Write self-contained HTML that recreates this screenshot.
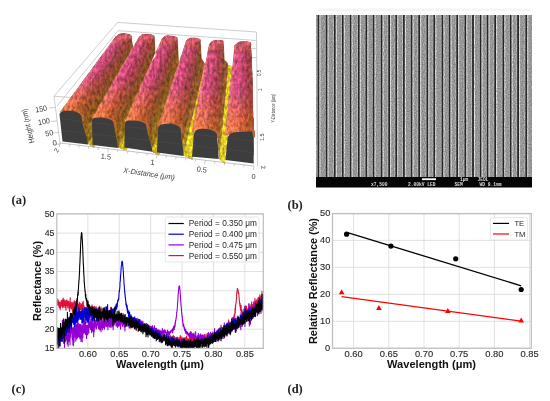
<!DOCTYPE html><html><head><meta charset="utf-8"><style>html,body{margin:0;padding:0;background:#fff;overflow:hidden;}svg{display:block;}text{font-family:"Liberation Sans",sans-serif;}</style></head><body>
<svg width="550" height="401" viewBox="0 0 550 401" style="will-change:transform">
<rect width="550" height="401" fill="#fff"/>
<text x="11.5" y="203.6" style="font-family:'Liberation Serif',serif;font-weight:bold;font-size:12.5px" fill="#222">(a)</text>
<text x="287.5" y="209.3" style="font-family:'Liberation Serif',serif;font-weight:bold;font-size:12.5px" fill="#222">(b)</text>
<text x="11.5" y="392.6" style="font-family:'Liberation Serif',serif;font-weight:bold;font-size:12.5px" fill="#222">(c)</text>
<text x="287.5" y="393.0" style="font-family:'Liberation Serif',serif;font-weight:bold;font-size:12.5px" fill="#222">(d)</text>
<defs><filter id="semn" x="0" y="0" width="1" height="1" filterUnits="objectBoundingBox" color-interpolation-filters="sRGB"><feTurbulence type="fractalNoise" baseFrequency="0.9 0.7" numOctaves="1" seed="3" result="n"/><feColorMatrix in="n" type="matrix" values="1.3 0 0 0 -0.15  1.3 0 0 0 -0.15  1.3 0 0 0 -0.15  0 0 0 0 1" result="g"/><feComposite in="SourceGraphic" in2="g" operator="arithmetic" k1="0.5" k2="0.75" k3="0" k4="0" result="c"/><feComposite in="c" in2="SourceAlpha" operator="in"/></filter></defs>
<rect x="318" y="8.5" width="212" height="2.5" fill="#ececec" opacity="0.6"/>
<g filter="url(#semn)">
<rect x="316" y="15" width="216" height="162" fill="#969696"/>
<rect x="316.85" y="15" width="0.8" height="162" fill="#c0c0c0"/>
<rect x="317.65" y="15" width="1.8" height="162" fill="#262626"/>
<rect x="319.45" y="15" width="1.0" height="162" fill="#dcdcdc"/>
<rect x="324.95" y="15" width="0.8" height="162" fill="#c0c0c0"/>
<rect x="325.75" y="15" width="1.8" height="162" fill="#262626"/>
<rect x="327.55" y="15" width="1.0" height="162" fill="#dcdcdc"/>
<rect x="333.15" y="15" width="0.8" height="162" fill="#c0c0c0"/>
<rect x="333.95" y="15" width="1.8" height="162" fill="#262626"/>
<rect x="335.75" y="15" width="1.0" height="162" fill="#dcdcdc"/>
<rect x="341.15" y="15" width="0.8" height="162" fill="#c0c0c0"/>
<rect x="341.95" y="15" width="1.8" height="162" fill="#262626"/>
<rect x="343.75" y="15" width="1.0" height="162" fill="#dcdcdc"/>
<rect x="348.95" y="15" width="0.8" height="162" fill="#c0c0c0"/>
<rect x="349.75" y="15" width="1.8" height="162" fill="#262626"/>
<rect x="351.55" y="15" width="1.0" height="162" fill="#dcdcdc"/>
<rect x="357.15" y="15" width="0.8" height="162" fill="#c0c0c0"/>
<rect x="357.95" y="15" width="1.8" height="162" fill="#262626"/>
<rect x="359.75" y="15" width="1.0" height="162" fill="#dcdcdc"/>
<rect x="364.75" y="15" width="0.8" height="162" fill="#c0c0c0"/>
<rect x="365.55" y="15" width="1.8" height="162" fill="#262626"/>
<rect x="367.35" y="15" width="1.0" height="162" fill="#dcdcdc"/>
<rect x="371.95" y="15" width="0.8" height="162" fill="#c0c0c0"/>
<rect x="372.75" y="15" width="1.8" height="162" fill="#262626"/>
<rect x="374.55" y="15" width="1.0" height="162" fill="#dcdcdc"/>
<rect x="379.95" y="15" width="0.8" height="162" fill="#c0c0c0"/>
<rect x="380.75" y="15" width="1.8" height="162" fill="#262626"/>
<rect x="382.55" y="15" width="1.0" height="162" fill="#dcdcdc"/>
<rect x="387.55" y="15" width="0.8" height="162" fill="#c0c0c0"/>
<rect x="388.35" y="15" width="1.8" height="162" fill="#262626"/>
<rect x="390.15" y="15" width="1.0" height="162" fill="#dcdcdc"/>
<rect x="394.65" y="15" width="0.8" height="162" fill="#c0c0c0"/>
<rect x="395.45" y="15" width="1.8" height="162" fill="#262626"/>
<rect x="397.25" y="15" width="1.0" height="162" fill="#dcdcdc"/>
<rect x="402.25" y="15" width="0.8" height="162" fill="#c0c0c0"/>
<rect x="403.05" y="15" width="1.8" height="162" fill="#262626"/>
<rect x="404.85" y="15" width="1.0" height="162" fill="#dcdcdc"/>
<rect x="409.95" y="15" width="0.8" height="162" fill="#c0c0c0"/>
<rect x="410.75" y="15" width="1.8" height="162" fill="#262626"/>
<rect x="412.55" y="15" width="1.0" height="162" fill="#dcdcdc"/>
<rect x="417.55" y="15" width="0.8" height="162" fill="#c0c0c0"/>
<rect x="418.35" y="15" width="1.8" height="162" fill="#262626"/>
<rect x="420.15" y="15" width="1.0" height="162" fill="#dcdcdc"/>
<rect x="425.75" y="15" width="0.8" height="162" fill="#c0c0c0"/>
<rect x="426.55" y="15" width="1.8" height="162" fill="#262626"/>
<rect x="428.35" y="15" width="1.0" height="162" fill="#dcdcdc"/>
<rect x="432.65" y="15" width="0.8" height="162" fill="#c0c0c0"/>
<rect x="433.45" y="15" width="1.8" height="162" fill="#262626"/>
<rect x="435.25" y="15" width="1.0" height="162" fill="#dcdcdc"/>
<rect x="440.85" y="15" width="0.8" height="162" fill="#c0c0c0"/>
<rect x="441.65" y="15" width="1.8" height="162" fill="#262626"/>
<rect x="443.45" y="15" width="1.0" height="162" fill="#dcdcdc"/>
<rect x="447.95" y="15" width="0.8" height="162" fill="#c0c0c0"/>
<rect x="448.75" y="15" width="1.8" height="162" fill="#262626"/>
<rect x="450.55" y="15" width="1.0" height="162" fill="#dcdcdc"/>
<rect x="455.55" y="15" width="0.8" height="162" fill="#c0c0c0"/>
<rect x="456.35" y="15" width="1.8" height="162" fill="#262626"/>
<rect x="458.15" y="15" width="1.0" height="162" fill="#dcdcdc"/>
<rect x="463.75" y="15" width="0.8" height="162" fill="#c0c0c0"/>
<rect x="464.55" y="15" width="1.8" height="162" fill="#262626"/>
<rect x="466.35" y="15" width="1.0" height="162" fill="#dcdcdc"/>
<rect x="471.35" y="15" width="0.8" height="162" fill="#c0c0c0"/>
<rect x="472.15" y="15" width="1.8" height="162" fill="#262626"/>
<rect x="473.95" y="15" width="1.0" height="162" fill="#dcdcdc"/>
<rect x="478.95" y="15" width="0.8" height="162" fill="#c0c0c0"/>
<rect x="479.75" y="15" width="1.8" height="162" fill="#262626"/>
<rect x="481.55" y="15" width="1.0" height="162" fill="#dcdcdc"/>
<rect x="485.95" y="15" width="0.8" height="162" fill="#c0c0c0"/>
<rect x="486.75" y="15" width="1.8" height="162" fill="#262626"/>
<rect x="488.55" y="15" width="1.0" height="162" fill="#dcdcdc"/>
<rect x="493.55" y="15" width="0.8" height="162" fill="#c0c0c0"/>
<rect x="494.35" y="15" width="1.8" height="162" fill="#262626"/>
<rect x="496.15" y="15" width="1.0" height="162" fill="#dcdcdc"/>
<rect x="501.75" y="15" width="0.8" height="162" fill="#c0c0c0"/>
<rect x="502.55" y="15" width="1.8" height="162" fill="#262626"/>
<rect x="504.35" y="15" width="1.0" height="162" fill="#dcdcdc"/>
<rect x="509.05" y="15" width="0.8" height="162" fill="#c0c0c0"/>
<rect x="509.85" y="15" width="1.8" height="162" fill="#262626"/>
<rect x="511.65" y="15" width="1.0" height="162" fill="#dcdcdc"/>
<rect x="516.45" y="15" width="0.8" height="162" fill="#c0c0c0"/>
<rect x="517.25" y="15" width="1.8" height="162" fill="#262626"/>
<rect x="519.05" y="15" width="1.0" height="162" fill="#dcdcdc"/>
<rect x="524.65" y="15" width="0.8" height="162" fill="#c0c0c0"/>
<rect x="525.45" y="15" width="1.8" height="162" fill="#262626"/>
<rect x="527.25" y="15" width="1.0" height="162" fill="#dcdcdc"/>
</g>
<rect x="316" y="177" width="216" height="10.5" fill="#050505"/>
<rect x="422" y="178.3" width="14" height="1.8" fill="#fff"/>
<text x="371" y="186.2" style="font-family:'Liberation Mono',monospace;font-size:4.6px;font-weight:bold" fill="#ddd">x7,500</text>
<text x="408" y="186.2" style="font-family:'Liberation Mono',monospace;font-size:4.6px;font-weight:bold" fill="#ddd">2.00kV LED</text>
<text x="454.5" y="186.2" style="font-family:'Liberation Mono',monospace;font-size:4.6px;font-weight:bold" fill="#ddd">SEM</text>
<text x="479.5" y="186.2" style="font-family:'Liberation Mono',monospace;font-size:4.6px;font-weight:bold" fill="#ddd">WD 9.1mm</text>
<text x="460" y="181" style="font-family:'Liberation Mono',monospace;font-size:4.6px;font-weight:bold" fill="#ddd">1&#956;m</text>
<text x="477.5" y="181" style="font-family:'Liberation Mono',monospace;font-size:4.6px;font-weight:bold" fill="#ddd">JEOL</text>
<g>
<line x1="56.8" y1="348.40" x2="263.3" y2="348.40" stroke="#dedede" stroke-width="0.9"/>
<line x1="56.8" y1="329.19" x2="263.3" y2="329.19" stroke="#dedede" stroke-width="0.9"/>
<line x1="56.8" y1="309.98" x2="263.3" y2="309.98" stroke="#dedede" stroke-width="0.9"/>
<line x1="56.8" y1="290.76" x2="263.3" y2="290.76" stroke="#dedede" stroke-width="0.9"/>
<line x1="56.8" y1="271.55" x2="263.3" y2="271.55" stroke="#dedede" stroke-width="0.9"/>
<line x1="56.8" y1="252.33" x2="263.3" y2="252.33" stroke="#dedede" stroke-width="0.9"/>
<line x1="56.8" y1="233.12" x2="263.3" y2="233.12" stroke="#dedede" stroke-width="0.9"/>
<line x1="56.8" y1="213.90" x2="263.3" y2="213.90" stroke="#dedede" stroke-width="0.9"/>
<line x1="87.87" y1="213.9" x2="87.87" y2="348.4" stroke="#dedede" stroke-width="0.9"/>
<line x1="119.27" y1="213.9" x2="119.27" y2="348.4" stroke="#dedede" stroke-width="0.9"/>
<line x1="150.68" y1="213.9" x2="150.68" y2="348.4" stroke="#dedede" stroke-width="0.9"/>
<line x1="182.08" y1="213.9" x2="182.08" y2="348.4" stroke="#dedede" stroke-width="0.9"/>
<line x1="213.48" y1="213.9" x2="213.48" y2="348.4" stroke="#dedede" stroke-width="0.9"/>
<line x1="244.88" y1="213.9" x2="244.88" y2="348.4" stroke="#dedede" stroke-width="0.9"/>
<clipPath id="cc"><rect x="56.8" y="213.9" width="206.5" height="134.49999999999997"/></clipPath>
<g clip-path="url(#cc)" fill="none" stroke-width="1.1" stroke-linejoin="round">
<polyline points="56.8,302.3 57.0,301.6 57.1,303.0 57.2,304.6 57.4,303.5 57.5,304.9 57.6,302.3 57.7,299.1 57.9,303.8 58.0,304.1 58.1,301.3 58.3,301.7 58.4,302.3 58.5,305.0 58.7,302.7 58.8,300.9 58.9,306.2 59.0,303.9 59.2,307.7 59.3,306.1 59.4,307.6 59.6,303.5 59.7,306.2 59.8,302.2 59.9,302.5 60.1,303.4 60.2,309.6 60.3,304.4 60.5,303.2 60.6,302.8 60.7,307.2 60.8,304.4 61.0,305.8 61.1,305.3 61.2,300.3 61.4,305.4 61.5,303.3 61.6,300.9 61.8,304.9 61.9,303.6 62.0,303.1 62.1,303.2 62.3,306.8 62.4,303.2 62.5,299.7 62.7,307.8 62.8,301.1 62.9,303.2 63.0,305.4 63.2,298.0 63.3,301.5 63.4,307.0 63.6,303.5 63.7,302.1 63.8,304.3 63.9,301.8 64.1,304.0 64.2,301.9 64.3,299.7 64.5,305.8 64.6,303.3 64.7,305.3 64.9,303.6 65.0,307.4 65.1,305.7 65.2,304.6 65.4,301.4 65.5,300.7 65.6,308.0 65.8,306.5 65.9,302.2 66.0,310.1 66.1,305.6 66.3,304.5 66.4,300.5 66.5,302.2 66.7,305.3 66.8,305.5 66.9,305.1 67.0,299.8 67.2,305.7 67.3,305.4 67.4,303.4 67.6,304.9 67.7,305.2 67.8,308.0 68.0,304.6 68.1,306.0 68.2,301.0 68.3,302.6 68.5,304.8 68.6,302.6 68.7,305.8 68.9,301.5 69.0,304.8 69.1,303.0 69.2,309.0 69.4,303.8 69.5,310.3 69.6,311.5 69.8,306.0 69.9,307.9 70.0,304.5 70.2,297.7 70.3,307.8 70.4,307.2 70.5,304.5 70.7,303.5 70.8,305.8 70.9,305.9 71.1,302.9 71.2,303.5 71.3,308.8 71.4,305.6 71.6,305.2 71.7,308.9 71.8,304.5 72.0,308.4 72.1,302.1 72.2,304.8 72.3,305.2 72.5,307.6 72.6,306.0 72.7,312.5 72.9,309.6 73.0,304.4 73.1,313.2 73.3,302.7 73.4,311.9 73.5,303.1 73.6,308.8 73.8,303.0 73.9,305.4 74.0,311.4 74.2,301.3 74.3,300.7 74.4,306.2 74.5,307.0 74.7,306.6 74.8,309.6 74.9,302.0 75.1,308.1 75.2,306.3 75.3,309.1 75.4,308.5 75.6,311.0 75.7,301.5 75.8,306.9 76.0,302.7 76.1,306.3 76.2,309.1 76.4,307.7 76.5,308.6 76.6,306.5 76.7,308.0 76.9,307.8 77.0,311.9 77.1,309.8 77.3,300.5 77.4,309.4 77.5,310.9 77.6,305.6 77.8,301.6 77.9,312.5 78.0,307.8 78.2,309.5 78.3,313.8 78.4,304.4 78.5,307.3 78.7,307.0 78.8,310.2 78.9,305.6 79.1,309.4 79.2,308.0 79.3,311.7 79.5,312.2 79.6,302.4 79.7,309.5 79.8,306.5 80.0,307.8 80.1,309.4 80.2,309.7 80.4,305.4 80.5,309.0 80.6,308.5 80.7,307.9 80.9,303.4 81.0,305.4 81.1,306.6 81.3,310.3 81.4,313.5 81.5,304.5 81.6,304.5 81.8,308.8 81.9,306.2 82.0,305.3 82.2,305.2 82.3,304.9 82.4,310.3 82.6,302.6 82.7,313.5 82.8,305.3 82.9,306.7 83.1,305.3 83.2,301.4 83.3,303.0 83.5,313.3 83.6,315.5 83.7,305.7 83.8,313.0 84.0,309.1 84.1,305.7 84.2,315.6 84.4,317.5 84.5,308.2 84.6,309.1 84.7,310.3 84.9,309.2 85.0,312.8 85.1,315.4 85.3,310.1 85.4,313.4 85.5,316.1 85.7,307.6 85.8,309.9 85.9,308.0 86.0,313.7 86.2,312.4 86.3,313.8 86.4,313.4 86.6,309.1 86.7,313.1 86.8,308.5 86.9,308.6 87.1,301.9 87.2,315.7 87.3,306.5 87.5,310.5 87.6,310.3 87.7,316.2 87.8,312.2 88.0,307.3 88.1,310.7 88.2,310.1 88.4,311.7 88.5,305.8 88.6,310.7 88.8,319.6 88.9,313.5 89.0,318.7 89.1,324.0 89.3,313.0 89.4,305.4 89.5,310.7 89.7,315.7 89.8,314.8 89.9,306.4 90.0,310.5 90.2,311.0 90.3,311.4 90.4,311.1 90.6,308.0 90.7,309.1 90.8,310.5 90.9,315.8 91.1,309.4 91.2,314.4 91.3,307.1 91.5,316.9 91.6,312.3 91.7,311.8 91.9,317.3 92.0,304.8 92.1,305.9 92.2,313.9 92.4,308.9 92.5,310.5 92.6,323.0 92.8,311.2 92.9,312.5 93.0,312.0 93.1,316.8 93.3,313.5 93.4,313.2 93.5,307.6 93.7,311.2 93.8,312.7 93.9,306.3 94.0,315.1 94.2,314.4 94.3,320.4 94.4,306.3 94.6,308.9 94.7,309.2 94.8,310.3 95.0,312.7 95.1,312.3 95.2,314.3 95.3,314.1 95.5,313.1 95.6,307.0 95.7,311.1 95.9,313.7 96.0,316.0 96.1,316.3 96.2,306.8 96.4,311.5 96.5,313.5 96.6,315.3 96.8,318.6 96.9,314.2 97.0,310.2 97.1,315.7 97.3,315.0 97.4,315.1 97.5,313.7 97.7,321.1 97.8,315.3 97.9,318.0 98.1,310.6 98.2,317.8 98.3,312.0 98.4,307.9 98.6,315.9 98.7,317.2 98.8,313.9 99.0,314.8 99.1,319.1 99.2,312.8 99.3,306.1 99.5,316.1 99.6,315.9 99.7,319.6 99.9,313.7 100.0,320.6 100.1,320.1 100.3,309.6 100.4,319.3 100.5,310.6 100.6,308.7 100.8,314.2 100.9,313.0 101.0,306.9 101.2,316.3 101.3,318.0 101.4,321.4 101.5,315.3 101.7,309.1 101.8,311.3 101.9,319.6 102.1,319.2 102.2,317.7 102.3,314.3 102.4,316.5 102.6,314.7 102.7,314.3 102.8,316.9 103.0,315.8 103.1,314.8 103.2,316.0 103.4,313.5 103.5,307.8 103.6,313.2 103.7,315.5 103.9,322.8 104.0,314.1 104.1,323.9 104.3,321.6 104.4,312.3 104.5,312.9 104.6,316.4 104.8,322.9 104.9,317.4 105.0,318.7 105.2,313.3 105.3,306.7 105.4,315.0 105.5,319.1 105.7,320.7 105.8,316.2 105.9,316.7 106.1,320.6 106.2,315.5 106.3,320.6 106.5,311.6 106.6,311.8 106.7,311.8 106.8,317.9 107.0,314.1 107.1,316.6 107.2,317.6 107.4,317.5 107.5,321.2 107.6,321.8 107.7,313.1 107.9,316.9 108.0,315.4 108.1,312.4 108.3,322.9 108.4,319.2 108.5,315.6 108.6,314.8 108.8,317.7 108.9,312.4 109.0,315.5 109.2,320.9 109.3,319.8 109.4,313.4 109.6,314.7 109.7,323.4 109.8,311.4 109.9,314.2 110.1,311.5 110.2,317.9 110.3,317.6 110.5,320.6 110.6,307.3 110.7,317.2 110.8,310.8 111.0,318.9 111.1,316.0 111.2,322.6 111.4,318.0 111.5,313.1 111.6,321.1 111.7,312.9 111.9,315.5 112.0,320.3 112.1,318.4 112.3,318.3 112.4,316.9 112.5,318.6 112.7,319.6 112.8,317.8 112.9,320.3 113.0,321.2 113.2,317.0 113.3,313.8 113.4,322.0 113.6,316.8 113.7,319.1 113.8,320.2 113.9,314.0 114.1,318.6 114.2,311.9 114.3,319.5 114.5,315.7 114.6,317.7 114.7,319.5 114.8,315.1 115.0,317.5 115.1,315.1 115.2,317.2 115.4,320.6 115.5,317.4 115.6,316.9 115.8,314.1 115.9,320.0 116.0,317.3 116.1,322.5 116.3,315.1 116.4,320.5 116.5,322.8 116.7,317.4 116.8,313.8 116.9,321.9 117.0,320.6 117.2,319.5 117.3,320.7 117.4,316.2 117.6,319.7 117.7,319.5 117.8,315.6 117.9,319.6 118.1,316.1 118.2,320.2 118.3,320.9 118.5,322.7 118.6,312.1 118.7,318.4 118.9,316.8 119.0,317.6 119.1,317.0 119.2,317.4 119.4,312.2 119.5,320.4 119.6,321.9 119.8,320.4 119.9,321.3 120.0,315.5 120.1,315.3 120.3,320.3 120.4,321.4 120.5,318.6 120.7,313.9 120.8,325.5 120.9,316.4 121.0,320.8 121.2,315.1 121.3,320.9 121.4,318.8 121.6,322.2 121.7,320.8 121.8,314.4 122.0,316.0 122.1,319.4 122.2,320.7 122.3,323.6 122.5,319.5 122.6,318.6 122.7,318.8 122.9,318.9 123.0,321.8 123.1,318.9 123.2,318.9 123.4,315.2 123.5,313.7 123.6,319.3 123.8,321.1 123.9,319.2 124.0,320.8 124.1,321.2 124.3,319.3 124.4,322.1 124.5,317.6 124.7,319.6 124.8,318.7 124.9,320.0 125.1,321.5 125.2,322.2 125.3,320.3 125.4,321.2 125.6,319.1 125.7,319.8 125.8,323.6 126.0,319.7 126.1,323.6 126.2,321.7 126.3,320.8 126.5,325.7 126.6,319.9 126.7,319.8 126.9,320.7 127.0,321.4 127.1,321.3 127.3,323.0 127.4,321.2 127.5,322.0 127.6,320.3 127.8,323.8 127.9,320.0 128.0,320.3 128.2,321.1 128.3,322.0 128.4,319.4 128.5,325.3 128.7,319.8 128.8,320.4 128.9,320.3 129.1,320.1 129.2,322.9 129.3,321.9 129.4,319.6 129.6,320.2 129.7,320.9 129.8,325.4 130.0,320.1 130.1,318.5 130.2,319.0 130.4,321.1 130.5,325.7 130.6,319.3 130.7,322.2 130.9,328.3 131.0,321.0 131.1,325.8 131.3,325.3 131.4,323.7 131.5,318.9 131.6,323.1 131.8,321.6 131.9,317.9 132.0,318.3 132.2,322.7 132.3,323.0 132.4,325.6 132.5,324.3 132.7,321.5 132.8,321.7 132.9,322.4 133.1,320.3 133.2,324.7 133.3,323.0 133.5,321.1 133.6,321.5 133.7,320.4 133.8,322.1 134.0,323.9 134.1,322.3 134.2,325.7 134.4,327.3 134.5,321.9 134.6,323.5 134.7,322.7 134.9,327.6 135.0,324.4 135.1,325.0 135.3,325.7 135.4,329.1 135.5,324.6 135.6,321.7 135.8,323.0 135.9,325.3 136.0,324.0 136.2,322.2 136.3,330.6 136.4,324.4 136.6,322.9 136.7,322.6 136.8,320.3 136.9,321.7 137.1,323.7 137.2,323.7 137.3,322.7 137.5,325.8 137.6,324.7 137.7,322.6 137.8,320.2 138.0,325.1 138.1,324.9 138.2,324.4 138.4,321.9 138.5,325.0 138.6,321.7 138.7,327.3 138.9,325.6 139.0,325.6 139.1,323.5 139.3,322.9 139.4,328.7 139.5,327.4 139.7,324.7 139.8,327.0 139.9,328.9 140.0,323.3 140.2,324.6 140.3,324.6 140.4,326.8 140.6,323.6 140.7,326.4 140.8,323.5 140.9,328.0 141.1,327.9 141.2,325.6 141.3,327.6 141.5,324.7 141.6,325.7 141.7,328.3 141.8,326.2 142.0,327.1 142.1,324.5 142.2,327.8 142.4,327.5 142.5,324.1 142.6,322.0 142.8,322.5 142.9,326.6 143.0,326.4 143.1,323.7 143.3,327.2 143.4,329.0 143.5,326.8 143.7,326.2 143.8,328.8 143.9,330.5 144.0,330.2 144.2,325.9 144.3,328.9 144.4,327.7 144.6,327.0 144.7,326.3 144.8,328.2 144.9,326.6 145.1,329.4 145.2,328.4 145.3,329.8 145.5,325.6 145.6,327.9 145.7,329.4 145.9,328.7 146.0,328.5 146.1,326.7 146.2,331.2 146.4,330.2 146.5,329.0 146.6,323.4 146.8,326.5 146.9,328.6 147.0,327.1 147.1,324.6 147.3,329.0 147.4,329.3 147.5,326.4 147.7,327.8 147.8,327.5 147.9,329.8 148.0,325.3 148.2,325.7 148.3,327.9 148.4,327.8 148.6,332.8 148.7,328.0 148.8,329.5 149.0,328.4 149.1,328.0 149.2,330.0 149.3,332.5 149.5,328.8 149.6,330.8 149.7,330.1 149.9,330.7 150.0,330.3 150.1,333.8 150.2,327.6 150.4,329.4 150.5,327.9 150.6,326.4 150.8,329.9 150.9,333.2 151.0,331.7 151.1,332.3 151.3,331.1 151.4,330.2 151.5,333.9 151.7,329.8 151.8,333.1 151.9,330.0 152.1,330.8 152.2,331.2 152.3,330.9 152.4,331.8 152.6,332.0 152.7,333.9 152.8,331.1 153.0,327.8 153.1,327.6 153.2,328.9 153.3,330.0 153.5,332.5 153.6,328.8 153.7,331.5 153.9,331.6 154.0,332.1 154.1,331.5 154.3,332.5 154.4,331.9 154.5,333.7 154.6,332.6 154.8,327.9 154.9,332.1 155.0,332.5 155.2,331.2 155.3,331.0 155.4,334.2 155.5,332.7 155.7,330.8 155.8,332.0 155.9,332.3 156.1,329.8 156.2,333.9 156.3,332.6 156.4,333.7 156.6,330.2 156.7,336.4 156.8,334.2 157.0,334.0 157.1,331.9 157.2,332.1 157.4,330.7 157.5,336.1 157.6,332.0 157.7,333.9 157.9,334.7 158.0,332.6 158.1,335.3 158.3,337.4 158.4,334.4 158.5,336.5 158.6,335.0 158.8,333.3 158.9,333.4 159.0,331.2 159.2,334.5 159.3,337.0 159.4,335.6 159.5,336.0 159.7,336.6 159.8,333.6 159.9,335.7 160.1,338.2 160.2,333.4 160.3,334.9 160.5,334.1 160.6,334.6 160.7,333.7 160.8,334.9 161.0,332.8 161.1,334.3 161.2,334.4 161.4,334.5 161.5,337.9 161.6,335.6 161.7,335.9 161.9,335.1 162.0,338.0 162.1,332.6 162.3,335.5 162.4,337.9 162.5,338.9 162.6,336.4 162.8,336.1 162.9,337.3 163.0,335.9 163.2,337.3 163.3,335.1 163.4,337.6 163.6,336.4 163.7,334.5 163.8,331.6 163.9,338.3 164.1,337.4 164.2,338.2 164.3,335.2 164.5,338.9 164.6,337.7 164.7,336.9 164.8,338.7 165.0,338.8 165.1,337.9 165.2,341.0 165.4,339.9 165.5,338.0 165.6,337.0 165.7,337.7 165.9,340.8 166.0,338.4 166.1,336.1 166.3,336.6 166.4,337.8 166.5,339.4 166.7,336.6 166.8,339.0 166.9,340.2 167.0,339.5 167.2,335.3 167.3,337.7 167.4,336.0 167.6,339.2 167.7,336.5 167.8,339.5 167.9,338.7 168.1,333.8 168.2,337.1 168.3,339.6 168.5,338.9 168.6,338.1 168.7,336.5 168.8,339.8 169.0,342.3 169.1,339.6 169.2,339.1 169.4,338.9 169.5,336.7 169.6,338.7 169.8,337.8 169.9,341.5 170.0,337.8 170.1,335.5 170.3,338.0 170.4,339.0 170.5,339.2 170.7,336.1 170.8,341.3 170.9,339.7 171.0,338.7 171.2,338.1 171.3,340.4 171.4,338.9 171.6,340.1 171.7,339.3 171.8,339.8 171.9,341.7 172.1,339.6 172.2,337.9 172.3,341.4 172.5,340.0 172.6,338.3 172.7,341.5 172.9,339.2 173.0,341.5 173.1,337.4 173.2,335.2 173.4,335.7 173.5,339.9 173.6,338.1 173.8,339.3 173.9,339.3 174.0,336.6 174.1,342.0 174.3,337.6 174.4,339.6 174.5,336.9 174.7,339.2 174.8,340.8 174.9,339.0 175.0,338.2 175.2,339.5 175.3,338.6 175.4,340.5 175.6,343.5 175.7,337.9 175.8,338.2 176.0,339.3 176.1,339.4 176.2,337.6 176.3,340.4 176.5,340.8 176.6,339.9 176.7,337.4 176.9,342.1 177.0,337.4 177.1,340.7 177.2,341.5 177.4,337.2 177.5,339.7 177.6,341.9 177.8,340.2 177.9,337.8 178.0,337.4 178.1,340.3 178.3,338.8 178.4,338.2 178.5,340.7 178.7,338.9 178.8,339.6 178.9,340.5 179.1,340.4 179.2,339.4 179.3,339.5 179.4,340.5 179.6,340.3 179.7,337.5 179.8,339.1 180.0,337.9 180.1,337.4 180.2,338.5 180.3,335.5 180.5,341.0 180.6,338.1 180.7,340.1 180.9,336.2 181.0,336.5 181.1,343.0 181.3,341.2 181.4,338.3 181.5,338.1 181.6,338.2 181.8,339.6 181.9,338.7 182.0,338.4 182.2,339.7 182.3,337.7 182.4,343.5 182.5,338.4 182.7,341.3 182.8,337.8 182.9,339.9 183.1,341.1 183.2,338.9 183.3,341.1 183.4,341.1 183.6,342.2 183.7,339.6 183.8,338.7 184.0,337.7 184.1,339.8 184.2,337.7 184.4,339.5 184.5,339.7 184.6,338.5 184.7,337.7 184.9,340.1 185.0,339.9 185.1,339.8 185.3,339.4 185.4,341.1 185.5,337.7 185.6,340.2 185.8,338.7 185.9,340.9 186.0,338.9 186.2,338.8 186.3,340.2 186.4,336.0 186.5,338.9 186.7,336.4 186.8,337.8 186.9,340.7 187.1,340.2 187.2,338.7 187.3,339.4 187.5,339.4 187.6,340.0 187.7,342.7 187.8,339.9 188.0,343.4 188.1,338.8 188.2,340.8 188.4,340.8 188.5,339.9 188.6,339.0 188.7,342.1 188.9,342.7 189.0,341.4 189.1,343.2 189.3,341.3 189.4,336.6 189.5,341.4 189.6,338.3 189.8,342.0 189.9,339.0 190.0,340.1 190.2,339.7 190.3,338.5 190.4,336.3 190.6,339.2 190.7,339.3 190.8,341.4 190.9,338.5 191.1,340.0 191.2,338.0 191.3,339.6 191.5,336.3 191.6,343.3 191.7,340.1 191.8,337.9 192.0,340.2 192.1,341.1 192.2,340.1 192.4,342.2 192.5,339.4 192.6,335.0 192.7,337.4 192.9,341.7 193.0,341.3 193.1,340.4 193.3,337.7 193.4,341.2 193.5,340.9 193.7,337.9 193.8,338.0 193.9,340.3 194.0,341.8 194.2,342.6 194.3,341.0 194.4,344.0 194.6,338.2 194.7,340.9 194.8,338.7 194.9,336.0 195.1,337.3 195.2,341.9 195.3,337.9 195.5,337.4 195.6,341.1 195.7,341.5 195.8,339.9 196.0,342.8 196.1,336.7 196.2,344.5 196.4,341.9 196.5,340.2 196.6,340.1 196.8,339.3 196.9,339.1 197.0,340.1 197.1,337.4 197.3,344.0 197.4,339.7 197.5,341.1 197.7,339.4 197.8,339.2 197.9,341.6 198.0,341.0 198.2,338.1 198.3,339.0 198.4,341.1 198.6,335.5 198.7,334.9 198.8,342.7 198.9,339.1 199.1,334.5 199.2,338.1 199.3,339.3 199.5,340.2 199.6,340.9 199.7,340.2 199.9,340.9 200.0,338.2 200.1,340.6 200.2,340.7 200.4,342.3 200.5,339.8 200.6,341.6 200.8,340.1 200.9,337.5 201.0,339.0 201.1,338.7 201.3,339.0 201.4,339.6 201.5,340.0 201.7,340.4 201.8,338.1 201.9,342.1 202.0,336.9 202.2,339.7 202.3,341.4 202.4,340.8 202.6,341.3 202.7,339.4 202.8,341.4 203.0,337.3 203.1,341.5 203.2,344.8 203.3,341.4 203.5,344.3 203.6,339.9 203.7,337.4 203.9,338.4 204.0,342.8 204.1,341.5 204.2,335.8 204.4,339.1 204.5,339.8 204.6,337.4 204.8,334.2 204.9,336.8 205.0,339.4 205.1,338.9 205.3,338.2 205.4,341.0 205.5,342.0 205.7,339.4 205.8,341.7 205.9,339.6 206.1,339.2 206.2,334.0 206.3,341.4 206.4,339.6 206.6,339.7 206.7,338.2 206.8,336.8 207.0,340.3 207.1,341.1 207.2,343.0 207.3,341.3 207.5,337.8 207.6,338.9 207.7,341.4 207.9,339.8 208.0,338.8 208.1,337.7 208.3,340.3 208.4,339.4 208.5,343.2 208.6,341.5 208.8,334.8 208.9,344.0 209.0,339.5 209.2,338.1 209.3,339.5 209.4,340.5 209.5,338.6 209.7,338.5 209.8,338.6 209.9,343.0 210.1,338.7 210.2,340.4 210.3,339.6 210.4,337.7 210.6,336.6 210.7,335.9 210.8,339.4 211.0,335.8 211.1,335.1 211.2,335.1 211.4,334.5 211.5,338.3 211.6,338.4 211.7,335.8 211.9,341.3 212.0,337.3 212.1,339.1 212.3,338.7 212.4,342.2 212.5,340.0 212.6,337.7 212.8,335.3 212.9,335.0 213.0,337.7 213.2,338.0 213.3,339.6 213.4,336.3 213.5,338.0 213.7,335.7 213.8,332.6 213.9,337.2 214.1,341.0 214.2,339.2 214.3,340.7 214.5,340.0 214.6,333.3 214.7,336.1 214.8,340.6 215.0,334.8 215.1,333.1 215.2,337.3 215.4,338.1 215.5,337.1 215.6,335.4 215.7,334.4 215.9,332.9 216.0,332.7 216.1,332.7 216.3,332.1 216.4,333.9 216.5,339.7 216.6,335.9 216.8,334.6 216.9,336.4 217.0,332.9 217.2,336.2 217.3,337.7 217.4,331.2 217.6,333.2 217.7,334.4 217.8,332.4 217.9,331.9 218.1,333.8 218.2,341.4 218.3,336.4 218.5,335.8 218.6,337.1 218.7,333.8 218.8,331.0 219.0,335.5 219.1,337.2 219.2,328.4 219.4,335.2 219.5,337.3 219.6,333.2 219.7,332.6 219.9,335.6 220.0,331.4 220.1,334.9 220.3,336.0 220.4,332.8 220.5,331.1 220.7,335.0 220.8,332.2 220.9,333.3 221.0,325.0 221.2,334.9 221.3,328.9 221.4,332.9 221.6,333.0 221.7,330.5 221.8,329.9 221.9,328.8 222.1,331.4 222.2,333.9 222.3,333.7 222.5,330.6 222.6,330.3 222.7,327.9 222.8,330.6 223.0,328.7 223.1,327.3 223.2,331.1 223.4,335.7 223.5,334.8 223.6,335.4 223.8,326.7 223.9,333.6 224.0,327.5 224.1,329.3 224.3,326.0 224.4,327.9 224.5,331.0 224.7,331.2 224.8,330.3 224.9,329.9 225.0,331.9 225.2,330.4 225.3,325.5 225.4,335.0 225.6,329.3 225.7,332.5 225.8,329.3 225.9,327.3 226.1,329.8 226.2,327.3 226.3,334.0 226.5,326.1 226.6,330.9 226.7,327.3 226.9,328.4 227.0,336.2 227.1,330.8 227.2,327.9 227.4,324.1 227.5,327.5 227.6,327.5 227.8,332.0 227.9,323.9 228.0,322.8 228.1,327.6 228.3,328.2 228.4,331.9 228.5,324.8 228.7,319.7 228.8,325.0 228.9,323.4 229.0,325.3 229.2,329.3 229.3,322.8 229.4,329.6 229.6,326.7 229.7,325.2 229.8,323.5 230.0,324.6 230.1,324.5 230.2,327.3 230.3,328.5 230.5,324.8 230.6,326.6 230.7,328.0 230.9,327.6 231.0,325.5 231.1,328.7 231.2,327.2 231.4,327.6 231.5,322.9 231.6,322.2 231.8,318.1 231.9,326.3 232.0,324.0 232.1,320.0 232.3,322.4 232.4,322.4 232.5,317.5 232.7,321.8 232.8,323.3 232.9,323.2 233.1,319.3 233.2,319.0 233.3,322.1 233.4,320.9 233.6,317.4 233.7,316.8 233.8,318.7 234.0,315.8 234.1,315.4 234.2,319.1 234.3,315.8 234.5,313.9 234.6,314.9 234.7,316.7 234.9,312.9 235.0,310.5 235.1,308.4 235.3,313.0 235.4,305.2 235.5,309.3 235.6,305.4 235.8,303.9 235.9,303.0 236.0,302.7 236.2,302.8 236.3,299.4 236.4,299.4 236.5,299.8 236.7,293.1 236.8,293.9 236.9,291.6 237.1,292.9 237.2,289.8 237.3,288.9 237.4,288.3 237.6,289.3 237.7,290.1 237.8,289.3 238.0,291.4 238.1,291.5 238.2,290.6 238.4,292.5 238.5,292.7 238.6,293.8 238.7,292.9 238.9,294.6 239.0,297.2 239.1,297.0 239.3,300.3 239.4,300.9 239.5,300.5 239.6,304.1 239.8,303.8 239.9,306.1 240.0,305.0 240.2,303.5 240.3,307.7 240.4,306.9 240.5,309.2 240.7,310.2 240.8,310.8 240.9,306.8 241.1,305.6 241.2,309.2 241.3,311.7 241.5,309.4 241.6,311.6 241.7,309.7 241.8,310.9 242.0,311.1 242.1,310.6 242.2,313.2 242.4,313.0 242.5,315.8 242.6,313.3 242.7,315.5 242.9,312.9 243.0,314.7 243.1,312.5 243.3,311.8 243.4,316.0 243.5,314.7 243.6,315.0 243.8,311.2 243.9,309.0 244.0,311.0 244.2,313.7 244.3,309.5 244.4,316.4 244.6,309.4 244.7,314.4 244.8,319.4 244.9,306.5 245.1,309.0 245.2,315.2 245.3,312.3 245.5,313.1 245.6,312.3 245.7,316.1 245.8,314.1 246.0,311.3 246.1,311.8 246.2,309.3 246.4,312.0 246.5,306.4 246.6,313.8 246.7,311.4 246.9,316.6 247.0,314.9 247.1,308.5 247.3,314.0 247.4,310.3 247.5,311.7 247.7,314.0 247.8,312.2 247.9,312.5 248.0,312.4 248.2,309.2 248.3,309.4 248.4,312.4 248.6,313.1 248.7,310.0 248.8,310.9 248.9,308.0 249.1,303.8 249.2,308.3 249.3,310.3 249.5,310.6 249.6,312.2 249.7,312.2 249.8,312.4 250.0,310.7 250.1,310.7 250.2,307.7 250.4,310.5 250.5,309.9 250.6,312.3 250.8,305.1 250.9,307.8 251.0,304.5 251.1,306.9 251.3,305.0 251.4,309.2 251.5,306.8 251.7,301.7 251.8,311.3 251.9,305.3 252.0,303.9 252.2,307.0 252.3,306.0 252.4,304.6 252.6,309.3 252.7,306.5 252.8,309.6 252.9,309.0 253.1,308.8 253.2,307.5 253.3,306.6 253.5,305.8 253.6,310.3 253.7,301.7 253.9,303.7 254.0,304.6 254.1,307.2 254.2,306.5 254.4,304.8 254.5,305.0 254.6,310.1 254.8,303.9 254.9,298.4 255.0,310.1 255.1,302.9 255.3,304.3 255.4,305.3 255.5,301.5 255.7,307.6 255.8,304.1 255.9,300.7 256.0,304.7 256.2,305.0 256.3,303.6 256.4,304.8 256.6,299.7 256.7,305.5 256.8,301.0 257.0,306.0 257.1,301.2 257.2,302.9 257.3,308.8 257.5,302.3 257.6,304.7 257.7,303.0 257.9,298.1 258.0,304.3 258.1,304.0 258.2,297.8 258.4,300.8 258.5,297.2 258.6,300.0 258.8,302.7 258.9,300.6 259.0,297.3 259.1,297.8 259.3,299.9 259.4,299.6 259.5,299.8 259.7,300.8 259.8,294.7 259.9,299.0 260.1,301.5 260.2,299.8 260.3,296.8 260.4,296.9 260.6,298.5 260.7,299.6 260.8,297.8 261.0,301.6 261.1,300.5 261.2,295.5 261.3,298.3 261.5,296.1 261.6,294.0 261.7,295.1 261.9,296.4 262.0,291.4 262.1,294.6 262.3,296.7 262.4,294.1 262.5,294.7 262.6,297.4 262.8,295.1 262.9,295.4 263.0,299.3 263.2,295.1 263.3,295.2 263.4,295.4" stroke="#dc143c"/>
<polyline points="56.8,345.0 57.0,337.7 57.1,335.9 57.2,335.0 57.4,342.2 57.5,331.8 57.6,342.7 57.7,336.8 57.9,327.6 58.0,339.7 58.1,338.5 58.3,328.7 58.4,337.8 58.5,337.2 58.7,333.9 58.8,328.5 58.9,349.5 59.0,340.6 59.2,341.8 59.3,342.4 59.4,340.9 59.6,340.8 59.7,333.0 59.8,341.2 59.9,334.1 60.1,332.2 60.2,340.0 60.3,334.0 60.5,323.6 60.6,332.6 60.7,339.2 60.8,335.2 61.0,341.0 61.1,332.9 61.2,328.8 61.4,340.2 61.5,336.1 61.6,327.1 61.8,337.9 61.9,333.3 62.0,341.4 62.1,340.0 62.3,337.9 62.4,320.1 62.5,337.1 62.7,337.8 62.8,338.0 62.9,335.4 63.0,330.0 63.2,333.0 63.3,320.8 63.4,332.8 63.6,324.8 63.7,332.3 63.8,330.2 63.9,343.4 64.1,334.9 64.2,334.5 64.3,335.6 64.5,347.8 64.6,328.3 64.7,336.4 64.9,336.7 65.0,335.5 65.1,335.3 65.2,331.2 65.4,341.8 65.5,339.6 65.6,331.8 65.8,332.7 65.9,336.0 66.0,337.2 66.1,338.8 66.3,333.9 66.4,326.1 66.5,340.1 66.7,323.9 66.8,328.1 66.9,336.2 67.0,328.5 67.2,342.5 67.3,344.1 67.4,341.3 67.6,335.8 67.7,335.2 67.8,336.4 68.0,332.5 68.1,346.3 68.2,330.0 68.3,341.8 68.5,337.1 68.6,335.5 68.7,340.1 68.9,341.4 69.0,339.1 69.1,333.0 69.2,329.3 69.4,329.4 69.5,338.9 69.6,337.6 69.8,338.3 69.9,330.0 70.0,345.0 70.2,325.2 70.3,335.6 70.4,337.3 70.5,330.5 70.7,326.3 70.8,330.5 70.9,326.2 71.1,331.6 71.2,325.1 71.3,325.0 71.4,333.0 71.6,323.8 71.7,331.3 71.8,331.8 72.0,337.7 72.1,333.9 72.2,327.6 72.3,339.9 72.5,328.3 72.6,330.0 72.7,330.4 72.9,345.0 73.0,332.6 73.1,328.2 73.3,336.4 73.4,331.4 73.5,345.7 73.6,328.0 73.8,335.7 73.9,326.7 74.0,342.4 74.2,327.7 74.3,333.1 74.4,327.0 74.5,337.0 74.7,335.2 74.8,318.7 74.9,336.3 75.1,335.6 75.2,333.1 75.3,337.3 75.4,324.7 75.6,321.6 75.7,335.4 75.8,341.1 76.0,324.7 76.1,325.0 76.2,326.6 76.4,324.7 76.5,336.0 76.6,332.1 76.7,338.8 76.9,339.0 77.0,325.5 77.1,334.7 77.3,318.2 77.4,330.5 77.5,334.4 77.6,326.4 77.8,320.8 77.9,328.1 78.0,337.4 78.2,328.6 78.3,323.1 78.4,333.3 78.5,334.8 78.7,325.0 78.8,329.7 78.9,336.5 79.1,332.5 79.2,334.5 79.3,328.8 79.5,329.7 79.6,324.1 79.7,326.4 79.8,338.7 80.0,328.0 80.1,325.3 80.2,327.7 80.4,324.5 80.5,333.0 80.6,335.1 80.7,325.0 80.9,335.6 81.0,341.4 81.1,324.4 81.3,333.7 81.4,331.4 81.5,337.2 81.6,336.7 81.8,335.8 81.9,331.6 82.0,327.7 82.2,341.7 82.3,325.6 82.4,335.7 82.6,335.1 82.7,325.9 82.8,329.8 82.9,337.4 83.1,319.7 83.2,333.8 83.3,328.0 83.5,328.2 83.6,321.9 83.7,331.5 83.8,323.9 84.0,332.9 84.1,323.3 84.2,332.9 84.4,330.8 84.5,319.2 84.6,327.3 84.7,328.3 84.9,317.4 85.0,327.0 85.1,332.9 85.3,325.0 85.4,334.7 85.5,323.0 85.7,322.5 85.8,331.5 85.9,331.7 86.0,327.6 86.2,328.4 86.3,333.3 86.4,325.6 86.6,338.5 86.7,330.5 86.8,330.3 86.9,329.6 87.1,326.7 87.2,334.3 87.3,325.3 87.5,329.0 87.6,331.3 87.7,334.8 87.8,333.8 88.0,326.2 88.1,332.6 88.2,327.6 88.4,322.7 88.5,322.8 88.6,320.2 88.8,329.2 88.9,332.9 89.0,322.7 89.1,326.1 89.3,322.2 89.4,327.5 89.5,321.7 89.7,323.4 89.8,324.0 89.9,325.0 90.0,325.4 90.2,326.2 90.3,326.2 90.4,322.5 90.6,329.6 90.7,318.9 90.8,327.6 90.9,322.4 91.1,327.4 91.2,328.1 91.3,317.4 91.5,328.3 91.6,332.8 91.7,330.1 91.9,328.2 92.0,316.7 92.1,325.7 92.2,322.3 92.4,331.2 92.5,324.9 92.6,323.4 92.8,318.2 92.9,329.6 93.0,323.6 93.1,325.0 93.3,331.0 93.4,326.3 93.5,327.4 93.7,336.8 93.8,323.4 93.9,323.6 94.0,328.0 94.2,332.1 94.3,319.3 94.4,324.7 94.6,321.3 94.7,319.5 94.8,328.1 95.0,322.1 95.1,326.8 95.2,326.0 95.3,326.0 95.5,325.6 95.6,320.6 95.7,325.0 95.9,326.2 96.0,326.7 96.1,323.9 96.2,329.3 96.4,327.5 96.5,325.5 96.6,327.7 96.8,325.7 96.9,327.8 97.0,316.4 97.1,319.3 97.3,323.1 97.4,325.2 97.5,315.5 97.7,323.5 97.8,325.2 97.9,323.5 98.1,323.5 98.2,318.7 98.3,324.8 98.4,315.7 98.6,328.4 98.7,321.6 98.8,328.8 99.0,316.8 99.1,325.9 99.2,324.7 99.3,320.5 99.5,319.1 99.6,329.0 99.7,325.7 99.9,330.1 100.0,323.6 100.1,324.6 100.3,325.6 100.4,326.9 100.5,325.6 100.6,327.1 100.8,321.7 100.9,317.6 101.0,331.8 101.2,324.3 101.3,325.5 101.4,321.7 101.5,327.6 101.7,324.3 101.8,327.9 101.9,320.7 102.1,323.1 102.2,324.1 102.3,321.9 102.4,324.4 102.6,329.7 102.7,320.9 102.8,322.1 103.0,323.9 103.1,319.2 103.2,318.3 103.4,327.5 103.5,326.2 103.6,316.8 103.7,317.3 103.9,325.9 104.0,327.6 104.1,325.4 104.3,324.8 104.4,329.1 104.5,322.6 104.6,327.8 104.8,327.5 104.9,319.0 105.0,325.3 105.2,322.8 105.3,320.0 105.4,319.3 105.5,323.7 105.7,322.2 105.8,325.6 105.9,315.5 106.1,319.7 106.2,326.5 106.3,322.2 106.5,319.4 106.6,320.2 106.7,315.0 106.8,316.7 107.0,324.1 107.1,322.3 107.2,326.8 107.4,320.9 107.5,321.2 107.6,311.4 107.7,321.4 107.9,329.7 108.0,324.2 108.1,321.2 108.3,326.3 108.4,324.8 108.5,322.9 108.6,320.2 108.8,322.0 108.9,324.7 109.0,318.4 109.2,323.3 109.3,323.1 109.4,326.4 109.6,324.1 109.7,318.7 109.8,327.1 109.9,321.3 110.1,318.4 110.2,322.5 110.3,320.2 110.5,325.2 110.6,316.3 110.7,317.1 110.8,320.3 111.0,327.6 111.1,325.0 111.2,317.6 111.4,314.9 111.5,320.1 111.6,316.6 111.7,323.4 111.9,321.9 112.0,321.2 112.1,319.7 112.3,326.8 112.4,317.9 112.5,316.5 112.7,325.4 112.8,326.2 112.9,320.0 113.0,323.7 113.2,329.8 113.3,318.4 113.4,320.8 113.6,323.0 113.7,313.8 113.8,320.9 113.9,324.0 114.1,321.0 114.2,325.1 114.3,324.1 114.5,320.0 114.6,323.4 114.7,323.0 114.8,315.6 115.0,318.4 115.1,318.6 115.2,319.6 115.4,319.8 115.5,316.4 115.6,321.6 115.8,315.1 115.9,324.8 116.0,322.4 116.1,326.3 116.3,322.7 116.4,319.8 116.5,316.6 116.7,323.9 116.8,321.6 116.9,322.8 117.0,324.1 117.2,325.7 117.3,321.4 117.4,327.5 117.6,321.3 117.7,321.6 117.8,323.9 117.9,325.1 118.1,326.4 118.2,315.4 118.3,326.2 118.5,316.5 118.6,319.7 118.7,322.9 118.9,325.6 119.0,318.3 119.1,316.0 119.2,324.9 119.4,322.8 119.5,318.3 119.6,320.7 119.8,315.2 119.9,323.7 120.0,320.0 120.1,325.9 120.3,315.0 120.4,324.2 120.5,329.1 120.7,322.3 120.8,322.3 120.9,315.7 121.0,323.0 121.2,322.0 121.3,320.0 121.4,316.8 121.6,322.1 121.7,318.6 121.8,320.3 122.0,322.9 122.1,321.7 122.2,321.9 122.3,324.9 122.5,318.1 122.6,326.4 122.7,318.3 122.9,319.0 123.0,322.3 123.1,324.5 123.2,322.8 123.4,320.6 123.5,319.7 123.6,321.2 123.8,319.0 123.9,323.9 124.0,321.4 124.1,327.0 124.3,319.8 124.4,321.7 124.5,323.4 124.7,318.6 124.8,320.0 124.9,330.9 125.1,322.1 125.2,326.7 125.3,318.9 125.4,314.6 125.6,323.8 125.7,322.0 125.8,323.0 126.0,321.2 126.1,320.3 126.2,318.4 126.3,325.3 126.5,317.5 126.6,325.1 126.7,321.5 126.9,318.8 127.0,320.2 127.1,325.2 127.3,324.5 127.4,323.7 127.5,322.5 127.6,319.0 127.8,326.2 127.9,321.0 128.0,320.6 128.2,320.8 128.3,321.1 128.4,318.0 128.5,321.0 128.7,319.9 128.8,320.8 128.9,317.2 129.1,328.0 129.2,318.8 129.3,323.3 129.4,323.3 129.6,325.3 129.7,327.9 129.8,323.6 130.0,324.5 130.1,321.1 130.2,326.8 130.4,318.5 130.5,321.8 130.6,323.3 130.7,324.6 130.9,324.9 131.0,325.8 131.1,324.2 131.3,322.6 131.4,323.2 131.5,326.6 131.6,323.4 131.8,325.2 131.9,322.3 132.0,317.6 132.2,321.0 132.3,323.6 132.4,327.1 132.5,326.5 132.7,327.2 132.8,320.8 132.9,324.8 133.1,322.6 133.2,324.4 133.3,322.6 133.5,319.2 133.6,324.5 133.7,323.7 133.8,324.8 134.0,320.7 134.1,325.4 134.2,325.6 134.4,326.3 134.5,326.3 134.6,321.7 134.7,316.7 134.9,325.3 135.0,320.7 135.1,322.3 135.3,325.5 135.4,323.6 135.5,323.5 135.6,324.5 135.8,318.5 135.9,327.3 136.0,322.1 136.2,322.2 136.3,324.3 136.4,322.7 136.6,321.1 136.7,322.7 136.8,322.1 136.9,321.5 137.1,327.4 137.2,319.9 137.3,318.2 137.5,321.0 137.6,321.0 137.7,326.1 137.8,323.4 138.0,324.8 138.1,324.3 138.2,321.2 138.4,324.8 138.5,323.4 138.6,327.0 138.7,323.5 138.9,323.0 139.0,324.6 139.1,324.6 139.3,319.5 139.4,325.6 139.5,325.3 139.7,324.8 139.8,320.9 139.9,319.2 140.0,322.6 140.2,324.7 140.3,324.2 140.4,321.5 140.6,325.2 140.7,320.9 140.8,321.0 140.9,323.6 141.1,322.6 141.2,322.4 141.3,321.0 141.5,325.9 141.6,321.8 141.7,324.8 141.8,325.5 142.0,324.0 142.1,324.7 142.2,326.1 142.4,327.3 142.5,326.1 142.6,321.9 142.8,321.0 142.9,323.5 143.0,322.6 143.1,325.7 143.3,324.9 143.4,324.4 143.5,326.8 143.7,326.7 143.8,324.9 143.9,325.7 144.0,327.0 144.2,324.6 144.3,325.8 144.4,323.6 144.6,325.4 144.7,326.0 144.8,325.3 144.9,325.9 145.1,326.8 145.2,326.4 145.3,324.5 145.5,324.8 145.6,323.7 145.7,328.8 145.9,326.7 146.0,326.8 146.1,325.9 146.2,327.0 146.4,327.1 146.5,325.0 146.6,326.1 146.8,328.4 146.9,324.3 147.0,324.9 147.1,327.6 147.3,325.3 147.4,328.0 147.5,325.0 147.7,327.2 147.8,328.2 147.9,327.6 148.0,328.3 148.2,326.8 148.3,326.9 148.4,327.2 148.6,328.2 148.7,333.2 148.8,327.3 149.0,330.5 149.1,327.2 149.2,325.8 149.3,327.2 149.5,328.3 149.6,328.1 149.7,328.1 149.9,328.8 150.0,328.9 150.1,329.4 150.2,326.3 150.4,328.2 150.5,326.8 150.6,328.6 150.8,328.2 150.9,328.6 151.0,327.7 151.1,327.3 151.3,328.2 151.4,329.6 151.5,329.9 151.7,326.2 151.8,329.2 151.9,329.3 152.1,326.7 152.2,327.3 152.3,328.2 152.4,329.7 152.6,325.6 152.7,328.6 152.8,328.4 153.0,329.6 153.1,331.5 153.2,331.5 153.3,328.9 153.5,329.0 153.6,330.0 153.7,331.5 153.9,331.9 154.0,330.3 154.1,332.1 154.3,328.6 154.4,328.2 154.5,325.8 154.6,328.8 154.8,331.1 154.9,331.5 155.0,335.5 155.2,331.2 155.3,330.6 155.4,328.9 155.5,329.5 155.7,329.6 155.8,330.2 155.9,329.5 156.1,328.4 156.2,332.2 156.3,331.3 156.4,332.7 156.6,328.3 156.7,328.8 156.8,329.6 157.0,332.6 157.1,330.6 157.2,331.2 157.4,330.8 157.5,331.2 157.6,330.2 157.7,331.6 157.9,329.8 158.0,330.7 158.1,331.5 158.3,331.3 158.4,331.8 158.5,330.0 158.6,331.6 158.8,330.8 158.9,331.9 159.0,333.5 159.2,330.0 159.3,332.9 159.4,330.4 159.5,330.8 159.7,333.9 159.8,332.9 159.9,332.3 160.1,332.8 160.2,333.3 160.3,330.5 160.5,332.0 160.6,331.1 160.7,332.3 160.8,331.3 161.0,332.9 161.1,331.8 161.2,331.0 161.4,331.8 161.5,332.5 161.6,333.5 161.7,331.7 161.9,331.5 162.0,332.4 162.1,333.1 162.3,331.3 162.4,328.5 162.5,332.5 162.6,331.6 162.8,331.6 162.9,335.8 163.0,332.0 163.2,333.2 163.3,330.3 163.4,332.6 163.6,333.4 163.7,332.6 163.8,332.1 163.9,333.2 164.1,332.5 164.2,334.3 164.3,332.7 164.5,331.4 164.6,329.7 164.7,331.5 164.8,332.1 165.0,330.9 165.1,331.1 165.2,330.2 165.4,331.1 165.5,332.8 165.6,332.2 165.7,332.4 165.9,332.2 166.0,332.4 166.1,333.7 166.3,335.6 166.4,333.6 166.5,335.5 166.7,332.6 166.8,332.7 166.9,335.0 167.0,331.8 167.2,331.5 167.3,332.6 167.4,330.5 167.6,330.2 167.7,334.4 167.8,331.3 167.9,332.1 168.1,332.2 168.2,331.5 168.3,333.7 168.5,333.5 168.6,333.8 168.7,333.7 168.8,332.8 169.0,334.6 169.1,334.0 169.2,331.9 169.4,332.7 169.5,332.1 169.6,335.0 169.8,333.5 169.9,333.2 170.0,332.4 170.1,333.2 170.3,331.2 170.4,332.4 170.5,332.2 170.7,332.1 170.8,331.2 170.9,332.5 171.0,330.5 171.2,331.2 171.3,331.5 171.4,331.5 171.6,330.8 171.7,330.1 171.8,330.1 171.9,330.7 172.1,329.9 172.2,330.7 172.3,329.2 172.5,330.6 172.6,332.8 172.7,328.6 172.9,329.9 173.0,331.1 173.1,329.8 173.2,330.4 173.4,326.8 173.5,328.4 173.6,330.3 173.8,327.8 173.9,328.5 174.0,325.8 174.1,328.5 174.3,329.4 174.4,326.7 174.5,326.7 174.7,326.3 174.8,327.5 174.9,324.6 175.0,322.9 175.2,325.7 175.3,322.3 175.4,323.2 175.6,320.0 175.7,321.0 175.8,320.7 176.0,318.9 176.1,318.5 176.2,318.4 176.3,316.4 176.5,316.3 176.6,316.0 176.7,312.1 176.9,312.5 177.0,311.2 177.1,309.2 177.2,308.8 177.4,307.0 177.5,304.8 177.6,303.0 177.8,300.9 177.9,298.5 178.0,297.5 178.1,295.2 178.3,293.3 178.4,292.4 178.5,290.2 178.7,289.3 178.8,287.3 178.9,286.6 179.1,286.2 179.2,286.4 179.3,285.8 179.4,286.5 179.6,286.5 179.7,287.8 179.8,289.3 180.0,289.9 180.1,291.6 180.2,293.9 180.3,294.9 180.5,297.5 180.6,299.4 180.7,301.0 180.9,303.3 181.0,304.9 181.1,306.5 181.3,307.1 181.4,308.7 181.5,311.3 181.6,311.5 181.8,313.9 181.9,314.9 182.0,315.7 182.2,317.2 182.3,316.6 182.4,319.2 182.5,321.3 182.7,320.1 182.8,322.3 182.9,323.0 183.1,326.1 183.2,323.1 183.3,323.9 183.4,324.4 183.6,324.8 183.7,324.6 183.8,326.8 184.0,326.2 184.1,328.3 184.2,328.3 184.4,327.2 184.5,328.3 184.6,330.5 184.7,329.0 184.9,329.9 185.0,330.8 185.1,329.7 185.3,330.9 185.4,332.5 185.5,332.2 185.6,329.1 185.8,333.1 185.9,331.3 186.0,331.0 186.2,331.1 186.3,333.6 186.4,332.7 186.5,332.2 186.7,331.6 186.8,333.5 186.9,334.3 187.1,331.7 187.2,331.7 187.3,332.8 187.5,334.2 187.6,332.9 187.7,333.4 187.8,332.6 188.0,335.5 188.1,333.7 188.2,334.2 188.4,335.6 188.5,333.9 188.6,334.2 188.7,334.9 188.9,333.9 189.0,336.5 189.1,334.7 189.3,334.1 189.4,334.3 189.5,333.3 189.6,336.6 189.8,337.1 189.9,334.7 190.0,334.4 190.2,332.0 190.3,334.3 190.4,336.5 190.6,334.1 190.7,336.6 190.8,337.6 190.9,331.6 191.1,335.0 191.2,334.5 191.3,334.8 191.5,332.9 191.6,335.3 191.7,333.9 191.8,337.4 192.0,338.0 192.1,333.7 192.2,333.7 192.4,335.2 192.5,335.7 192.6,335.8 192.7,337.2 192.9,333.7 193.0,335.1 193.1,335.4 193.3,335.7 193.4,334.6 193.5,335.5 193.7,335.2 193.8,338.3 193.9,335.6 194.0,332.9 194.2,337.4 194.3,336.8 194.4,335.1 194.6,335.0 194.7,335.6 194.8,339.4 194.9,335.9 195.1,338.7 195.2,338.2 195.3,335.9 195.5,337.3 195.6,335.5 195.7,331.5 195.8,335.6 196.0,335.7 196.1,338.5 196.2,338.1 196.4,338.9 196.5,338.0 196.6,339.0 196.8,338.3 196.9,337.5 197.0,338.9 197.1,339.7 197.3,339.6 197.4,336.4 197.5,337.1 197.7,335.4 197.8,335.4 197.9,337.9 198.0,336.1 198.2,340.0 198.3,333.2 198.4,335.2 198.6,337.8 198.7,339.6 198.8,336.8 198.9,341.0 199.1,339.0 199.2,336.2 199.3,337.4 199.5,338.5 199.6,335.8 199.7,339.6 199.9,337.1 200.0,338.6 200.1,339.3 200.2,336.9 200.4,339.7 200.5,334.1 200.6,338.9 200.8,334.0 200.9,340.0 201.0,336.7 201.1,340.2 201.3,340.5 201.4,337.6 201.5,336.6 201.7,340.5 201.8,335.6 201.9,339.6 202.0,337.8 202.2,337.3 202.3,336.9 202.4,341.7 202.6,334.8 202.7,337.0 202.8,339.0 203.0,340.2 203.1,341.6 203.2,341.0 203.3,337.1 203.5,338.9 203.6,340.6 203.7,339.4 203.9,335.0 204.0,339.0 204.1,339.5 204.2,335.5 204.4,337.4 204.5,338.3 204.6,339.7 204.8,341.7 204.9,340.8 205.0,339.3 205.1,338.7 205.3,337.4 205.4,337.0 205.5,337.6 205.7,337.6 205.8,340.2 205.9,342.6 206.1,339.0 206.2,339.9 206.3,339.2 206.4,338.4 206.6,340.4 206.7,340.1 206.8,337.9 207.0,337.3 207.1,339.0 207.2,336.4 207.3,337.9 207.5,339.6 207.6,337.3 207.7,333.2 207.9,338.8 208.0,334.7 208.1,334.1 208.3,333.8 208.4,338.9 208.5,332.6 208.6,336.7 208.8,337.5 208.9,337.4 209.0,335.5 209.2,336.7 209.3,337.2 209.4,333.8 209.5,338.3 209.7,339.0 209.8,334.8 209.9,334.9 210.1,334.0 210.2,338.8 210.3,333.9 210.4,335.2 210.6,332.3 210.7,339.1 210.8,335.7 211.0,336.8 211.1,339.7 211.2,337.7 211.4,333.4 211.5,337.0 211.6,337.6 211.7,333.9 211.9,333.5 212.0,333.5 212.1,337.5 212.3,335.8 212.4,333.2 212.5,337.1 212.6,337.3 212.8,333.6 212.9,331.8 213.0,338.1 213.2,341.4 213.3,338.7 213.4,337.6 213.5,335.5 213.7,333.7 213.8,335.4 213.9,336.7 214.1,334.6 214.2,337.2 214.3,335.0 214.5,336.4 214.6,328.5 214.7,332.8 214.8,336.7 215.0,337.0 215.1,335.7 215.2,338.5 215.4,336.3 215.5,336.3 215.6,332.3 215.7,335.4 215.9,336.3 216.0,337.6 216.1,337.1 216.3,334.3 216.4,334.7 216.5,331.3 216.6,335.6 216.8,331.3 216.9,333.3 217.0,333.9 217.2,338.9 217.3,337.1 217.4,331.9 217.6,330.1 217.7,333.1 217.8,331.6 217.9,334.6 218.1,334.5 218.2,335.2 218.3,330.9 218.5,332.5 218.6,333.9 218.7,334.1 218.8,331.8 219.0,332.3 219.1,335.3 219.2,328.5 219.4,332.3 219.5,333.0 219.6,328.9 219.7,330.1 219.9,333.1 220.0,331.3 220.1,335.6 220.3,334.3 220.4,338.7 220.5,329.1 220.7,337.6 220.8,330.4 220.9,334.5 221.0,334.9 221.2,332.6 221.3,331.3 221.4,330.3 221.6,327.0 221.7,330.8 221.8,329.3 221.9,333.3 222.1,329.6 222.2,331.1 222.3,332.7 222.5,331.6 222.6,331.5 222.7,330.7 222.8,330.0 223.0,332.5 223.1,333.1 223.2,328.8 223.4,335.7 223.5,332.6 223.6,326.3 223.8,338.4 223.9,332.6 224.0,328.5 224.1,335.2 224.3,322.9 224.4,337.8 224.5,326.1 224.7,325.6 224.8,327.4 224.9,330.7 225.0,328.9 225.2,332.5 225.3,327.4 225.4,333.0 225.6,330.5 225.7,326.7 225.8,332.8 225.9,330.5 226.1,328.9 226.2,333.3 226.3,325.8 226.5,328.1 226.6,333.6 226.7,329.1 226.9,331.2 227.0,330.8 227.1,328.6 227.2,330.8 227.4,325.7 227.5,330.7 227.6,325.5 227.8,328.6 227.9,325.8 228.0,329.9 228.1,329.7 228.3,331.6 228.4,326.3 228.5,325.1 228.7,321.4 228.8,323.9 228.9,327.0 229.0,328.4 229.2,326.4 229.3,327.6 229.4,323.0 229.6,324.5 229.7,329.9 229.8,329.4 230.0,322.9 230.1,326.2 230.2,327.8 230.3,323.3 230.5,328.1 230.6,327.7 230.7,328.2 230.9,332.9 231.0,323.9 231.1,330.4 231.2,328.3 231.4,328.8 231.5,324.0 231.6,326.5 231.8,326.1 231.9,331.5 232.0,326.3 232.1,330.7 232.3,324.9 232.4,324.6 232.5,325.8 232.7,319.1 232.8,323.9 232.9,323.6 233.1,325.0 233.2,326.0 233.3,322.2 233.4,321.6 233.6,329.4 233.7,321.6 233.8,323.3 234.0,321.8 234.1,323.3 234.2,328.9 234.3,328.6 234.5,318.6 234.6,323.8 234.7,329.3 234.9,323.3 235.0,325.6 235.1,330.5 235.3,331.9 235.4,329.6 235.5,323.2 235.6,324.2 235.8,324.8 235.9,322.9 236.0,321.7 236.2,330.8 236.3,324.6 236.4,326.3 236.5,327.6 236.7,325.2 236.8,323.7 236.9,324.1 237.1,328.1 237.2,324.7 237.3,316.0 237.4,326.5 237.6,328.6 237.7,321.8 237.8,320.6 238.0,320.9 238.1,326.3 238.2,318.9 238.4,325.0 238.5,326.2 238.6,324.3 238.7,322.4 238.9,319.5 239.0,319.7 239.1,321.9 239.3,318.5 239.4,321.4 239.5,318.4 239.6,326.4 239.8,327.0 239.9,318.6 240.0,326.2 240.2,322.2 240.3,321.4 240.4,322.7 240.5,322.5 240.7,315.9 240.8,329.8 240.9,317.5 241.1,312.4 241.2,320.4 241.3,320.5 241.5,317.7 241.6,313.7 241.7,324.5 241.8,319.8 242.0,320.7 242.1,317.9 242.2,319.3 242.4,317.4 242.5,321.2 242.6,319.4 242.7,322.0 242.9,321.9 243.0,319.9 243.1,319.8 243.3,323.5 243.4,313.4 243.5,319.5 243.6,324.0 243.8,314.9 243.9,321.5 244.0,316.9 244.2,318.7 244.3,317.6 244.4,317.8 244.6,320.5 244.7,318.2 244.8,310.8 244.9,326.4 245.1,317.8 245.2,316.4 245.3,321.8 245.5,322.9 245.6,309.8 245.7,319.0 245.8,309.9 246.0,315.5 246.1,317.1 246.2,315.6 246.4,314.9 246.5,312.8 246.6,315.5 246.7,316.5 246.9,316.3 247.0,311.8 247.1,313.7 247.3,320.4 247.4,319.0 247.5,315.3 247.7,318.8 247.8,317.8 247.9,319.8 248.0,317.2 248.2,314.5 248.3,312.3 248.4,315.9 248.6,308.1 248.7,316.1 248.8,303.7 248.9,311.9 249.1,313.7 249.2,317.3 249.3,326.0 249.5,315.9 249.6,314.5 249.7,307.9 249.8,320.3 250.0,307.8 250.1,315.8 250.2,312.1 250.4,324.3 250.5,314.1 250.6,315.9 250.8,311.9 250.9,314.1 251.0,318.7 251.1,310.7 251.3,311.5 251.4,311.8 251.5,310.2 251.7,309.7 251.8,313.9 251.9,318.9 252.0,318.9 252.2,308.4 252.3,310.8 252.4,313.0 252.6,315.0 252.7,313.1 252.8,313.1 252.9,314.4 253.1,315.7 253.2,304.7 253.3,312.0 253.5,315.1 253.6,317.7 253.7,315.4 253.9,309.8 254.0,309.5 254.1,313.2 254.2,312.1 254.4,313.4 254.5,316.4 254.6,307.0 254.8,310.5 254.9,302.3 255.0,314.7 255.1,312.2 255.3,308.2 255.4,312.5 255.5,316.8 255.7,315.0 255.8,310.9 255.9,309.8 256.0,311.5 256.2,307.1 256.3,307.1 256.4,309.6 256.6,310.6 256.7,311.6 256.8,308.4 257.0,306.9 257.1,310.2 257.2,308.5 257.3,311.5 257.5,315.7 257.6,314.0 257.7,307.0 257.9,308.1 258.0,303.5 258.1,309.5 258.2,306.2 258.4,304.3 258.5,305.5 258.6,311.7 258.8,310.0 258.9,308.7 259.0,313.0 259.1,307.1 259.3,304.9 259.4,310.7 259.5,300.9 259.7,309.8 259.8,309.4 259.9,309.4 260.1,311.2 260.2,306.6 260.3,308.1 260.4,301.5 260.6,305.6 260.7,305.8 260.8,308.7 261.0,313.4 261.1,308.0 261.2,311.0 261.3,303.7 261.5,307.5 261.6,300.7 261.7,304.3 261.9,303.8 262.0,306.1 262.1,306.1 262.3,304.3 262.4,303.1 262.5,309.5 262.6,304.7 262.8,296.1 262.9,306.8 263.0,307.4 263.2,309.0 263.3,312.0 263.4,301.3" stroke="#9400d3"/>
<polyline points="56.8,340.3 57.0,339.0 57.1,331.1 57.2,327.6 57.4,344.3 57.5,334.5 57.6,336.4 57.7,337.4 57.9,336.8 58.0,339.1 58.1,330.9 58.3,335.6 58.4,336.7 58.5,332.1 58.7,333.6 58.8,335.6 58.9,336.1 59.0,328.9 59.2,334.8 59.3,337.6 59.4,341.1 59.6,338.4 59.7,341.7 59.8,335.9 59.9,335.0 60.1,346.0 60.2,335.8 60.3,332.5 60.5,334.7 60.6,339.9 60.7,329.0 60.8,338.3 61.0,340.7 61.1,339.8 61.2,334.4 61.4,329.5 61.5,328.4 61.6,332.8 61.8,339.4 61.9,336.6 62.0,337.6 62.1,333.9 62.3,341.4 62.4,332.2 62.5,329.5 62.7,333.1 62.8,330.0 62.9,336.5 63.0,338.7 63.2,334.7 63.3,325.9 63.4,326.4 63.6,333.2 63.7,325.2 63.8,332.2 63.9,323.4 64.1,328.1 64.2,332.3 64.3,326.2 64.5,333.4 64.6,334.0 64.7,336.3 64.9,328.0 65.0,329.3 65.1,329.2 65.2,330.6 65.4,321.8 65.5,330.3 65.6,331.5 65.8,322.1 65.9,321.1 66.0,326.0 66.1,335.5 66.3,330.0 66.4,324.2 66.5,326.8 66.7,319.5 66.8,332.8 66.9,323.2 67.0,329.0 67.2,319.8 67.3,326.1 67.4,320.9 67.6,328.3 67.7,331.6 67.8,330.0 68.0,327.5 68.1,329.2 68.2,319.2 68.3,318.4 68.5,322.9 68.6,328.4 68.7,324.2 68.9,326.5 69.0,317.1 69.1,321.9 69.2,321.0 69.4,324.7 69.5,331.6 69.6,326.1 69.8,327.5 69.9,321.0 70.0,322.1 70.2,325.9 70.3,324.0 70.4,315.4 70.5,326.3 70.7,326.0 70.8,322.9 70.9,324.9 71.1,323.6 71.2,319.3 71.3,313.9 71.4,329.2 71.6,321.4 71.7,321.0 71.8,321.5 72.0,321.8 72.1,322.4 72.2,316.3 72.3,322.8 72.5,321.2 72.6,320.5 72.7,319.9 72.9,321.1 73.0,315.8 73.1,320.1 73.3,319.2 73.4,320.1 73.5,324.2 73.6,323.4 73.8,324.2 73.9,318.7 74.0,322.5 74.2,323.9 74.3,318.2 74.4,316.8 74.5,326.7 74.7,311.5 74.8,318.7 74.9,319.2 75.1,314.0 75.2,318.2 75.3,321.0 75.4,308.8 75.6,322.8 75.7,318.5 75.8,314.3 76.0,322.5 76.1,318.2 76.2,316.0 76.4,307.3 76.5,321.3 76.6,317.6 76.7,314.5 76.9,316.8 77.0,322.1 77.1,315.3 77.3,316.4 77.4,315.0 77.5,312.1 77.6,312.5 77.8,314.8 77.9,315.1 78.0,320.6 78.2,316.7 78.3,315.2 78.4,317.5 78.5,315.5 78.7,319.1 78.8,310.0 78.9,307.6 79.1,317.3 79.2,314.3 79.3,316.7 79.5,310.9 79.6,314.1 79.7,315.4 79.8,316.6 80.0,315.2 80.1,319.5 80.2,313.1 80.4,318.3 80.5,313.6 80.6,315.1 80.7,311.4 80.9,315.6 81.0,311.6 81.1,319.0 81.3,313.2 81.4,316.3 81.5,314.7 81.6,315.1 81.8,311.9 81.9,322.9 82.0,314.1 82.2,320.9 82.3,310.8 82.4,322.6 82.6,319.0 82.7,321.4 82.8,309.1 82.9,320.0 83.1,314.7 83.2,317.1 83.3,321.8 83.5,316.3 83.6,312.6 83.7,315.7 83.8,311.5 84.0,316.3 84.1,314.9 84.2,316.3 84.4,313.6 84.5,307.9 84.6,313.5 84.7,314.1 84.9,317.1 85.0,317.6 85.1,309.4 85.3,318.8 85.4,318.1 85.5,315.1 85.7,316.2 85.8,307.6 85.9,323.2 86.0,313.3 86.2,312.0 86.3,318.6 86.4,316.9 86.6,313.0 86.7,308.6 86.8,317.8 86.9,320.1 87.1,310.9 87.2,308.9 87.3,315.6 87.5,322.3 87.6,309.1 87.7,315.0 87.8,310.3 88.0,314.4 88.1,315.6 88.2,315.9 88.4,309.1 88.5,309.2 88.6,321.8 88.8,317.6 88.9,308.0 89.0,315.6 89.1,319.0 89.3,314.2 89.4,314.6 89.5,314.6 89.7,315.9 89.8,315.3 89.9,315.8 90.0,313.1 90.2,317.1 90.3,315.2 90.4,314.7 90.6,309.7 90.7,312.9 90.8,314.6 90.9,312.4 91.1,312.8 91.2,310.5 91.3,312.5 91.5,308.1 91.6,309.6 91.7,314.3 91.9,315.6 92.0,311.2 92.1,312.4 92.2,314.5 92.4,319.2 92.5,320.4 92.6,313.0 92.8,311.6 92.9,311.5 93.0,318.5 93.1,310.7 93.3,315.9 93.4,312.9 93.5,312.8 93.7,316.8 93.8,316.1 93.9,321.0 94.0,317.2 94.2,320.1 94.3,312.7 94.4,313.9 94.6,311.1 94.7,313.0 94.8,316.2 95.0,313.0 95.1,315.4 95.2,312.1 95.3,313.1 95.5,317.3 95.6,314.1 95.7,313.9 95.9,315.1 96.0,311.2 96.1,308.6 96.2,315.2 96.4,315.2 96.5,321.2 96.6,314.5 96.8,315.4 96.9,320.9 97.0,313.1 97.1,312.2 97.3,316.3 97.4,315.2 97.5,317.0 97.7,311.6 97.8,318.7 97.9,315.0 98.1,307.9 98.2,313.8 98.3,312.5 98.4,314.4 98.6,317.6 98.7,314.0 98.8,312.7 99.0,317.1 99.1,312.9 99.2,310.1 99.3,310.6 99.5,318.7 99.6,316.9 99.7,318.8 99.9,310.6 100.0,312.0 100.1,311.7 100.3,316.5 100.4,317.4 100.5,313.6 100.6,313.5 100.8,316.4 100.9,313.4 101.0,311.9 101.2,313.1 101.3,316.9 101.4,320.0 101.5,314.5 101.7,313.3 101.8,314.5 101.9,315.0 102.1,315.7 102.2,311.6 102.3,313.8 102.4,313.3 102.6,316.5 102.7,315.5 102.8,313.2 103.0,316.5 103.1,317.3 103.2,314.6 103.4,310.1 103.5,313.0 103.6,309.4 103.7,313.9 103.9,314.4 104.0,317.5 104.1,315.1 104.3,309.4 104.4,312.6 104.5,311.4 104.6,311.5 104.8,313.5 104.9,314.0 105.0,313.1 105.2,311.5 105.3,312.1 105.4,312.0 105.5,312.9 105.7,315.4 105.8,314.0 105.9,315.8 106.1,310.5 106.2,318.9 106.3,313.8 106.5,306.7 106.6,314.1 106.7,316.2 106.8,313.2 107.0,309.6 107.1,313.5 107.2,311.4 107.4,312.7 107.5,314.0 107.6,304.6 107.7,312.7 107.9,314.3 108.0,314.1 108.1,311.8 108.3,311.7 108.4,310.8 108.5,312.4 108.6,316.4 108.8,311.3 108.9,313.4 109.0,313.3 109.2,316.3 109.3,314.0 109.4,314.3 109.6,312.5 109.7,316.0 109.8,312.2 109.9,312.0 110.1,315.0 110.2,313.8 110.3,314.4 110.5,310.0 110.6,318.3 110.7,313.0 110.8,316.1 111.0,313.2 111.1,310.1 111.2,313.6 111.4,311.7 111.5,314.0 111.6,307.5 111.7,309.8 111.9,309.3 112.0,314.9 112.1,314.3 112.3,309.3 112.4,312.1 112.5,312.2 112.7,310.9 112.8,314.3 112.9,309.8 113.0,311.4 113.2,310.3 113.3,312.7 113.4,310.1 113.6,312.5 113.7,309.0 113.8,308.6 113.9,308.9 114.1,309.6 114.2,309.3 114.3,315.8 114.5,308.7 114.6,310.7 114.7,309.8 114.8,310.4 115.0,312.3 115.1,310.5 115.2,308.1 115.4,306.6 115.5,310.0 115.6,310.3 115.8,306.0 115.9,309.8 116.0,304.5 116.1,307.6 116.3,308.9 116.4,305.6 116.5,304.1 116.7,308.7 116.8,303.7 116.9,306.1 117.0,303.1 117.2,305.4 117.3,306.6 117.4,303.2 117.6,302.1 117.7,300.1 117.8,300.0 117.9,300.7 118.1,301.2 118.2,300.8 118.3,299.8 118.5,299.6 118.6,298.1 118.7,299.5 118.9,295.7 119.0,294.8 119.1,291.3 119.2,291.8 119.4,291.7 119.5,289.5 119.6,289.6 119.8,287.6 119.9,287.0 120.0,282.9 120.1,281.8 120.3,281.3 120.4,278.8 120.5,276.3 120.7,274.8 120.8,273.0 120.9,271.9 121.0,270.0 121.2,268.0 121.3,266.0 121.4,265.5 121.6,264.4 121.7,262.3 121.8,262.6 122.0,261.2 122.1,261.5 122.2,261.3 122.3,261.3 122.5,262.6 122.6,263.5 122.7,265.5 122.9,266.8 123.0,267.7 123.1,268.9 123.2,270.8 123.4,272.1 123.5,275.1 123.6,277.1 123.8,278.5 123.9,281.0 124.0,282.8 124.1,285.3 124.3,285.5 124.4,288.7 124.5,289.0 124.7,292.1 124.8,291.4 124.9,294.5 125.1,294.2 125.2,297.6 125.3,297.7 125.4,297.3 125.6,300.3 125.7,300.4 125.8,301.9 126.0,304.7 126.1,302.7 126.2,303.3 126.3,305.9 126.5,304.6 126.6,306.9 126.7,307.8 126.9,307.1 127.0,308.6 127.1,305.2 127.3,310.9 127.4,308.3 127.5,308.3 127.6,313.0 127.8,313.1 127.9,310.2 128.0,312.1 128.2,311.2 128.3,310.4 128.4,313.0 128.5,314.4 128.7,317.4 128.8,313.1 128.9,315.2 129.1,313.5 129.2,313.9 129.3,316.8 129.4,311.9 129.6,313.2 129.7,313.8 129.8,317.5 130.0,316.4 130.1,316.8 130.2,316.8 130.4,318.3 130.5,315.7 130.6,316.3 130.7,316.2 130.9,318.0 131.0,314.9 131.1,317.1 131.3,322.6 131.4,318.9 131.5,318.0 131.6,316.3 131.8,318.8 131.9,318.8 132.0,319.7 132.2,317.4 132.3,319.6 132.4,320.1 132.5,320.5 132.7,318.1 132.8,320.3 132.9,322.7 133.1,318.4 133.2,321.1 133.3,319.1 133.5,319.2 133.6,317.7 133.7,318.1 133.8,321.4 134.0,320.7 134.1,323.0 134.2,317.3 134.4,319.9 134.5,318.1 134.6,321.6 134.7,325.1 134.9,318.1 135.0,321.1 135.1,321.1 135.3,321.4 135.4,320.3 135.5,320.6 135.6,324.9 135.8,319.7 135.9,323.0 136.0,323.0 136.2,318.7 136.3,320.4 136.4,323.0 136.6,326.1 136.7,322.2 136.8,321.5 136.9,322.8 137.1,325.3 137.2,324.5 137.3,325.5 137.5,322.6 137.6,321.5 137.7,321.1 137.8,324.8 138.0,322.9 138.1,322.3 138.2,324.6 138.4,323.9 138.5,319.4 138.6,323.4 138.7,322.1 138.9,324.8 139.0,324.0 139.1,327.6 139.3,324.2 139.4,321.9 139.5,320.1 139.7,322.0 139.8,323.1 139.9,324.5 140.0,325.9 140.2,325.1 140.3,323.6 140.4,326.5 140.6,323.2 140.7,327.1 140.8,328.8 140.9,327.3 141.1,328.7 141.2,328.2 141.3,323.3 141.5,326.0 141.6,325.3 141.7,323.5 141.8,323.4 142.0,327.0 142.1,323.4 142.2,325.4 142.4,326.2 142.5,325.4 142.6,329.2 142.8,328.0 142.9,326.8 143.0,325.4 143.1,327.4 143.3,327.0 143.4,325.0 143.5,324.2 143.7,325.5 143.8,324.6 143.9,328.0 144.0,327.9 144.2,326.7 144.3,328.0 144.4,328.5 144.6,324.4 144.7,328.1 144.8,329.7 144.9,326.9 145.1,324.3 145.2,327.8 145.3,325.7 145.5,329.0 145.6,329.2 145.7,329.7 145.9,328.7 146.0,324.9 146.1,330.8 146.2,325.5 146.4,330.7 146.5,329.2 146.6,327.3 146.8,327.7 146.9,328.5 147.0,332.3 147.1,328.5 147.3,331.2 147.4,324.4 147.5,329.8 147.7,329.1 147.8,331.8 147.9,330.6 148.0,332.2 148.2,327.9 148.3,330.4 148.4,328.9 148.6,331.3 148.7,331.1 148.8,327.8 149.0,332.1 149.1,333.7 149.2,329.7 149.3,332.6 149.5,331.4 149.6,328.9 149.7,332.3 149.9,329.2 150.0,332.2 150.1,328.2 150.2,328.6 150.4,332.0 150.5,331.6 150.6,332.8 150.8,331.0 150.9,329.3 151.0,334.2 151.1,329.9 151.3,334.1 151.4,333.3 151.5,335.1 151.7,327.9 151.8,331.8 151.9,331.6 152.1,333.4 152.2,330.2 152.3,336.2 152.4,332.3 152.6,328.3 152.7,333.2 152.8,332.5 153.0,331.4 153.1,334.2 153.2,332.7 153.3,331.0 153.5,332.6 153.6,332.3 153.7,333.7 153.9,332.6 154.0,333.1 154.1,330.5 154.3,332.0 154.4,333.9 154.5,338.2 154.6,332.2 154.8,332.2 154.9,335.5 155.0,337.6 155.2,336.1 155.3,332.2 155.4,336.1 155.5,335.0 155.7,333.7 155.8,331.9 155.9,334.3 156.1,334.6 156.2,335.5 156.3,331.4 156.4,332.5 156.6,334.8 156.7,337.4 156.8,336.3 157.0,333.7 157.1,336.3 157.2,333.2 157.4,334.3 157.5,334.5 157.6,333.9 157.7,334.2 157.9,336.9 158.0,336.0 158.1,330.9 158.3,337.8 158.4,336.4 158.5,333.5 158.6,336.0 158.8,337.3 158.9,338.4 159.0,334.8 159.2,333.9 159.3,333.2 159.4,335.9 159.5,334.1 159.7,338.2 159.8,335.9 159.9,337.6 160.1,336.0 160.2,335.0 160.3,334.4 160.5,338.5 160.6,334.1 160.7,337.6 160.8,338.8 161.0,337.1 161.1,339.7 161.2,336.9 161.4,336.4 161.5,337.5 161.6,336.1 161.7,337.8 161.9,337.2 162.0,340.2 162.1,337.3 162.3,339.1 162.4,338.4 162.5,337.8 162.6,337.3 162.8,341.0 162.9,340.9 163.0,338.4 163.2,337.0 163.3,337.2 163.4,336.2 163.6,335.5 163.7,337.2 163.8,338.3 163.9,340.3 164.1,340.2 164.2,339.3 164.3,337.9 164.5,338.1 164.6,338.6 164.7,339.0 164.8,337.5 165.0,338.4 165.1,338.3 165.2,338.3 165.4,340.1 165.5,341.1 165.6,338.1 165.7,338.3 165.9,339.7 166.0,340.1 166.1,334.8 166.3,341.0 166.4,339.9 166.5,339.0 166.7,341.9 166.8,339.4 166.9,336.1 167.0,337.9 167.2,338.6 167.3,338.7 167.4,339.8 167.6,338.1 167.7,340.4 167.8,341.0 167.9,340.0 168.1,338.5 168.2,339.7 168.3,339.1 168.5,344.6 168.6,338.1 168.7,335.9 168.8,338.0 169.0,341.4 169.1,342.6 169.2,340.3 169.4,343.0 169.5,339.5 169.6,342.2 169.8,339.2 169.9,338.4 170.0,345.4 170.1,340.7 170.3,342.8 170.4,344.3 170.5,342.7 170.7,341.9 170.8,339.3 170.9,344.6 171.0,339.4 171.2,337.4 171.3,340.3 171.4,340.5 171.6,341.7 171.7,344.1 171.8,340.6 171.9,340.9 172.1,340.2 172.2,336.5 172.3,340.3 172.5,340.9 172.6,338.6 172.7,344.7 172.9,344.3 173.0,342.7 173.1,343.3 173.2,340.5 173.4,342.7 173.5,338.4 173.6,338.9 173.8,340.5 173.9,342.9 174.0,340.9 174.1,340.5 174.3,344.4 174.4,341.5 174.5,340.8 174.7,341.8 174.8,339.0 174.9,339.8 175.0,344.1 175.2,342.1 175.3,344.2 175.4,341.2 175.6,344.3 175.7,340.6 175.8,341.7 176.0,340.5 176.1,342.9 176.2,345.7 176.3,338.9 176.5,343.0 176.6,339.8 176.7,341.8 176.9,341.3 177.0,338.9 177.1,342.1 177.2,339.9 177.4,346.0 177.5,341.0 177.6,343.4 177.8,343.2 177.9,342.9 178.0,342.2 178.1,339.5 178.3,347.0 178.4,343.0 178.5,344.6 178.7,340.6 178.8,344.0 178.9,342.2 179.1,344.0 179.2,341.8 179.3,341.1 179.4,344.1 179.6,343.2 179.7,346.4 179.8,342.7 180.0,341.6 180.1,344.6 180.2,341.0 180.3,347.9 180.5,347.4 180.6,346.5 180.7,344.6 180.9,343.5 181.0,343.8 181.1,343.8 181.3,342.1 181.4,344.7 181.5,346.4 181.6,346.4 181.8,339.2 181.9,348.8 182.0,344.2 182.2,340.7 182.3,342.8 182.4,345.7 182.5,343.9 182.7,342.1 182.8,341.4 182.9,345.9 183.1,342.4 183.2,343.5 183.3,341.7 183.4,341.1 183.6,344.9 183.7,347.3 183.8,343.3 184.0,340.4 184.1,342.8 184.2,343.8 184.4,339.1 184.5,346.6 184.6,342.4 184.7,345.6 184.9,344.3 185.0,344.2 185.1,341.2 185.3,346.5 185.4,345.6 185.5,347.9 185.6,343.4 185.8,345.4 185.9,343.5 186.0,346.7 186.2,345.1 186.3,342.1 186.4,344.7 186.5,342.9 186.7,343.1 186.8,345.0 186.9,347.7 187.1,342.1 187.2,343.8 187.3,342.0 187.5,348.6 187.6,347.8 187.7,348.8 187.8,346.0 188.0,341.8 188.1,342.8 188.2,344.1 188.4,343.8 188.5,342.4 188.6,344.7 188.7,343.1 188.9,343.7 189.0,348.8 189.1,344.8 189.3,340.9 189.4,344.8 189.5,344.2 189.6,345.2 189.8,344.9 189.9,341.3 190.0,344.4 190.2,346.1 190.3,350.3 190.4,345.0 190.6,348.1 190.7,347.8 190.8,341.9 190.9,342.1 191.1,347.9 191.2,341.8 191.3,342.6 191.5,345.4 191.6,342.0 191.7,347.2 191.8,346.3 192.0,346.8 192.1,346.0 192.2,341.6 192.4,346.5 192.5,346.1 192.6,345.6 192.7,343.0 192.9,344.2 193.0,341.5 193.1,345.0 193.3,346.3 193.4,344.5 193.5,343.3 193.7,345.4 193.8,342.7 193.9,339.2 194.0,344.6 194.2,343.2 194.3,340.2 194.4,344.7 194.6,345.1 194.7,345.7 194.8,342.3 194.9,342.0 195.1,343.5 195.2,343.1 195.3,340.3 195.5,341.2 195.6,346.3 195.7,343.1 195.8,342.8 196.0,341.4 196.1,343.6 196.2,344.5 196.4,344.1 196.5,347.0 196.6,343.0 196.8,344.3 196.9,341.9 197.0,345.3 197.1,343.9 197.3,345.1 197.4,345.3 197.5,341.3 197.7,343.9 197.8,341.8 197.9,345.4 198.0,342.6 198.2,346.7 198.3,343.9 198.4,343.9 198.6,341.4 198.7,342.3 198.8,343.1 198.9,340.8 199.1,342.2 199.2,341.4 199.3,340.9 199.5,342.8 199.6,343.3 199.7,341.8 199.9,343.5 200.0,341.7 200.1,340.0 200.2,340.6 200.4,343.4 200.5,345.5 200.6,342.6 200.8,342.8 200.9,339.9 201.0,343.3 201.1,342.9 201.3,340.7 201.4,343.5 201.5,342.7 201.7,338.4 201.8,338.9 201.9,340.9 202.0,341.7 202.2,344.5 202.3,341.0 202.4,342.1 202.6,341.7 202.7,343.4 202.8,342.2 203.0,342.6 203.1,341.4 203.2,338.8 203.3,341.3 203.5,345.9 203.6,344.3 203.7,345.7 203.9,343.9 204.0,340.7 204.1,341.1 204.2,343.4 204.4,341.4 204.5,343.7 204.6,345.3 204.8,345.2 204.9,343.8 205.0,338.5 205.1,344.9 205.3,338.8 205.4,338.5 205.5,342.0 205.7,341.6 205.8,342.9 205.9,341.4 206.1,339.8 206.2,341.2 206.3,338.9 206.4,338.4 206.6,340.3 206.7,340.3 206.8,341.1 207.0,340.1 207.1,343.5 207.2,339.8 207.3,340.2 207.5,342.7 207.6,335.5 207.7,342.8 207.9,342.5 208.0,339.8 208.1,344.9 208.3,342.2 208.4,343.9 208.5,342.5 208.6,340.5 208.8,339.3 208.9,337.4 209.0,338.1 209.2,337.1 209.3,338.4 209.4,340.9 209.5,337.1 209.7,340.8 209.8,341.1 209.9,335.9 210.1,337.6 210.2,338.9 210.3,337.6 210.4,337.2 210.6,342.5 210.7,339.4 210.8,341.9 211.0,338.8 211.1,340.6 211.2,335.7 211.4,337.7 211.5,340.8 211.6,338.8 211.7,341.6 211.9,338.6 212.0,337.3 212.1,337.9 212.3,343.1 212.4,339.2 212.5,337.2 212.6,337.6 212.8,335.5 212.9,341.3 213.0,336.9 213.2,339.6 213.3,337.6 213.4,337.0 213.5,336.2 213.7,339.2 213.8,337.3 213.9,340.5 214.1,341.1 214.2,336.3 214.3,337.7 214.5,341.4 214.6,339.5 214.7,337.3 214.8,333.5 215.0,334.7 215.1,335.2 215.2,341.3 215.4,337.2 215.5,335.7 215.6,335.8 215.7,335.7 215.9,337.1 216.0,332.2 216.1,332.8 216.3,336.5 216.4,338.6 216.5,331.2 216.6,337.4 216.8,333.1 216.9,331.2 217.0,338.1 217.2,335.0 217.3,336.4 217.4,334.3 217.6,334.6 217.7,330.6 217.8,333.8 217.9,335.2 218.1,332.3 218.2,335.6 218.3,335.8 218.5,329.4 218.6,336.7 218.7,335.8 218.8,334.4 219.0,337.0 219.1,339.5 219.2,331.7 219.4,336.1 219.5,335.4 219.6,334.9 219.7,336.3 219.9,336.4 220.0,333.3 220.1,327.8 220.3,331.8 220.4,331.7 220.5,337.1 220.7,333.4 220.8,336.1 220.9,331.2 221.0,333.6 221.2,332.8 221.3,333.1 221.4,334.2 221.6,336.4 221.7,331.2 221.8,335.9 221.9,335.3 222.1,333.0 222.2,334.0 222.3,331.5 222.5,329.6 222.6,331.4 222.7,331.4 222.8,331.7 223.0,329.6 223.1,336.1 223.2,330.6 223.4,333.7 223.5,334.4 223.6,331.2 223.8,332.1 223.9,329.6 224.0,328.3 224.1,336.6 224.3,331.0 224.4,325.9 224.5,328.5 224.7,327.0 224.8,330.2 224.9,333.9 225.0,333.0 225.2,328.4 225.3,327.7 225.4,331.8 225.6,330.6 225.7,329.2 225.8,334.1 225.9,330.5 226.1,325.6 226.2,324.1 226.3,329.7 226.5,324.8 226.6,330.5 226.7,331.1 226.9,334.6 227.0,326.6 227.1,329.8 227.2,323.0 227.4,327.9 227.5,328.1 227.6,333.0 227.8,324.7 227.9,329.2 228.0,328.6 228.1,333.6 228.3,325.8 228.4,325.5 228.5,329.4 228.7,327.6 228.8,326.7 228.9,325.2 229.0,327.3 229.2,323.2 229.3,327.9 229.4,328.8 229.6,328.3 229.7,333.4 229.8,329.0 230.0,324.4 230.1,326.1 230.2,328.7 230.3,325.8 230.5,331.6 230.6,327.2 230.7,325.1 230.9,324.5 231.0,328.1 231.1,323.8 231.2,321.4 231.4,327.0 231.5,324.0 231.6,329.6 231.8,330.5 231.9,324.0 232.0,325.4 232.1,324.9 232.3,326.7 232.4,325.9 232.5,323.1 232.7,320.7 232.8,325.5 232.9,329.0 233.1,321.6 233.2,323.2 233.3,322.9 233.4,324.0 233.6,318.6 233.7,324.1 233.8,322.9 234.0,328.8 234.1,325.5 234.2,325.7 234.3,323.9 234.5,322.9 234.6,325.6 234.7,319.3 234.9,326.2 235.0,324.5 235.1,322.7 235.3,326.4 235.4,321.7 235.5,321.5 235.6,323.7 235.8,318.1 235.9,322.6 236.0,322.0 236.2,325.0 236.3,326.7 236.4,324.0 236.5,323.1 236.7,323.4 236.8,320.2 236.9,328.0 237.1,324.8 237.2,326.5 237.3,318.4 237.4,323.1 237.6,322.9 237.7,324.3 237.8,319.1 238.0,322.4 238.1,320.7 238.2,326.3 238.4,318.1 238.5,320.0 238.6,319.5 238.7,317.7 238.9,321.2 239.0,321.0 239.1,318.7 239.3,319.3 239.4,320.9 239.5,320.1 239.6,321.4 239.8,318.2 239.9,317.6 240.0,319.8 240.2,315.0 240.3,323.6 240.4,320.2 240.5,315.2 240.7,320.5 240.8,323.3 240.9,315.7 241.1,317.7 241.2,322.0 241.3,317.0 241.5,321.4 241.6,322.1 241.7,319.0 241.8,319.8 242.0,321.3 242.1,319.3 242.2,320.8 242.4,318.0 242.5,318.2 242.6,316.1 242.7,319.1 242.9,321.2 243.0,321.1 243.1,318.3 243.3,313.7 243.4,315.3 243.5,319.0 243.6,314.9 243.8,320.1 243.9,314.5 244.0,318.0 244.2,315.0 244.3,315.2 244.4,317.4 244.6,315.8 244.7,319.3 244.8,316.7 244.9,313.6 245.1,305.8 245.2,314.4 245.3,315.9 245.5,318.6 245.6,313.2 245.7,320.1 245.8,317.8 246.0,314.7 246.1,318.6 246.2,311.5 246.4,312.6 246.5,316.7 246.6,316.6 246.7,318.5 246.9,318.6 247.0,313.8 247.1,313.2 247.3,313.8 247.4,314.0 247.5,316.0 247.7,313.5 247.8,318.1 247.9,314.2 248.0,310.4 248.2,310.7 248.3,315.2 248.4,314.8 248.6,310.3 248.7,309.1 248.8,317.5 248.9,314.6 249.1,312.8 249.2,310.2 249.3,315.4 249.5,311.5 249.6,313.9 249.7,306.9 249.8,311.8 250.0,313.2 250.1,313.6 250.2,309.9 250.4,310.8 250.5,315.2 250.6,311.8 250.8,315.7 250.9,314.1 251.0,315.4 251.1,315.4 251.3,313.7 251.4,314.3 251.5,310.4 251.7,309.6 251.8,312.1 251.9,314.3 252.0,309.3 252.2,316.5 252.3,316.1 252.4,309.2 252.6,309.3 252.7,308.4 252.8,311.4 252.9,314.0 253.1,311.9 253.2,309.1 253.3,312.4 253.5,312.2 253.6,313.9 253.7,313.2 253.9,307.9 254.0,308.8 254.1,312.9 254.2,312.6 254.4,311.2 254.5,308.2 254.6,312.5 254.8,309.9 254.9,314.9 255.0,312.5 255.1,308.0 255.3,306.6 255.4,311.8 255.5,310.7 255.7,306.5 255.8,309.5 255.9,309.7 256.0,306.8 256.2,307.5 256.3,305.0 256.4,305.7 256.6,309.2 256.7,307.9 256.8,307.6 257.0,310.8 257.1,309.7 257.2,304.5 257.3,311.1 257.5,304.2 257.6,305.9 257.7,306.9 257.9,305.0 258.0,305.0 258.1,302.9 258.2,307.1 258.4,306.5 258.5,306.4 258.6,300.6 258.8,303.0 258.9,307.8 259.0,306.1 259.1,307.0 259.3,304.9 259.4,304.3 259.5,298.6 259.7,309.4 259.8,301.7 259.9,303.2 260.1,306.1 260.2,304.5 260.3,305.3 260.4,303.7 260.6,301.0 260.7,307.6 260.8,299.9 261.0,304.3 261.1,299.1 261.2,301.9 261.3,299.6 261.5,301.2 261.6,299.7 261.7,302.4 261.9,304.6 262.0,300.4 262.1,300.2 262.3,296.3 262.4,307.3 262.5,302.3 262.6,298.7 262.8,304.9 262.9,302.0 263.0,295.5 263.2,297.2 263.3,303.3 263.4,297.0" stroke="#0000cd"/>
<polyline points="56.8,332.7 57.0,334.4 57.1,336.1 57.2,336.6 57.4,341.6 57.5,339.8 57.6,333.8 57.7,336.4 57.9,328.3 58.0,338.2 58.1,347.7 58.3,337.9 58.4,334.9 58.5,334.2 58.7,335.5 58.8,339.4 58.9,328.6 59.0,338.3 59.2,331.9 59.3,336.3 59.4,340.2 59.6,328.2 59.7,345.8 59.8,338.1 59.9,332.1 60.1,335.5 60.2,330.3 60.3,334.0 60.5,335.4 60.6,323.5 60.7,334.0 60.8,333.5 61.0,337.5 61.1,335.8 61.2,329.4 61.4,329.6 61.5,331.9 61.6,334.8 61.8,328.5 61.9,338.9 62.0,332.7 62.1,332.1 62.3,334.5 62.4,330.0 62.5,333.4 62.7,333.8 62.8,322.3 62.9,326.7 63.0,324.6 63.2,329.3 63.3,325.2 63.4,325.8 63.6,323.8 63.7,318.7 63.8,329.6 63.9,327.3 64.1,328.5 64.2,342.9 64.3,333.7 64.5,327.6 64.6,324.8 64.7,329.7 64.9,322.4 65.0,321.6 65.1,328.4 65.2,320.7 65.4,319.1 65.5,324.3 65.6,330.0 65.8,319.8 65.9,326.2 66.0,327.0 66.1,324.8 66.3,327.3 66.4,320.6 66.5,321.7 66.7,319.7 66.8,322.1 66.9,327.4 67.0,324.7 67.2,320.5 67.3,325.4 67.4,312.2 67.6,324.4 67.7,325.5 67.8,318.7 68.0,320.0 68.1,322.9 68.2,323.4 68.3,320.8 68.5,319.1 68.6,319.2 68.7,323.0 68.9,320.1 69.0,318.4 69.1,318.5 69.2,332.5 69.4,324.2 69.5,323.6 69.6,321.4 69.8,319.7 69.9,316.9 70.0,317.8 70.2,320.2 70.3,319.5 70.4,313.2 70.5,321.3 70.7,317.9 70.8,313.4 70.9,317.3 71.1,325.3 71.2,316.8 71.3,319.2 71.4,318.0 71.6,313.9 71.7,315.6 71.8,317.8 72.0,313.8 72.1,315.1 72.2,315.9 72.3,315.0 72.5,314.9 72.6,316.5 72.7,316.6 72.9,314.8 73.0,317.5 73.1,318.1 73.3,310.2 73.4,314.4 73.5,313.5 73.6,313.5 73.8,312.7 73.9,312.4 74.0,311.9 74.2,313.9 74.3,308.9 74.4,312.8 74.5,307.9 74.7,315.1 74.8,312.5 74.9,306.9 75.1,309.3 75.2,310.1 75.3,307.1 75.4,310.1 75.6,307.1 75.7,311.8 75.8,307.4 76.0,307.3 76.1,304.3 76.2,303.1 76.4,306.0 76.5,300.6 76.6,304.2 76.7,306.3 76.9,306.1 77.0,298.3 77.1,300.4 77.3,300.5 77.4,299.7 77.5,299.3 77.6,294.5 77.8,295.6 77.9,291.8 78.0,293.3 78.2,294.9 78.3,289.3 78.4,289.3 78.5,287.5 78.7,283.8 78.8,284.0 78.9,280.6 79.1,279.7 79.2,278.2 79.3,274.7 79.5,273.2 79.6,269.0 79.7,266.6 79.8,264.4 80.0,261.0 80.1,258.0 80.2,255.5 80.4,251.6 80.5,249.2 80.6,245.7 80.7,243.7 80.9,240.5 81.0,237.9 81.1,236.5 81.3,234.7 81.4,233.7 81.5,232.5 81.6,233.1 81.8,233.0 81.9,233.5 82.0,235.6 82.2,238.6 82.3,239.9 82.4,242.0 82.6,245.6 82.7,247.7 82.8,251.0 82.9,254.2 83.1,257.7 83.2,260.9 83.3,263.7 83.5,266.3 83.6,268.6 83.7,271.3 83.8,274.3 84.0,276.3 84.1,278.2 84.2,282.2 84.4,283.3 84.5,285.2 84.6,286.2 84.7,287.8 84.9,289.3 85.0,291.4 85.1,290.8 85.3,292.4 85.4,296.2 85.5,294.9 85.7,297.6 85.8,294.3 85.9,298.4 86.0,299.1 86.2,299.1 86.3,300.3 86.4,300.7 86.6,298.5 86.7,301.4 86.8,300.8 86.9,300.7 87.1,305.2 87.2,300.5 87.3,302.8 87.5,302.6 87.6,306.7 87.7,303.6 87.8,304.8 88.0,307.1 88.1,301.3 88.2,305.4 88.4,307.5 88.5,306.8 88.6,305.4 88.8,305.1 88.9,306.6 89.0,305.3 89.1,304.9 89.3,311.7 89.4,310.1 89.5,311.4 89.7,309.0 89.8,305.8 89.9,307.9 90.0,312.4 90.2,310.7 90.3,307.4 90.4,311.6 90.6,310.6 90.7,309.7 90.8,315.5 90.9,308.6 91.1,309.9 91.2,309.4 91.3,313.8 91.5,313.3 91.6,313.0 91.7,310.7 91.9,311.3 92.0,311.2 92.1,306.6 92.2,308.0 92.4,313.9 92.5,313.8 92.6,307.1 92.8,313.0 92.9,308.1 93.0,307.6 93.1,313.9 93.3,313.2 93.4,312.2 93.5,315.1 93.7,315.5 93.8,313.8 93.9,310.1 94.0,314.1 94.2,313.4 94.3,314.2 94.4,317.0 94.6,308.5 94.7,320.1 94.8,315.0 95.0,311.4 95.1,317.4 95.2,311.3 95.3,309.4 95.5,315.9 95.6,312.7 95.7,316.7 95.9,311.8 96.0,313.1 96.1,312.8 96.2,309.3 96.4,312.1 96.5,309.4 96.6,311.6 96.8,317.3 96.9,312.9 97.0,312.2 97.1,318.2 97.3,309.6 97.4,313.6 97.5,312.7 97.7,316.6 97.8,313.6 97.9,313.0 98.1,314.9 98.2,313.7 98.3,320.6 98.4,309.7 98.6,317.5 98.7,320.9 98.8,317.1 99.0,316.7 99.1,312.4 99.2,317.0 99.3,313.3 99.5,317.2 99.6,307.3 99.7,312.5 99.9,308.1 100.0,317.4 100.1,312.2 100.3,317.3 100.4,312.5 100.5,312.2 100.6,319.4 100.8,317.9 100.9,318.1 101.0,319.1 101.2,316.7 101.3,317.5 101.4,319.0 101.5,314.2 101.7,312.8 101.8,318.6 101.9,316.3 102.1,314.5 102.2,315.3 102.3,316.8 102.4,312.1 102.6,312.0 102.7,312.5 102.8,315.3 103.0,308.4 103.1,309.2 103.2,315.9 103.4,315.1 103.5,311.0 103.6,317.2 103.7,313.5 103.9,314.6 104.0,317.0 104.1,315.5 104.3,319.7 104.4,316.5 104.5,321.1 104.6,307.7 104.8,310.1 104.9,311.0 105.0,313.9 105.2,311.7 105.3,310.9 105.4,311.7 105.5,312.0 105.7,317.8 105.8,313.6 105.9,316.6 106.1,318.6 106.2,318.5 106.3,313.6 106.5,311.7 106.6,319.2 106.7,309.6 106.8,310.4 107.0,316.2 107.1,316.5 107.2,315.3 107.4,312.0 107.5,316.2 107.6,318.5 107.7,314.0 107.9,321.5 108.0,314.7 108.1,311.5 108.3,314.2 108.4,312.7 108.5,313.6 108.6,312.9 108.8,314.7 108.9,317.7 109.0,315.9 109.2,315.4 109.3,311.3 109.4,310.2 109.6,313.9 109.7,317.5 109.8,317.4 109.9,315.8 110.1,311.0 110.2,314.3 110.3,315.5 110.5,317.7 110.6,312.7 110.7,314.6 110.8,315.6 111.0,315.2 111.1,310.4 111.2,316.1 111.4,310.5 111.5,311.9 111.6,315.6 111.7,313.1 111.9,316.2 112.0,318.3 112.1,316.7 112.3,318.6 112.4,314.4 112.5,315.9 112.7,314.3 112.8,313.6 112.9,325.5 113.0,315.2 113.2,321.6 113.3,315.7 113.4,318.9 113.6,316.0 113.7,312.2 113.8,321.5 113.9,315.8 114.1,316.6 114.2,322.1 114.3,314.6 114.5,316.4 114.6,318.1 114.7,318.7 114.8,307.1 115.0,317.8 115.1,322.0 115.2,319.5 115.4,317.9 115.5,317.9 115.6,317.1 115.8,320.0 115.9,315.3 116.0,318.4 116.1,321.0 116.3,319.4 116.4,318.2 116.5,314.6 116.7,315.7 116.8,318.2 116.9,317.1 117.0,316.6 117.2,311.3 117.3,319.1 117.4,316.0 117.6,315.3 117.7,320.2 117.8,316.9 117.9,317.0 118.1,318.9 118.2,315.9 118.3,314.6 118.5,314.3 118.6,318.2 118.7,317.1 118.9,310.9 119.0,320.9 119.1,317.2 119.2,315.3 119.4,317.4 119.5,316.0 119.6,317.4 119.8,315.8 119.9,314.3 120.0,318.7 120.1,317.5 120.3,318.3 120.4,319.3 120.5,318.2 120.7,321.4 120.8,316.1 120.9,313.4 121.0,313.5 121.2,314.7 121.3,321.1 121.4,314.1 121.6,320.5 121.7,318.6 121.8,313.3 122.0,321.6 122.1,316.2 122.2,317.8 122.3,319.1 122.5,321.2 122.6,317.6 122.7,320.1 122.9,315.9 123.0,315.4 123.1,322.7 123.2,320.3 123.4,319.8 123.5,322.3 123.6,322.1 123.8,318.8 123.9,319.7 124.0,323.7 124.1,320.6 124.3,317.7 124.4,322.5 124.5,321.8 124.7,314.9 124.8,315.7 124.9,323.8 125.1,323.1 125.2,318.4 125.3,322.8 125.4,320.3 125.6,320.9 125.7,318.2 125.8,326.7 126.0,325.9 126.1,323.3 126.2,317.2 126.3,320.5 126.5,324.8 126.6,318.8 126.7,318.3 126.9,321.0 127.0,321.3 127.1,319.3 127.3,317.2 127.4,320.2 127.5,319.2 127.6,320.8 127.8,321.8 127.9,323.3 128.0,320.2 128.2,321.8 128.3,321.7 128.4,318.6 128.5,319.8 128.7,318.9 128.8,325.5 128.9,319.9 129.1,323.0 129.2,323.6 129.3,323.8 129.4,318.4 129.6,319.5 129.7,323.6 129.8,324.8 130.0,321.8 130.1,323.1 130.2,317.6 130.4,325.9 130.5,326.9 130.6,322.8 130.7,322.2 130.9,321.9 131.0,320.4 131.1,317.0 131.3,323.4 131.4,323.9 131.5,327.2 131.6,322.0 131.8,320.5 131.9,323.5 132.0,319.8 132.2,322.8 132.3,319.1 132.4,322.2 132.5,325.8 132.7,324.8 132.8,327.2 132.9,327.7 133.1,322.7 133.2,321.2 133.3,318.5 133.5,323.7 133.6,324.2 133.7,326.5 133.8,321.2 134.0,322.8 134.1,325.4 134.2,322.2 134.4,322.6 134.5,328.8 134.6,322.3 134.7,323.8 134.9,325.2 135.0,325.4 135.1,320.0 135.3,320.6 135.4,320.0 135.5,327.4 135.6,326.3 135.8,322.4 135.9,327.8 136.0,326.6 136.2,329.3 136.3,320.4 136.4,322.4 136.6,323.9 136.7,324.6 136.8,326.2 136.9,326.2 137.1,323.8 137.2,327.1 137.3,322.5 137.5,326.7 137.6,327.7 137.7,322.5 137.8,326.1 138.0,324.4 138.1,326.8 138.2,331.3 138.4,324.6 138.5,329.3 138.6,323.5 138.7,329.9 138.9,330.7 139.0,325.5 139.1,325.3 139.3,326.1 139.4,329.4 139.5,324.4 139.7,330.1 139.8,327.8 139.9,328.6 140.0,327.7 140.2,324.8 140.3,328.4 140.4,325.7 140.6,325.4 140.7,331.2 140.8,330.0 140.9,328.2 141.1,328.8 141.2,326.7 141.3,332.0 141.5,325.9 141.6,325.9 141.7,328.1 141.8,331.0 142.0,327.9 142.1,329.2 142.2,326.7 142.4,328.3 142.5,326.5 142.6,329.2 142.8,325.0 142.9,333.7 143.0,330.8 143.1,327.4 143.3,332.1 143.4,327.0 143.5,331.5 143.7,328.6 143.8,331.0 143.9,330.0 144.0,328.6 144.2,329.4 144.3,330.1 144.4,324.4 144.6,329.3 144.7,331.6 144.8,327.4 144.9,327.7 145.1,326.9 145.2,325.7 145.3,331.9 145.5,327.5 145.6,327.4 145.7,330.0 145.9,329.5 146.0,336.8 146.1,331.5 146.2,326.3 146.4,334.3 146.5,331.6 146.6,329.9 146.8,329.3 146.9,327.1 147.0,334.6 147.1,330.7 147.3,329.0 147.4,333.8 147.5,331.1 147.7,327.0 147.8,328.3 147.9,330.1 148.0,337.0 148.2,331.7 148.3,330.6 148.4,332.2 148.6,331.7 148.7,325.0 148.8,332.2 149.0,333.9 149.1,331.4 149.2,332.6 149.3,332.7 149.5,332.3 149.6,330.5 149.7,331.7 149.9,334.9 150.0,332.7 150.1,331.5 150.2,333.5 150.4,330.2 150.5,331.1 150.6,334.8 150.8,332.2 150.9,328.7 151.0,329.7 151.1,333.2 151.3,331.2 151.4,334.6 151.5,336.3 151.7,332.2 151.8,332.9 151.9,332.4 152.1,333.6 152.2,332.9 152.3,334.8 152.4,332.8 152.6,332.1 152.7,334.0 152.8,332.3 153.0,337.8 153.1,335.8 153.2,331.2 153.3,330.6 153.5,333.8 153.6,334.7 153.7,337.2 153.9,333.8 154.0,333.0 154.1,337.9 154.3,333.6 154.4,333.8 154.5,334.0 154.6,337.4 154.8,333.9 154.9,338.4 155.0,332.1 155.2,335.0 155.3,337.9 155.4,332.5 155.5,333.0 155.7,336.9 155.8,330.9 155.9,337.8 156.1,335.1 156.2,333.3 156.3,340.7 156.4,333.8 156.6,336.1 156.7,336.1 156.8,338.4 157.0,335.5 157.1,338.6 157.2,338.4 157.4,337.3 157.5,339.1 157.6,333.1 157.7,339.4 157.9,338.3 158.0,337.4 158.1,336.7 158.3,335.1 158.4,335.1 158.5,337.6 158.6,337.8 158.8,337.0 158.9,335.3 159.0,335.7 159.2,338.4 159.3,341.8 159.4,332.7 159.5,335.4 159.7,336.9 159.8,336.8 159.9,338.8 160.1,339.9 160.2,338.5 160.3,338.3 160.5,339.2 160.6,341.1 160.7,338.7 160.8,336.8 161.0,339.2 161.1,338.1 161.2,342.8 161.4,338.8 161.5,338.6 161.6,341.1 161.7,342.3 161.9,337.7 162.0,340.4 162.1,337.6 162.3,339.7 162.4,337.4 162.5,339.6 162.6,342.3 162.8,339.2 162.9,339.8 163.0,337.7 163.2,340.2 163.3,340.1 163.4,337.4 163.6,336.8 163.7,337.8 163.8,337.2 163.9,338.6 164.1,337.9 164.2,337.7 164.3,338.9 164.5,339.7 164.6,339.6 164.7,334.6 164.8,340.0 165.0,340.6 165.1,340.9 165.2,340.3 165.4,339.7 165.5,342.8 165.6,344.8 165.7,339.8 165.9,344.1 166.0,340.0 166.1,340.3 166.3,338.1 166.4,337.0 166.5,340.0 166.7,342.1 166.8,343.6 166.9,342.8 167.0,341.0 167.2,345.8 167.3,341.0 167.4,341.3 167.6,339.9 167.7,342.1 167.8,341.2 167.9,343.2 168.1,342.6 168.2,345.6 168.3,341.4 168.5,338.3 168.6,341.5 168.7,341.1 168.8,344.2 169.0,338.8 169.1,343.8 169.2,340.3 169.4,342.0 169.5,344.4 169.6,340.0 169.8,342.4 169.9,342.1 170.0,341.5 170.1,342.6 170.3,343.5 170.4,341.6 170.5,343.6 170.7,342.5 170.8,344.2 170.9,346.1 171.0,344.3 171.2,343.9 171.3,342.8 171.4,340.1 171.6,346.7 171.7,342.6 171.8,348.0 171.9,345.3 172.1,344.1 172.2,348.2 172.3,347.3 172.5,342.7 172.6,342.9 172.7,343.4 172.9,345.0 173.0,338.2 173.1,343.6 173.2,345.2 173.4,339.4 173.5,341.9 173.6,344.2 173.8,340.6 173.9,343.0 174.0,341.9 174.1,342.9 174.3,345.8 174.4,341.2 174.5,343.1 174.7,345.8 174.8,345.3 174.9,341.4 175.0,344.4 175.2,343.5 175.3,342.1 175.4,343.4 175.6,347.2 175.7,342.2 175.8,341.6 176.0,341.8 176.1,340.0 176.2,343.0 176.3,342.0 176.5,340.2 176.6,344.6 176.7,339.9 176.9,339.9 177.0,342.2 177.1,339.7 177.2,342.1 177.4,346.1 177.5,341.4 177.6,343.4 177.8,343.2 177.9,343.8 178.0,341.0 178.1,342.9 178.3,345.9 178.4,343.1 178.5,342.6 178.7,346.0 178.8,345.4 178.9,345.3 179.1,345.8 179.2,343.6 179.3,342.1 179.4,340.0 179.6,341.7 179.7,342.1 179.8,341.9 180.0,341.4 180.1,345.5 180.2,343.0 180.3,343.9 180.5,345.0 180.6,345.8 180.7,346.0 180.9,345.4 181.0,347.7 181.1,343.6 181.3,344.9 181.4,344.6 181.5,344.1 181.6,343.2 181.8,346.4 181.9,345.2 182.0,348.8 182.2,350.3 182.3,349.7 182.4,341.4 182.5,349.5 182.7,344.0 182.8,341.7 182.9,346.3 183.1,341.3 183.2,340.9 183.3,343.0 183.4,339.6 183.6,343.9 183.7,347.1 183.8,344.1 184.0,346.5 184.1,348.6 184.2,348.5 184.4,339.9 184.5,346.8 184.6,345.6 184.7,347.2 184.9,345.3 185.0,346.2 185.1,346.6 185.3,348.6 185.4,349.0 185.5,347.4 185.6,344.9 185.8,340.6 185.9,343.0 186.0,341.1 186.2,344.3 186.3,345.7 186.4,348.7 186.5,345.4 186.7,350.3 186.8,346.1 186.9,341.5 187.1,344.6 187.2,342.6 187.3,346.3 187.5,348.7 187.6,346.5 187.7,346.2 187.8,342.3 188.0,340.4 188.1,347.0 188.2,346.1 188.4,345.5 188.5,346.0 188.6,348.2 188.7,344.9 188.9,344.2 189.0,344.2 189.1,348.0 189.3,345.3 189.4,349.3 189.5,342.8 189.6,347.5 189.8,345.7 189.9,346.1 190.0,346.4 190.2,347.5 190.3,349.2 190.4,340.6 190.6,344.2 190.7,344.2 190.8,339.7 190.9,345.1 191.1,343.4 191.2,344.7 191.3,341.8 191.5,343.5 191.6,344.0 191.7,345.3 191.8,344.0 192.0,341.8 192.1,349.8 192.2,345.0 192.4,345.6 192.5,345.3 192.6,349.5 192.7,342.8 192.9,346.6 193.0,345.1 193.1,345.8 193.3,348.6 193.4,345.6 193.5,349.0 193.7,346.8 193.8,345.2 193.9,344.4 194.0,344.2 194.2,344.7 194.3,339.0 194.4,343.2 194.6,347.3 194.7,345.8 194.8,345.9 194.9,344.7 195.1,345.7 195.2,346.4 195.3,340.1 195.5,344.1 195.6,345.0 195.7,344.8 195.8,344.7 196.0,340.6 196.1,342.9 196.2,341.3 196.4,350.3 196.5,343.2 196.6,341.4 196.8,339.1 196.9,343.9 197.0,348.3 197.1,342.5 197.3,345.4 197.4,348.4 197.5,345.4 197.7,341.2 197.8,340.8 197.9,342.0 198.0,346.5 198.2,337.5 198.3,346.7 198.4,344.0 198.6,347.4 198.7,340.4 198.8,342.6 198.9,341.5 199.1,343.4 199.2,343.8 199.3,343.2 199.5,348.4 199.6,341.1 199.7,341.3 199.9,344.6 200.0,343.6 200.1,342.8 200.2,339.5 200.4,342.4 200.5,343.4 200.6,344.7 200.8,347.3 200.9,344.9 201.0,343.2 201.1,344.0 201.3,343.2 201.4,341.4 201.5,342.2 201.7,342.6 201.8,341.6 201.9,342.8 202.0,343.3 202.2,342.0 202.3,347.6 202.4,340.0 202.6,346.5 202.7,341.0 202.8,343.1 203.0,340.3 203.1,343.0 203.2,345.5 203.3,340.3 203.5,342.6 203.6,342.7 203.7,342.8 203.9,340.4 204.0,340.9 204.1,342.4 204.2,346.9 204.4,343.9 204.5,342.6 204.6,338.3 204.8,341.8 204.9,343.0 205.0,339.6 205.1,342.9 205.3,342.7 205.4,342.1 205.5,346.3 205.7,339.9 205.8,341.2 205.9,343.0 206.1,345.2 206.2,341.6 206.3,338.5 206.4,343.7 206.6,344.7 206.7,340.8 206.8,346.0 207.0,347.6 207.1,342.9 207.2,343.5 207.3,342.4 207.5,343.0 207.6,340.6 207.7,342.0 207.9,343.0 208.0,342.5 208.1,339.6 208.3,338.7 208.4,338.8 208.5,339.3 208.6,349.6 208.8,343.6 208.9,341.7 209.0,340.3 209.2,345.0 209.3,337.0 209.4,339.9 209.5,342.2 209.7,340.1 209.8,341.4 209.9,342.4 210.1,339.1 210.2,341.5 210.3,344.0 210.4,341.9 210.6,340.4 210.7,342.9 210.8,336.7 211.0,342.8 211.1,335.3 211.2,337.5 211.4,342.3 211.5,339.4 211.6,336.5 211.7,340.1 211.9,342.7 212.0,339.2 212.1,334.2 212.3,343.3 212.4,337.8 212.5,339.2 212.6,339.5 212.8,340.1 212.9,339.9 213.0,336.2 213.2,337.4 213.3,341.5 213.4,334.7 213.5,342.2 213.7,336.9 213.8,338.1 213.9,335.4 214.1,337.6 214.2,335.6 214.3,338.5 214.5,335.7 214.6,337.4 214.7,332.5 214.8,340.0 215.0,334.9 215.1,336.7 215.2,337.4 215.4,339.3 215.5,336.5 215.6,341.5 215.7,341.2 215.9,335.5 216.0,341.5 216.1,333.4 216.3,337.9 216.4,336.4 216.5,336.8 216.6,335.8 216.8,337.6 216.9,337.7 217.0,337.0 217.2,333.8 217.3,333.4 217.4,333.0 217.6,335.3 217.7,336.8 217.8,340.6 217.9,334.3 218.1,333.7 218.2,337.0 218.3,333.6 218.5,332.2 218.6,335.4 218.7,332.7 218.8,334.6 219.0,340.0 219.1,336.5 219.2,336.3 219.4,333.7 219.5,337.3 219.6,336.1 219.7,337.4 219.9,334.8 220.0,334.5 220.1,331.9 220.3,332.3 220.4,334.0 220.5,333.7 220.7,333.9 220.8,333.8 220.9,329.9 221.0,340.7 221.2,334.4 221.3,332.9 221.4,330.6 221.6,336.6 221.7,332.6 221.8,331.1 221.9,334.6 222.1,338.5 222.2,334.2 222.3,336.4 222.5,331.2 222.6,335.2 222.7,328.0 222.8,332.4 223.0,334.9 223.1,334.0 223.2,335.5 223.4,331.3 223.5,328.2 223.6,332.8 223.8,329.6 223.9,334.6 224.0,331.1 224.1,325.6 224.3,335.7 224.4,328.3 224.5,328.4 224.7,336.7 224.8,335.4 224.9,334.1 225.0,328.6 225.2,332.4 225.3,331.6 225.4,329.1 225.6,330.6 225.7,330.2 225.8,331.7 225.9,327.6 226.1,332.7 226.2,325.9 226.3,331.4 226.5,332.5 226.6,328.5 226.7,328.9 226.9,335.6 227.0,329.4 227.1,333.6 227.2,332.1 227.4,327.6 227.5,332.0 227.6,328.6 227.8,330.5 227.9,324.0 228.0,329.6 228.1,332.5 228.3,332.2 228.4,331.6 228.5,328.6 228.7,328.9 228.8,326.1 228.9,328.2 229.0,328.3 229.2,327.6 229.3,328.8 229.4,327.6 229.6,326.1 229.7,326.0 229.8,329.6 230.0,333.0 230.1,330.2 230.2,327.1 230.3,334.7 230.5,329.0 230.6,326.3 230.7,329.1 230.9,330.6 231.0,322.4 231.1,323.4 231.2,327.9 231.4,323.4 231.5,323.4 231.6,330.1 231.8,319.3 231.9,329.4 232.0,327.4 232.1,329.7 232.3,326.3 232.4,330.1 232.5,326.3 232.7,323.2 232.8,325.5 232.9,326.8 233.1,321.6 233.2,328.4 233.3,323.1 233.4,326.6 233.6,325.0 233.7,325.5 233.8,325.1 234.0,325.5 234.1,327.5 234.2,326.8 234.3,323.9 234.5,325.4 234.6,328.3 234.7,326.9 234.9,326.8 235.0,324.9 235.1,324.1 235.3,324.3 235.4,326.3 235.5,324.3 235.6,328.2 235.8,332.4 235.9,324.3 236.0,328.7 236.2,326.6 236.3,327.3 236.4,322.0 236.5,327.1 236.7,322.8 236.8,324.9 236.9,326.9 237.1,327.8 237.2,321.9 237.3,322.0 237.4,320.9 237.6,317.7 237.7,322.1 237.8,322.0 238.0,323.1 238.1,322.3 238.2,323.6 238.4,325.0 238.5,316.7 238.6,327.6 238.7,321.5 238.9,320.8 239.0,321.6 239.1,324.7 239.3,322.4 239.4,323.1 239.5,324.8 239.6,321.7 239.8,322.7 239.9,323.0 240.0,319.4 240.2,324.3 240.3,319.9 240.4,322.9 240.5,319.8 240.7,320.7 240.8,320.1 240.9,323.6 241.1,322.9 241.2,323.0 241.3,320.0 241.5,318.2 241.6,317.2 241.7,321.7 241.8,319.9 242.0,324.7 242.1,326.4 242.2,322.4 242.4,321.7 242.5,324.2 242.6,324.8 242.7,318.0 242.9,321.8 243.0,324.2 243.1,312.5 243.3,318.7 243.4,320.0 243.5,317.0 243.6,321.1 243.8,314.2 243.9,323.2 244.0,322.5 244.2,319.0 244.3,320.7 244.4,314.3 244.6,323.0 244.7,320.4 244.8,317.5 244.9,316.4 245.1,315.1 245.2,316.9 245.3,311.4 245.5,319.1 245.6,317.1 245.7,315.0 245.8,318.4 246.0,318.2 246.1,318.6 246.2,319.1 246.4,320.4 246.5,318.7 246.6,321.5 246.7,315.7 246.9,321.4 247.0,310.6 247.1,311.6 247.3,313.3 247.4,317.0 247.5,318.1 247.7,312.7 247.8,315.6 247.9,314.4 248.0,318.1 248.2,312.8 248.3,318.2 248.4,315.4 248.6,320.7 248.7,317.5 248.8,314.0 248.9,316.7 249.1,316.6 249.2,312.9 249.3,315.3 249.5,311.4 249.6,322.1 249.7,313.2 249.8,313.3 250.0,319.2 250.1,318.4 250.2,311.9 250.4,317.6 250.5,316.2 250.6,312.5 250.8,315.1 250.9,312.6 251.0,316.5 251.1,313.0 251.3,310.6 251.4,312.7 251.5,320.1 251.7,311.6 251.8,313.3 251.9,316.0 252.0,309.1 252.2,318.4 252.3,307.5 252.4,314.9 252.6,308.2 252.7,313.0 252.8,316.7 252.9,312.4 253.1,311.6 253.2,310.8 253.3,309.2 253.5,315.0 253.6,310.7 253.7,309.9 253.9,312.8 254.0,314.7 254.1,314.7 254.2,309.5 254.4,309.3 254.5,314.1 254.6,315.5 254.8,307.7 254.9,316.0 255.0,310.7 255.1,313.5 255.3,316.2 255.4,310.4 255.5,311.2 255.7,306.2 255.8,303.6 255.9,310.8 256.0,307.0 256.2,306.8 256.3,311.4 256.4,312.3 256.6,304.7 256.7,310.5 256.8,309.4 257.0,310.1 257.1,309.4 257.2,310.7 257.3,306.5 257.5,304.8 257.6,309.6 257.7,312.5 257.9,308.1 258.0,312.6 258.1,309.9 258.2,304.1 258.4,300.7 258.5,306.4 258.6,310.7 258.8,304.9 258.9,314.0 259.0,309.1 259.1,302.3 259.3,304.5 259.4,310.8 259.5,311.5 259.7,303.8 259.8,306.4 259.9,307.9 260.1,304.7 260.2,307.6 260.3,311.5 260.4,303.1 260.6,307.4 260.7,308.3 260.8,309.2 261.0,304.2 261.1,307.3 261.2,302.8 261.3,305.4 261.5,301.2 261.6,305.5 261.7,306.2 261.9,310.1 262.0,307.3 262.1,301.6 262.3,294.3 262.4,307.3 262.5,306.6 262.6,302.2 262.8,301.7 262.9,305.1 263.0,302.6 263.2,307.6 263.3,303.5 263.4,299.7" stroke="#000"/>
</g>
<rect x="56.8" y="213.9" width="206.5" height="134.49999999999997" fill="none" stroke="#bdbdbd" stroke-width="1.2"/>
<text x="54.5" y="351.3" text-anchor="end" font-size="8.3" fill="#2a2a2a" stroke="#2a2a2a" stroke-width="0.12" textLength="9.8" lengthAdjust="spacingAndGlyphs">15</text>
<text x="54.5" y="332.1" text-anchor="end" font-size="8.3" fill="#2a2a2a" stroke="#2a2a2a" stroke-width="0.12" textLength="9.8" lengthAdjust="spacingAndGlyphs">20</text>
<text x="54.5" y="312.9" text-anchor="end" font-size="8.3" fill="#2a2a2a" stroke="#2a2a2a" stroke-width="0.12" textLength="9.8" lengthAdjust="spacingAndGlyphs">25</text>
<text x="54.5" y="293.7" text-anchor="end" font-size="8.3" fill="#2a2a2a" stroke="#2a2a2a" stroke-width="0.12" textLength="9.8" lengthAdjust="spacingAndGlyphs">30</text>
<text x="54.5" y="274.4" text-anchor="end" font-size="8.3" fill="#2a2a2a" stroke="#2a2a2a" stroke-width="0.12" textLength="9.8" lengthAdjust="spacingAndGlyphs">35</text>
<text x="54.5" y="255.2" text-anchor="end" font-size="8.3" fill="#2a2a2a" stroke="#2a2a2a" stroke-width="0.12" textLength="9.8" lengthAdjust="spacingAndGlyphs">40</text>
<text x="54.5" y="236.0" text-anchor="end" font-size="8.3" fill="#2a2a2a" stroke="#2a2a2a" stroke-width="0.12" textLength="9.8" lengthAdjust="spacingAndGlyphs">45</text>
<text x="54.5" y="216.8" text-anchor="end" font-size="8.3" fill="#2a2a2a" stroke="#2a2a2a" stroke-width="0.12" textLength="9.8" lengthAdjust="spacingAndGlyphs">50</text>
<text x="87.9" y="356.9" text-anchor="middle" font-size="8.3" fill="#2a2a2a" stroke="#2a2a2a" stroke-width="0.12" textLength="18" lengthAdjust="spacingAndGlyphs">0.60</text>
<text x="119.3" y="356.9" text-anchor="middle" font-size="8.3" fill="#2a2a2a" stroke="#2a2a2a" stroke-width="0.12" textLength="18" lengthAdjust="spacingAndGlyphs">0.65</text>
<text x="150.7" y="356.9" text-anchor="middle" font-size="8.3" fill="#2a2a2a" stroke="#2a2a2a" stroke-width="0.12" textLength="18" lengthAdjust="spacingAndGlyphs">0.70</text>
<text x="182.1" y="356.9" text-anchor="middle" font-size="8.3" fill="#2a2a2a" stroke="#2a2a2a" stroke-width="0.12" textLength="18" lengthAdjust="spacingAndGlyphs">0.75</text>
<text x="213.5" y="356.9" text-anchor="middle" font-size="8.3" fill="#2a2a2a" stroke="#2a2a2a" stroke-width="0.12" textLength="18" lengthAdjust="spacingAndGlyphs">0.80</text>
<text x="244.9" y="356.9" text-anchor="middle" font-size="8.3" fill="#2a2a2a" stroke="#2a2a2a" stroke-width="0.12" textLength="18" lengthAdjust="spacingAndGlyphs">0.85</text>
<text x="160" y="367.5" text-anchor="middle" font-size="10" font-weight="bold" fill="#111" textLength="88" lengthAdjust="spacingAndGlyphs">Wavelength (&#956;m)</text>
<text transform="translate(41.3,281) rotate(-90)" text-anchor="middle" font-size="10" font-weight="bold" fill="#111" textLength="80" lengthAdjust="spacingAndGlyphs">Reflectance (%)</text>
<rect x="165.3" y="217" width="93.7" height="45" fill="#fff" fill-opacity="0.85" stroke="#e0e0e0" stroke-width="0.8" rx="1.5"/>
<line x1="168.5" y1="223.5" x2="183.8" y2="223.5" stroke="#000" stroke-width="1.2"/>
<text x="188.8" y="226.4" font-size="8.2" fill="#262626" textLength="68" lengthAdjust="spacingAndGlyphs">Period = 0.350 &#956;m</text>
<line x1="168.5" y1="234.2" x2="183.8" y2="234.2" stroke="#0000cd" stroke-width="1.2"/>
<text x="188.8" y="237.1" font-size="8.2" fill="#262626" textLength="68" lengthAdjust="spacingAndGlyphs">Period = 0.400 &#956;m</text>
<line x1="168.5" y1="244.9" x2="183.8" y2="244.9" stroke="#9400d3" stroke-width="1.2"/>
<text x="188.8" y="247.8" font-size="8.2" fill="#262626" textLength="68" lengthAdjust="spacingAndGlyphs">Period = 0.475 &#956;m</text>
<line x1="168.5" y1="255.6" x2="183.8" y2="255.6" stroke="#dc143c" stroke-width="1.2"/>
<text x="188.8" y="258.5" font-size="8.2" fill="#262626" textLength="68" lengthAdjust="spacingAndGlyphs">Period = 0.550 &#956;m</text>
</g>
<line x1="332.5" y1="348.40" x2="531.3" y2="348.40" stroke="#dedede" stroke-width="0.9"/>
<line x1="332.5" y1="321.40" x2="531.3" y2="321.40" stroke="#dedede" stroke-width="0.9"/>
<line x1="332.5" y1="294.40" x2="531.3" y2="294.40" stroke="#dedede" stroke-width="0.9"/>
<line x1="332.5" y1="267.40" x2="531.3" y2="267.40" stroke="#dedede" stroke-width="0.9"/>
<line x1="332.5" y1="240.40" x2="531.3" y2="240.40" stroke="#dedede" stroke-width="0.9"/>
<line x1="332.5" y1="213.40" x2="531.3" y2="213.40" stroke="#dedede" stroke-width="0.9"/>
<line x1="353.60" y1="213.7" x2="353.60" y2="348.2" stroke="#dedede" stroke-width="0.9"/>
<line x1="388.80" y1="213.7" x2="388.80" y2="348.2" stroke="#dedede" stroke-width="0.9"/>
<line x1="424.00" y1="213.7" x2="424.00" y2="348.2" stroke="#dedede" stroke-width="0.9"/>
<line x1="459.20" y1="213.7" x2="459.20" y2="348.2" stroke="#dedede" stroke-width="0.9"/>
<line x1="494.40" y1="213.7" x2="494.40" y2="348.2" stroke="#dedede" stroke-width="0.9"/>
<line x1="529.60" y1="213.7" x2="529.60" y2="348.2" stroke="#dedede" stroke-width="0.9"/>
<rect x="332.5" y="213.7" width="198.79999999999995" height="134.5" fill="none" stroke="#bdbdbd" stroke-width="1.2"/>
<line x1="347.6" y1="232.6" x2="521.2" y2="285.8" stroke="#000" stroke-width="1.3"/>
<line x1="341.6" y1="296.6" x2="521.2" y2="321.1" stroke="#ff0000" stroke-width="1.3"/>
<circle cx="346.6" cy="234.2" r="2.6" fill="#000"/>
<circle cx="390.9" cy="246.1" r="2.6" fill="#000"/>
<circle cx="455.7" cy="258.8" r="2.6" fill="#000"/>
<circle cx="521.2" cy="289.5" r="2.6" fill="#000"/>
<polygon points="341.6,289.2 344.4,294.2 338.8,294.2" fill="#ff0000"/>
<polygon points="378.9,304.9 381.7,309.9 376.1,309.9" fill="#ff0000"/>
<polygon points="447.9,307.9 450.7,312.9 445.1,312.9" fill="#ff0000"/>
<polygon points="521.2,317.6 524.0,322.6 518.4,322.6" fill="#ff0000"/>
<text x="330.3" y="351.3" text-anchor="end" font-size="8.3" fill="#2a2a2a" stroke="#2a2a2a" stroke-width="0.12" textLength="5.2" lengthAdjust="spacingAndGlyphs">0</text>
<text x="330.3" y="324.3" text-anchor="end" font-size="8.3" fill="#2a2a2a" stroke="#2a2a2a" stroke-width="0.12" textLength="10.3" lengthAdjust="spacingAndGlyphs">10</text>
<text x="330.3" y="297.3" text-anchor="end" font-size="8.3" fill="#2a2a2a" stroke="#2a2a2a" stroke-width="0.12" textLength="10.3" lengthAdjust="spacingAndGlyphs">20</text>
<text x="330.3" y="270.3" text-anchor="end" font-size="8.3" fill="#2a2a2a" stroke="#2a2a2a" stroke-width="0.12" textLength="10.3" lengthAdjust="spacingAndGlyphs">30</text>
<text x="330.3" y="243.3" text-anchor="end" font-size="8.3" fill="#2a2a2a" stroke="#2a2a2a" stroke-width="0.12" textLength="10.3" lengthAdjust="spacingAndGlyphs">40</text>
<text x="330.3" y="216.3" text-anchor="end" font-size="8.3" fill="#2a2a2a" stroke="#2a2a2a" stroke-width="0.12" textLength="10.3" lengthAdjust="spacingAndGlyphs">50</text>
<text x="353.6" y="356.9" text-anchor="middle" font-size="8.3" fill="#2a2a2a" stroke="#2a2a2a" stroke-width="0.12" textLength="18.2" lengthAdjust="spacingAndGlyphs">0.60</text>
<text x="388.8" y="356.9" text-anchor="middle" font-size="8.3" fill="#2a2a2a" stroke="#2a2a2a" stroke-width="0.12" textLength="18.2" lengthAdjust="spacingAndGlyphs">0.65</text>
<text x="424.0" y="356.9" text-anchor="middle" font-size="8.3" fill="#2a2a2a" stroke="#2a2a2a" stroke-width="0.12" textLength="18.2" lengthAdjust="spacingAndGlyphs">0.70</text>
<text x="459.2" y="356.9" text-anchor="middle" font-size="8.3" fill="#2a2a2a" stroke="#2a2a2a" stroke-width="0.12" textLength="18.2" lengthAdjust="spacingAndGlyphs">0.75</text>
<text x="494.4" y="356.9" text-anchor="middle" font-size="8.3" fill="#2a2a2a" stroke="#2a2a2a" stroke-width="0.12" textLength="18.2" lengthAdjust="spacingAndGlyphs">0.80</text>
<text x="529.6" y="356.9" text-anchor="middle" font-size="8.3" fill="#2a2a2a" stroke="#2a2a2a" stroke-width="0.12" textLength="18.2" lengthAdjust="spacingAndGlyphs">0.85</text>
<text x="431.5" y="367.5" text-anchor="middle" font-size="10" font-weight="bold" fill="#111" textLength="89" lengthAdjust="spacingAndGlyphs">Wavelength (&#956;m)</text>
<text transform="translate(317,281) rotate(-90)" text-anchor="middle" font-size="10" font-weight="bold" fill="#111" textLength="126" lengthAdjust="spacingAndGlyphs">Relative Reflectance (%)</text>
<rect x="490.4" y="217.6" width="37.2" height="22.4" fill="#fff" fill-opacity="0.85" stroke="#e0e0e0" stroke-width="0.8" rx="1.5"/>
<line x1="493" y1="223.4" x2="509" y2="223.4" stroke="#000" stroke-width="1.2"/>
<line x1="493" y1="234" x2="509" y2="234" stroke="#ff0000" stroke-width="1.2"/>
<text x="514.4" y="226.2" font-size="7.6" fill="#262626">TE</text>
<text x="514.4" y="236.8" font-size="7.6" fill="#262626">TM</text>
<g id="a3d">
<defs><filter id="tex" x="0" y="0" width="1" height="1" filterUnits="objectBoundingBox" color-interpolation-filters="sRGB"><feTurbulence type="fractalNoise" baseFrequency="0.4 0.22" numOctaves="2" seed="11" result="n"/><feColorMatrix in="n" type="matrix" values="1.5 0 0 0 -0.25  1.5 0 0 0 -0.25  1.5 0 0 0 -0.25  0 0 0 0 1" result="g"/><feComposite in="SourceGraphic" in2="g" operator="arithmetic" k1="0.6" k2="0.72" k3="0" k4="0" result="c"/><feComposite in="c" in2="SourceAlpha" operator="in"/></filter></defs>
<g stroke="#a6a6a6" stroke-width="0.55" fill="none">
<polyline points="54,96.2 117.5,22.4 256.5,32 257.5,166"/>
<polyline points="57,106 118,30.7 256.5,40.5"/>
<line x1="54" y1="96.2" x2="60" y2="143"/>
<line x1="54" y1="96.2" x2="75" y2="97.8"/>
<line x1="256.5" y1="48.7" x2="200" y2="47.3"/>
<line x1="256.5" y1="57.7" x2="220" y2="56.5"/>
</g>
<g filter="url(#tex)">
<polygon points="88.0,144.0 94.0,147.7 97.8,140.3 92.1,136.8" fill="#d4bc1c" stroke="#d4bc1c" stroke-width="0.4"/>
<polygon points="92.1,136.8 97.8,140.3 101.7,132.8 96.2,129.7" fill="#b79919" stroke="#b79919" stroke-width="0.4"/>
<polygon points="96.2,129.7 101.7,132.8 105.5,125.4 100.2,122.5" fill="#9a7616" stroke="#9a7616" stroke-width="0.4"/>
<polygon points="100.2,122.5 105.5,125.4 109.4,118.0 104.3,115.3" fill="#8c6414" stroke="#8c6414" stroke-width="0.4"/>
<polygon points="104.3,115.3 109.4,118.0 113.2,110.5 108.4,108.2" fill="#8c6414" stroke="#8c6414" stroke-width="0.4"/>
<polygon points="108.4,108.2 113.2,110.5 117.1,103.1 112.5,101.0" fill="#8c6414" stroke="#8c6414" stroke-width="0.4"/>
<polygon points="112.5,101.0 117.1,103.1 120.9,95.7 116.6,93.8" fill="#8c6414" stroke="#8c6414" stroke-width="0.4"/>
<polygon points="116.6,93.8 120.9,95.7 124.8,88.2 120.7,86.7" fill="#8c6414" stroke="#8c6414" stroke-width="0.4"/>
<polygon points="120.7,86.7 124.8,88.2 128.6,80.8 124.8,79.5" fill="#8c6414" stroke="#8c6414" stroke-width="0.4"/>
<polygon points="124.8,79.5 128.6,80.8 132.5,73.4 128.8,72.3" fill="#8c6414" stroke="#8c6414" stroke-width="0.4"/>
<polygon points="128.8,72.3 132.5,73.4 136.3,65.9 132.9,65.2" fill="#8c6414" stroke="#8c6414" stroke-width="0.4"/>
<polygon points="132.9,65.2 136.3,65.9 140.2,58.5 137.0,58.0" fill="#8c6414" stroke="#8c6414" stroke-width="0.4"/>
<polygon points="80.0,112.0 81.6,121.6 85.8,115.0 84.2,105.6" fill="#9f4f20" stroke="#9f4f20" stroke-width="0.4"/>
<polygon points="84.2,105.6 85.8,115.0 90.0,108.3 88.5,99.2" fill="#9c4c24" stroke="#9c4c24" stroke-width="0.4"/>
<polygon points="88.5,99.2 90.0,108.3 94.2,101.7 92.8,92.8" fill="#9a4927" stroke="#9a4927" stroke-width="0.4"/>
<polygon points="92.8,92.8 94.2,101.7 98.5,95.0 97.0,86.3" fill="#98472b" stroke="#98472b" stroke-width="0.4"/>
<polygon points="97.0,86.3 98.5,95.0 102.7,88.4 101.2,79.9" fill="#96442e" stroke="#96442e" stroke-width="0.4"/>
<polygon points="101.2,79.9 102.7,88.4 106.9,81.8 105.5,73.5" fill="#934132" stroke="#934132" stroke-width="0.4"/>
<polygon points="105.5,73.5 106.9,81.8 111.1,75.1 109.8,67.1" fill="#924034" stroke="#924034" stroke-width="0.4"/>
<polygon points="109.8,67.1 111.1,75.1 115.3,68.5 114.0,60.7" fill="#924034" stroke="#924034" stroke-width="0.4"/>
<polygon points="114.0,60.7 115.3,68.5 119.5,61.8 118.2,54.2" fill="#924034" stroke="#924034" stroke-width="0.4"/>
<polygon points="118.2,54.2 119.5,61.8 123.8,55.2 122.5,47.8" fill="#924034" stroke="#924034" stroke-width="0.4"/>
<polygon points="122.5,47.8 123.8,55.2 128.0,48.5 126.8,41.4" fill="#924034" stroke="#924034" stroke-width="0.4"/>
<polygon points="126.8,41.4 128.0,48.5 132.2,41.9 131.0,35.0" fill="#924034" stroke="#924034" stroke-width="0.4"/>
<polygon points="81.6,121.6 84.0,132.8 88.2,125.9 85.8,115.0" fill="#8b5716" stroke="#8b5716" stroke-width="0.4"/>
<polygon points="85.8,115.0 88.2,125.9 92.3,119.0 90.0,108.3" fill="#8a5518" stroke="#8a5518" stroke-width="0.4"/>
<polygon points="90.0,108.3 92.3,119.0 96.5,112.1 94.2,101.7" fill="#885318" stroke="#885318" stroke-width="0.4"/>
<polygon points="94.2,101.7 96.5,112.1 100.7,105.2 98.5,95.0" fill="#86511a" stroke="#86511a" stroke-width="0.4"/>
<polygon points="98.5,95.0 100.7,105.2 104.8,98.3 102.7,88.4" fill="#844f1a" stroke="#844f1a" stroke-width="0.4"/>
<polygon points="102.7,88.4 104.8,98.3 109.0,91.4 106.9,81.8" fill="#834d1c" stroke="#834d1c" stroke-width="0.4"/>
<polygon points="106.9,81.8 109.0,91.4 113.2,84.5 111.1,75.1" fill="#824c1c" stroke="#824c1c" stroke-width="0.4"/>
<polygon points="111.1,75.1 113.2,84.5 117.3,77.6 115.3,68.5" fill="#824c1c" stroke="#824c1c" stroke-width="0.4"/>
<polygon points="115.3,68.5 117.3,77.6 121.5,70.7 119.5,61.8" fill="#824c1c" stroke="#824c1c" stroke-width="0.4"/>
<polygon points="119.5,61.8 121.5,70.7 125.7,63.8 123.8,55.2" fill="#824c1c" stroke="#824c1c" stroke-width="0.4"/>
<polygon points="123.8,55.2 125.7,63.8 129.8,56.9 128.0,48.5" fill="#824c1c" stroke="#824c1c" stroke-width="0.4"/>
<polygon points="128.0,48.5 129.8,56.9 134.0,50.0 132.2,41.9" fill="#824c1c" stroke="#824c1c" stroke-width="0.4"/>
<polygon points="84.0,132.8 88.0,144.0 92.1,136.8 88.2,125.9" fill="#956d16" stroke="#956d16" stroke-width="0.4"/>
<polygon points="88.2,125.9 92.1,136.8 96.2,129.7 92.3,119.0" fill="#946a17" stroke="#946a17" stroke-width="0.4"/>
<polygon points="92.3,119.0 96.2,129.7 100.2,122.5 96.5,112.1" fill="#926818" stroke="#926818" stroke-width="0.4"/>
<polygon points="96.5,112.1 100.2,122.5 104.3,115.3 100.7,105.2" fill="#906618" stroke="#906618" stroke-width="0.4"/>
<polygon points="100.7,105.2 104.3,115.3 108.4,108.2 104.8,98.3" fill="#8e6419" stroke="#8e6419" stroke-width="0.4"/>
<polygon points="104.8,98.3 108.4,108.2 112.5,101.0 109.0,91.4" fill="#8d611a" stroke="#8d611a" stroke-width="0.4"/>
<polygon points="109.0,91.4 112.5,101.0 116.6,93.8 113.2,84.5" fill="#8c601a" stroke="#8c601a" stroke-width="0.4"/>
<polygon points="113.2,84.5 116.6,93.8 120.7,86.7 117.3,77.6" fill="#8c601a" stroke="#8c601a" stroke-width="0.4"/>
<polygon points="117.3,77.6 120.7,86.7 124.8,79.5 121.5,70.7" fill="#8c601a" stroke="#8c601a" stroke-width="0.4"/>
<polygon points="121.5,70.7 124.8,79.5 128.8,72.3 125.7,63.8" fill="#8c601a" stroke="#8c601a" stroke-width="0.4"/>
<polygon points="125.7,63.8 128.8,72.3 132.9,65.2 129.8,56.9" fill="#8c601a" stroke="#8c601a" stroke-width="0.4"/>
<polygon points="129.8,56.9 132.9,65.2 137.0,58.0 134.0,50.0" fill="#8c601a" stroke="#8c601a" stroke-width="0.4"/>
<polygon points="60.0,112.0 62.8,112.0 67.4,105.7 64.7,105.7" fill="#ec8050" stroke="#ec8050" stroke-width="0.4"/>
<polygon points="64.7,105.7 67.4,105.7 72.0,99.3 69.3,99.3" fill="#eb7d56" stroke="#eb7d56" stroke-width="0.4"/>
<polygon points="69.3,99.3 72.0,99.3 76.6,93.0 74.0,93.0" fill="#e87761" stroke="#e87761" stroke-width="0.4"/>
<polygon points="74.0,93.0 76.6,93.0 81.2,86.6 78.7,86.7" fill="#e6716c" stroke="#e6716c" stroke-width="0.4"/>
<polygon points="78.7,86.7 81.2,86.6 85.8,80.3 83.3,80.3" fill="#e36b76" stroke="#e36b76" stroke-width="0.4"/>
<polygon points="83.3,80.3 85.8,80.3 90.5,73.9 88.0,74.0" fill="#e16681" stroke="#e16681" stroke-width="0.4"/>
<polygon points="88.0,74.0 90.5,73.9 95.1,67.6 92.7,67.7" fill="#e06484" stroke="#e06484" stroke-width="0.4"/>
<polygon points="92.7,67.7 95.1,67.6 99.7,61.2 97.3,61.3" fill="#e06484" stroke="#e06484" stroke-width="0.4"/>
<polygon points="97.3,61.3 99.7,61.2 104.3,54.9 102.0,55.0" fill="#e06484" stroke="#e06484" stroke-width="0.4"/>
<polygon points="102.0,55.0 104.3,54.9 108.9,48.5 106.7,48.7" fill="#e06484" stroke="#e06484" stroke-width="0.4"/>
<polygon points="106.7,48.7 108.9,48.5 113.5,42.2 111.3,42.3" fill="#e06484" stroke="#e06484" stroke-width="0.4"/>
<polygon points="111.3,42.3 113.5,42.2 118.1,35.9 116.0,36.0" fill="#dc6267" stroke="#dc6267" stroke-width="0.4"/>
<polygon points="62.8,112.0 70.0,112.0 74.5,105.6 67.4,105.7" fill="#e87648" stroke="#e87648" stroke-width="0.4"/>
<polygon points="67.4,105.7 74.5,105.6 78.9,99.2 72.0,99.3" fill="#e5714e" stroke="#e5714e" stroke-width="0.4"/>
<polygon points="72.0,99.3 78.9,99.2 83.4,92.9 76.6,93.0" fill="#e06958" stroke="#e06958" stroke-width="0.4"/>
<polygon points="76.6,93.0 83.4,92.9 87.8,86.5 81.2,86.6" fill="#db6062" stroke="#db6062" stroke-width="0.4"/>
<polygon points="81.2,86.6 87.8,86.5 92.3,80.1 85.8,80.3" fill="#d6576d" stroke="#d6576d" stroke-width="0.4"/>
<polygon points="85.8,80.3 92.3,80.1 96.8,73.8 90.5,73.9" fill="#d14e77" stroke="#d14e77" stroke-width="0.4"/>
<polygon points="90.5,73.9 96.8,73.8 101.2,67.4 95.1,67.6" fill="#d04c7a" stroke="#d04c7a" stroke-width="0.4"/>
<polygon points="95.1,67.6 101.2,67.4 105.7,61.0 99.7,61.2" fill="#d04c7a" stroke="#d04c7a" stroke-width="0.4"/>
<polygon points="99.7,61.2 105.7,61.0 110.1,54.6 104.3,54.9" fill="#d04c7a" stroke="#d04c7a" stroke-width="0.4"/>
<polygon points="104.3,54.9 110.1,54.6 114.6,48.2 108.9,48.5" fill="#d04c7a" stroke="#d04c7a" stroke-width="0.4"/>
<polygon points="108.9,48.5 114.6,48.2 119.0,41.9 113.5,42.2" fill="#d04c7a" stroke="#d04c7a" stroke-width="0.4"/>
<polygon points="113.5,42.2 119.0,41.9 123.5,35.5 118.1,35.9" fill="#d25461" stroke="#d25461" stroke-width="0.4"/>
<polygon points="70.0,112.0 74.4,112.0 78.8,105.6 74.5,105.6" fill="#ce6234" stroke="#ce6234" stroke-width="0.4"/>
<polygon points="74.5,105.6 78.8,105.6 83.1,99.2 78.9,99.2" fill="#cc5e39" stroke="#cc5e39" stroke-width="0.4"/>
<polygon points="78.9,99.2 83.1,99.2 87.5,92.8 83.4,92.9" fill="#c85743" stroke="#c85743" stroke-width="0.4"/>
<polygon points="83.4,92.9 87.5,92.8 91.9,86.4 87.8,86.5" fill="#c3504d" stroke="#c3504d" stroke-width="0.4"/>
<polygon points="87.8,86.5 91.9,86.4 96.2,80.0 92.3,80.1" fill="#bf4957" stroke="#bf4957" stroke-width="0.4"/>
<polygon points="92.3,80.1 96.2,80.0 100.6,73.6 96.8,73.8" fill="#bb4261" stroke="#bb4261" stroke-width="0.4"/>
<polygon points="96.8,73.8 100.6,73.6 105.0,67.2 101.2,67.4" fill="#ba4064" stroke="#ba4064" stroke-width="0.4"/>
<polygon points="101.2,67.4 105.0,67.2 109.3,60.9 105.7,61.0" fill="#ba4064" stroke="#ba4064" stroke-width="0.4"/>
<polygon points="105.7,61.0 109.3,60.9 113.7,54.5 110.1,54.6" fill="#ba4064" stroke="#ba4064" stroke-width="0.4"/>
<polygon points="110.1,54.6 113.7,54.5 118.1,48.1 114.6,48.2" fill="#ba4064" stroke="#ba4064" stroke-width="0.4"/>
<polygon points="114.6,48.2 118.1,48.1 122.4,41.7 119.0,41.9" fill="#ba4064" stroke="#ba4064" stroke-width="0.4"/>
<polygon points="119.0,41.9 122.4,41.7 126.8,35.3 123.5,35.5" fill="#c54d54" stroke="#c54d54" stroke-width="0.4"/>
<polygon points="74.4,112.0 80.0,112.0 84.2,105.6 78.8,105.6" fill="#b05424" stroke="#b05424" stroke-width="0.4"/>
<polygon points="78.8,105.6 84.2,105.6 88.5,99.2 83.1,99.2" fill="#ae5228" stroke="#ae5228" stroke-width="0.4"/>
<polygon points="83.1,99.2 88.5,99.2 92.8,92.8 87.5,92.8" fill="#ab4d2f" stroke="#ab4d2f" stroke-width="0.4"/>
<polygon points="87.5,92.8 92.8,92.8 97.0,86.3 91.9,86.4" fill="#a84836" stroke="#a84836" stroke-width="0.4"/>
<polygon points="91.9,86.4 97.0,86.3 101.2,79.9 96.2,80.0" fill="#a4443d" stroke="#a4443d" stroke-width="0.4"/>
<polygon points="96.2,80.0 101.2,79.9 105.5,73.5 100.6,73.6" fill="#a13f44" stroke="#a13f44" stroke-width="0.4"/>
<polygon points="100.6,73.6 105.5,73.5 109.8,67.1 105.0,67.2" fill="#a03e46" stroke="#a03e46" stroke-width="0.4"/>
<polygon points="105.0,67.2 109.8,67.1 114.0,60.7 109.3,60.9" fill="#a03e46" stroke="#a03e46" stroke-width="0.4"/>
<polygon points="109.3,60.9 114.0,60.7 118.2,54.2 113.7,54.5" fill="#a03e46" stroke="#a03e46" stroke-width="0.4"/>
<polygon points="113.7,54.5 118.2,54.2 122.5,47.8 118.1,48.1" fill="#a03e46" stroke="#a03e46" stroke-width="0.4"/>
<polygon points="118.1,48.1 122.5,47.8 126.8,41.4 122.4,41.7" fill="#a03e46" stroke="#a03e46" stroke-width="0.4"/>
<polygon points="122.4,41.7 126.8,41.4 131.0,35.0 126.8,35.3" fill="#b64c42" stroke="#b64c42" stroke-width="0.4"/>
<path d="M116.0,38.0 C117.0,34.0 119.5,33.0 123.5,33.3 C128.5,33.5 131.0,33.5 132.2,38.0 L129.0,38.0 L118.0,39.0 Z" fill="#c95a6a"/>
<polygon points="118.0,147.5 126.5,150.5 129.5,143.0 121.5,140.1" fill="#d4bc1c" stroke="#d4bc1c" stroke-width="0.4"/>
<polygon points="121.5,140.1 129.5,143.0 132.6,135.4 125.0,132.8" fill="#b79919" stroke="#b79919" stroke-width="0.4"/>
<polygon points="125.0,132.8 132.6,135.4 135.6,127.9 128.5,125.4" fill="#9a7616" stroke="#9a7616" stroke-width="0.4"/>
<polygon points="128.5,125.4 135.6,127.9 138.6,120.3 132.0,118.0" fill="#8c6414" stroke="#8c6414" stroke-width="0.4"/>
<polygon points="132.0,118.0 138.6,120.3 141.7,112.8 135.5,110.6" fill="#8c6414" stroke="#8c6414" stroke-width="0.4"/>
<polygon points="135.5,110.6 141.7,112.8 144.7,105.2 139.0,103.2" fill="#8c6414" stroke="#8c6414" stroke-width="0.4"/>
<polygon points="139.0,103.2 144.7,105.2 147.7,97.7 142.5,95.9" fill="#8c6414" stroke="#8c6414" stroke-width="0.4"/>
<polygon points="142.5,95.9 147.7,97.7 150.8,90.2 146.0,88.5" fill="#8c6414" stroke="#8c6414" stroke-width="0.4"/>
<polygon points="146.0,88.5 150.8,90.2 153.8,82.6 149.5,81.1" fill="#8c6414" stroke="#8c6414" stroke-width="0.4"/>
<polygon points="149.5,81.1 153.8,82.6 156.8,75.1 153.0,73.8" fill="#8c6414" stroke="#8c6414" stroke-width="0.4"/>
<polygon points="153.0,73.8 156.8,75.1 159.9,67.5 156.5,66.4" fill="#8c6414" stroke="#8c6414" stroke-width="0.4"/>
<polygon points="156.5,66.4 159.9,67.5 162.9,60.0 160.0,59.0" fill="#8c6414" stroke="#8c6414" stroke-width="0.4"/>
<polygon points="113.0,120.0 114.0,128.2 117.4,121.1 116.4,113.0" fill="#9f4f20" stroke="#9f4f20" stroke-width="0.4"/>
<polygon points="116.4,113.0 117.4,121.1 120.9,114.0 119.8,105.9" fill="#9c4c24" stroke="#9c4c24" stroke-width="0.4"/>
<polygon points="119.8,105.9 120.9,114.0 124.3,106.8 123.2,98.9" fill="#9a4927" stroke="#9a4927" stroke-width="0.4"/>
<polygon points="123.2,98.9 124.3,106.8 127.7,99.7 126.7,91.8" fill="#98472b" stroke="#98472b" stroke-width="0.4"/>
<polygon points="126.7,91.8 127.7,99.7 131.2,92.5 130.1,84.8" fill="#96442e" stroke="#96442e" stroke-width="0.4"/>
<polygon points="130.1,84.8 131.2,92.5 134.6,85.4 133.5,77.8" fill="#934132" stroke="#934132" stroke-width="0.4"/>
<polygon points="133.5,77.8 134.6,85.4 138.0,78.3 136.9,70.7" fill="#924034" stroke="#924034" stroke-width="0.4"/>
<polygon points="136.9,70.7 138.0,78.3 141.5,71.1 140.3,63.7" fill="#924034" stroke="#924034" stroke-width="0.4"/>
<polygon points="140.3,63.7 141.5,71.1 144.9,64.0 143.8,56.6" fill="#924034" stroke="#924034" stroke-width="0.4"/>
<polygon points="143.8,56.6 144.9,64.0 148.3,56.8 147.2,49.6" fill="#924034" stroke="#924034" stroke-width="0.4"/>
<polygon points="147.2,49.6 148.3,56.8 151.8,49.7 150.6,42.5" fill="#924034" stroke="#924034" stroke-width="0.4"/>
<polygon points="150.6,42.5 151.8,49.7 155.2,42.5 154.0,35.5" fill="#924034" stroke="#924034" stroke-width="0.4"/>
<polygon points="114.0,128.2 115.5,137.9 119.0,130.6 117.4,121.1" fill="#8b5716" stroke="#8b5716" stroke-width="0.4"/>
<polygon points="117.4,121.1 119.0,130.6 122.4,123.4 120.9,114.0" fill="#8a5518" stroke="#8a5518" stroke-width="0.4"/>
<polygon points="120.9,114.0 122.4,123.4 125.9,116.1 124.3,106.8" fill="#885318" stroke="#885318" stroke-width="0.4"/>
<polygon points="124.3,106.8 125.9,116.1 129.3,108.8 127.7,99.7" fill="#86511a" stroke="#86511a" stroke-width="0.4"/>
<polygon points="127.7,99.7 129.3,108.8 132.8,101.6 131.2,92.5" fill="#844f1a" stroke="#844f1a" stroke-width="0.4"/>
<polygon points="131.2,92.5 132.8,101.6 136.2,94.3 134.6,85.4" fill="#834d1c" stroke="#834d1c" stroke-width="0.4"/>
<polygon points="134.6,85.4 136.2,94.3 139.7,87.1 138.0,78.3" fill="#824c1c" stroke="#824c1c" stroke-width="0.4"/>
<polygon points="138.0,78.3 139.7,87.1 143.2,79.8 141.5,71.1" fill="#824c1c" stroke="#824c1c" stroke-width="0.4"/>
<polygon points="141.5,71.1 143.2,79.8 146.6,72.5 144.9,64.0" fill="#824c1c" stroke="#824c1c" stroke-width="0.4"/>
<polygon points="144.9,64.0 146.6,72.5 150.1,65.3 148.3,56.8" fill="#824c1c" stroke="#824c1c" stroke-width="0.4"/>
<polygon points="148.3,56.8 150.1,65.3 153.5,58.0 151.8,49.7" fill="#824c1c" stroke="#824c1c" stroke-width="0.4"/>
<polygon points="151.8,49.7 153.5,58.0 157.0,50.8 155.2,42.5" fill="#824c1c" stroke="#824c1c" stroke-width="0.4"/>
<polygon points="115.5,137.9 118.0,147.5 121.5,140.1 119.0,130.6" fill="#956d16" stroke="#956d16" stroke-width="0.4"/>
<polygon points="119.0,130.6 121.5,140.1 125.0,132.8 122.4,123.4" fill="#946a17" stroke="#946a17" stroke-width="0.4"/>
<polygon points="122.4,123.4 125.0,132.8 128.5,125.4 125.9,116.1" fill="#926818" stroke="#926818" stroke-width="0.4"/>
<polygon points="125.9,116.1 128.5,125.4 132.0,118.0 129.3,108.8" fill="#906618" stroke="#906618" stroke-width="0.4"/>
<polygon points="129.3,108.8 132.0,118.0 135.5,110.6 132.8,101.6" fill="#8e6419" stroke="#8e6419" stroke-width="0.4"/>
<polygon points="132.8,101.6 135.5,110.6 139.0,103.2 136.2,94.3" fill="#8d611a" stroke="#8d611a" stroke-width="0.4"/>
<polygon points="136.2,94.3 139.0,103.2 142.5,95.9 139.7,87.1" fill="#8c601a" stroke="#8c601a" stroke-width="0.4"/>
<polygon points="139.7,87.1 142.5,95.9 146.0,88.5 143.2,79.8" fill="#8c601a" stroke="#8c601a" stroke-width="0.4"/>
<polygon points="143.2,79.8 146.0,88.5 149.5,81.1 146.6,72.5" fill="#8c601a" stroke="#8c601a" stroke-width="0.4"/>
<polygon points="146.6,72.5 149.5,81.1 153.0,73.8 150.1,65.3" fill="#8c601a" stroke="#8c601a" stroke-width="0.4"/>
<polygon points="150.1,65.3 153.0,73.8 156.5,66.4 153.5,58.0" fill="#8c601a" stroke="#8c601a" stroke-width="0.4"/>
<polygon points="153.5,58.0 156.5,66.4 160.0,59.0 157.0,50.8" fill="#8c601a" stroke="#8c601a" stroke-width="0.4"/>
<polygon points="92.0,118.7 94.9,118.9 98.8,112.0 95.9,111.9" fill="#ec8050" stroke="#ec8050" stroke-width="0.4"/>
<polygon points="95.9,111.9 98.8,112.0 102.6,105.1 99.8,105.0" fill="#eb7d56" stroke="#eb7d56" stroke-width="0.4"/>
<polygon points="99.8,105.0 102.6,105.1 106.5,98.3 103.8,98.2" fill="#e87761" stroke="#e87761" stroke-width="0.4"/>
<polygon points="103.8,98.2 106.5,98.3 110.3,91.4 107.7,91.3" fill="#e6716c" stroke="#e6716c" stroke-width="0.4"/>
<polygon points="107.7,91.3 110.3,91.4 114.2,84.5 111.6,84.5" fill="#e36b76" stroke="#e36b76" stroke-width="0.4"/>
<polygon points="111.6,84.5 114.2,84.5 118.0,77.6 115.5,77.6" fill="#e16681" stroke="#e16681" stroke-width="0.4"/>
<polygon points="115.5,77.6 118.0,77.6 121.9,70.7 119.4,70.8" fill="#e06484" stroke="#e06484" stroke-width="0.4"/>
<polygon points="119.4,70.8 121.9,70.7 125.7,63.9 123.3,63.9" fill="#e06484" stroke="#e06484" stroke-width="0.4"/>
<polygon points="123.3,63.9 125.7,63.9 129.6,57.0 127.2,57.0" fill="#e06484" stroke="#e06484" stroke-width="0.4"/>
<polygon points="127.2,57.0 129.6,57.0 133.4,50.1 131.2,50.2" fill="#e06484" stroke="#e06484" stroke-width="0.4"/>
<polygon points="131.2,50.2 133.4,50.1 137.3,43.2 135.1,43.4" fill="#e06484" stroke="#e06484" stroke-width="0.4"/>
<polygon points="135.1,43.4 137.3,43.2 141.1,36.4 139.0,36.5" fill="#dc6267" stroke="#dc6267" stroke-width="0.4"/>
<polygon points="94.9,118.9 102.5,119.3 106.2,112.4 98.8,112.0" fill="#e87648" stroke="#e87648" stroke-width="0.4"/>
<polygon points="98.8,112.0 106.2,112.4 109.8,105.5 102.6,105.1" fill="#e5714e" stroke="#e5714e" stroke-width="0.4"/>
<polygon points="102.6,105.1 109.8,105.5 113.5,98.5 106.5,98.3" fill="#e06958" stroke="#e06958" stroke-width="0.4"/>
<polygon points="106.5,98.3 113.5,98.5 117.2,91.6 110.3,91.4" fill="#db6062" stroke="#db6062" stroke-width="0.4"/>
<polygon points="110.3,91.4 117.2,91.6 120.8,84.6 114.2,84.5" fill="#d6576d" stroke="#d6576d" stroke-width="0.4"/>
<polygon points="114.2,84.5 120.8,84.6 124.5,77.7 118.0,77.6" fill="#d14e77" stroke="#d14e77" stroke-width="0.4"/>
<polygon points="118.0,77.6 124.5,77.7 128.2,70.7 121.9,70.7" fill="#d04c7a" stroke="#d04c7a" stroke-width="0.4"/>
<polygon points="121.9,70.7 128.2,70.7 131.8,63.8 125.7,63.9" fill="#d04c7a" stroke="#d04c7a" stroke-width="0.4"/>
<polygon points="125.7,63.9 131.8,63.8 135.5,56.8 129.6,57.0" fill="#d04c7a" stroke="#d04c7a" stroke-width="0.4"/>
<polygon points="129.6,57.0 135.5,56.8 139.2,49.9 133.4,50.1" fill="#d04c7a" stroke="#d04c7a" stroke-width="0.4"/>
<polygon points="133.4,50.1 139.2,49.9 142.8,42.9 137.3,43.2" fill="#d04c7a" stroke="#d04c7a" stroke-width="0.4"/>
<polygon points="137.3,43.2 142.8,42.9 146.5,36.0 141.1,36.4" fill="#d25461" stroke="#d25461" stroke-width="0.4"/>
<polygon points="102.5,119.3 107.1,119.6 110.7,112.6 106.2,112.4" fill="#ce6234" stroke="#ce6234" stroke-width="0.4"/>
<polygon points="106.2,112.4 110.7,112.6 114.2,105.7 109.8,105.5" fill="#cc5e39" stroke="#cc5e39" stroke-width="0.4"/>
<polygon points="109.8,105.5 114.2,105.7 117.8,98.7 113.5,98.5" fill="#c85743" stroke="#c85743" stroke-width="0.4"/>
<polygon points="113.5,98.5 117.8,98.7 121.3,91.7 117.2,91.6" fill="#c3504d" stroke="#c3504d" stroke-width="0.4"/>
<polygon points="117.2,91.6 121.3,91.7 124.9,84.7 120.8,84.6" fill="#bf4957" stroke="#bf4957" stroke-width="0.4"/>
<polygon points="120.8,84.6 124.9,84.7 128.5,77.7 124.5,77.7" fill="#bb4261" stroke="#bb4261" stroke-width="0.4"/>
<polygon points="124.5,77.7 128.5,77.7 132.0,70.7 128.2,70.7" fill="#ba4064" stroke="#ba4064" stroke-width="0.4"/>
<polygon points="128.2,70.7 132.0,70.7 135.6,63.7 131.8,63.8" fill="#ba4064" stroke="#ba4064" stroke-width="0.4"/>
<polygon points="131.8,63.8 135.6,63.7 139.1,56.7 135.5,56.8" fill="#ba4064" stroke="#ba4064" stroke-width="0.4"/>
<polygon points="135.5,56.8 139.1,56.7 142.7,49.8 139.2,49.9" fill="#ba4064" stroke="#ba4064" stroke-width="0.4"/>
<polygon points="139.2,49.9 142.7,49.8 146.2,42.8 142.8,42.9" fill="#ba4064" stroke="#ba4064" stroke-width="0.4"/>
<polygon points="142.8,42.9 146.2,42.8 149.8,35.8 146.5,36.0" fill="#c54d54" stroke="#c54d54" stroke-width="0.4"/>
<polygon points="107.1,119.6 113.0,120.0 116.4,113.0 110.7,112.6" fill="#b05424" stroke="#b05424" stroke-width="0.4"/>
<polygon points="110.7,112.6 116.4,113.0 119.8,105.9 114.2,105.7" fill="#ae5228" stroke="#ae5228" stroke-width="0.4"/>
<polygon points="114.2,105.7 119.8,105.9 123.2,98.9 117.8,98.7" fill="#ab4d2f" stroke="#ab4d2f" stroke-width="0.4"/>
<polygon points="117.8,98.7 123.2,98.9 126.7,91.8 121.3,91.7" fill="#a84836" stroke="#a84836" stroke-width="0.4"/>
<polygon points="121.3,91.7 126.7,91.8 130.1,84.8 124.9,84.7" fill="#a4443d" stroke="#a4443d" stroke-width="0.4"/>
<polygon points="124.9,84.7 130.1,84.8 133.5,77.8 128.5,77.7" fill="#a13f44" stroke="#a13f44" stroke-width="0.4"/>
<polygon points="128.5,77.7 133.5,77.8 136.9,70.7 132.0,70.7" fill="#a03e46" stroke="#a03e46" stroke-width="0.4"/>
<polygon points="132.0,70.7 136.9,70.7 140.3,63.7 135.6,63.7" fill="#a03e46" stroke="#a03e46" stroke-width="0.4"/>
<polygon points="135.6,63.7 140.3,63.7 143.8,56.6 139.1,56.7" fill="#a03e46" stroke="#a03e46" stroke-width="0.4"/>
<polygon points="139.1,56.7 143.8,56.6 147.2,49.6 142.7,49.8" fill="#a03e46" stroke="#a03e46" stroke-width="0.4"/>
<polygon points="142.7,49.8 147.2,49.6 150.6,42.5 146.2,42.8" fill="#a03e46" stroke="#a03e46" stroke-width="0.4"/>
<polygon points="146.2,42.8 150.6,42.5 154.0,35.5 149.8,35.8" fill="#b64c42" stroke="#b64c42" stroke-width="0.4"/>
<path d="M139.0,38.5 C140.0,34.5 142.5,33.5 146.5,33.8 C151.5,34.0 154.0,34.0 155.2,38.5 L152.0,38.5 L141.0,39.5 Z" fill="#c95a6a"/>
<polygon points="151.0,151.0 159.0,155.5 161.3,147.8 153.7,143.5" fill="#d4bc1c" stroke="#d4bc1c" stroke-width="0.4"/>
<polygon points="153.7,143.5 161.3,147.8 163.6,140.0 156.3,136.0" fill="#b79919" stroke="#b79919" stroke-width="0.4"/>
<polygon points="156.3,136.0 163.6,140.0 165.9,132.2 159.0,128.5" fill="#9a7616" stroke="#9a7616" stroke-width="0.4"/>
<polygon points="159.0,128.5 165.9,132.2 168.2,124.5 161.7,121.0" fill="#8c6414" stroke="#8c6414" stroke-width="0.4"/>
<polygon points="161.7,121.0 168.2,124.5 170.5,116.8 164.3,113.5" fill="#8c6414" stroke="#8c6414" stroke-width="0.4"/>
<polygon points="164.3,113.5 170.5,116.8 172.8,109.0 167.0,106.0" fill="#8c6414" stroke="#8c6414" stroke-width="0.4"/>
<polygon points="167.0,106.0 172.8,109.0 175.1,101.2 169.7,98.5" fill="#8c6414" stroke="#8c6414" stroke-width="0.4"/>
<polygon points="169.7,98.5 175.1,101.2 177.4,93.5 172.3,91.0" fill="#8c6414" stroke="#8c6414" stroke-width="0.4"/>
<polygon points="172.3,91.0 177.4,93.5 179.7,85.8 175.0,83.5" fill="#8c6414" stroke="#8c6414" stroke-width="0.4"/>
<polygon points="175.0,83.5 179.7,85.8 182.0,78.0 177.7,76.0" fill="#8c6414" stroke="#8c6414" stroke-width="0.4"/>
<polygon points="177.7,76.0 182.0,78.0 184.3,70.2 180.3,68.5" fill="#8c6414" stroke="#8c6414" stroke-width="0.4"/>
<polygon points="180.3,68.5 184.3,70.2 186.6,62.5 183.0,61.0" fill="#8c6414" stroke="#8c6414" stroke-width="0.4"/>
<polygon points="145.0,123.5 146.2,131.8 148.9,124.5 147.7,116.3" fill="#9f4f20" stroke="#9f4f20" stroke-width="0.4"/>
<polygon points="147.7,116.3 148.9,124.5 151.5,117.2 150.3,109.1" fill="#9c4c24" stroke="#9c4c24" stroke-width="0.4"/>
<polygon points="150.3,109.1 151.5,117.2 154.2,109.9 153.0,102.0" fill="#9a4927" stroke="#9a4927" stroke-width="0.4"/>
<polygon points="153.0,102.0 154.2,109.9 156.9,102.6 155.7,94.8" fill="#98472b" stroke="#98472b" stroke-width="0.4"/>
<polygon points="155.7,94.8 156.9,102.6 159.5,95.4 158.3,87.6" fill="#96442e" stroke="#96442e" stroke-width="0.4"/>
<polygon points="158.3,87.6 159.5,95.4 162.2,88.1 161.0,80.4" fill="#934132" stroke="#934132" stroke-width="0.4"/>
<polygon points="161.0,80.4 162.2,88.1 164.9,80.8 163.7,73.2" fill="#924034" stroke="#924034" stroke-width="0.4"/>
<polygon points="163.7,73.2 164.9,80.8 167.5,73.5 166.3,66.0" fill="#924034" stroke="#924034" stroke-width="0.4"/>
<polygon points="166.3,66.0 167.5,73.5 170.2,66.2 169.0,58.8" fill="#924034" stroke="#924034" stroke-width="0.4"/>
<polygon points="169.0,58.8 170.2,66.2 172.9,59.0 171.7,51.7" fill="#924034" stroke="#924034" stroke-width="0.4"/>
<polygon points="171.7,51.7 172.9,59.0 175.5,51.7 174.3,44.5" fill="#924034" stroke="#924034" stroke-width="0.4"/>
<polygon points="174.3,44.5 175.5,51.7 178.2,44.4 177.0,37.3" fill="#924034" stroke="#924034" stroke-width="0.4"/>
<polygon points="146.2,131.8 148.0,141.4 150.7,134.0 148.9,124.5" fill="#8b5716" stroke="#8b5716" stroke-width="0.4"/>
<polygon points="148.9,124.5 150.7,134.0 153.3,126.6 151.5,117.2" fill="#8a5518" stroke="#8a5518" stroke-width="0.4"/>
<polygon points="151.5,117.2 153.3,126.6 156.0,119.2 154.2,109.9" fill="#885318" stroke="#885318" stroke-width="0.4"/>
<polygon points="154.2,109.9 156.0,119.2 158.7,111.8 156.9,102.6" fill="#86511a" stroke="#86511a" stroke-width="0.4"/>
<polygon points="156.9,102.6 158.7,111.8 161.3,104.4 159.5,95.4" fill="#844f1a" stroke="#844f1a" stroke-width="0.4"/>
<polygon points="159.5,95.4 161.3,104.4 164.0,97.0 162.2,88.1" fill="#834d1c" stroke="#834d1c" stroke-width="0.4"/>
<polygon points="162.2,88.1 164.0,97.0 166.7,89.7 164.9,80.8" fill="#824c1c" stroke="#824c1c" stroke-width="0.4"/>
<polygon points="164.9,80.8 166.7,89.7 169.3,82.3 167.5,73.5" fill="#824c1c" stroke="#824c1c" stroke-width="0.4"/>
<polygon points="167.5,73.5 169.3,82.3 172.0,74.9 170.2,66.2" fill="#824c1c" stroke="#824c1c" stroke-width="0.4"/>
<polygon points="170.2,66.2 172.0,74.9 174.7,67.5 172.9,59.0" fill="#824c1c" stroke="#824c1c" stroke-width="0.4"/>
<polygon points="172.9,59.0 174.7,67.5 177.3,60.1 175.5,51.7" fill="#824c1c" stroke="#824c1c" stroke-width="0.4"/>
<polygon points="175.5,51.7 177.3,60.1 180.0,52.7 178.2,44.4" fill="#824c1c" stroke="#824c1c" stroke-width="0.4"/>
<polygon points="148.0,141.4 151.0,151.0 153.7,143.5 150.7,134.0" fill="#956d16" stroke="#956d16" stroke-width="0.4"/>
<polygon points="150.7,134.0 153.7,143.5 156.3,136.0 153.3,126.6" fill="#946a17" stroke="#946a17" stroke-width="0.4"/>
<polygon points="153.3,126.6 156.3,136.0 159.0,128.5 156.0,119.2" fill="#926818" stroke="#926818" stroke-width="0.4"/>
<polygon points="156.0,119.2 159.0,128.5 161.7,121.0 158.7,111.8" fill="#906618" stroke="#906618" stroke-width="0.4"/>
<polygon points="158.7,111.8 161.7,121.0 164.3,113.5 161.3,104.4" fill="#8e6419" stroke="#8e6419" stroke-width="0.4"/>
<polygon points="161.3,104.4 164.3,113.5 167.0,106.0 164.0,97.0" fill="#8d611a" stroke="#8d611a" stroke-width="0.4"/>
<polygon points="164.0,97.0 167.0,106.0 169.7,98.5 166.7,89.7" fill="#8c601a" stroke="#8c601a" stroke-width="0.4"/>
<polygon points="166.7,89.7 169.7,98.5 172.3,91.0 169.3,82.3" fill="#8c601a" stroke="#8c601a" stroke-width="0.4"/>
<polygon points="169.3,82.3 172.3,91.0 175.0,83.5 172.0,74.9" fill="#8c601a" stroke="#8c601a" stroke-width="0.4"/>
<polygon points="172.0,74.9 175.0,83.5 177.7,76.0 174.7,67.5" fill="#8c601a" stroke="#8c601a" stroke-width="0.4"/>
<polygon points="174.7,67.5 177.7,76.0 180.3,68.5 177.3,60.1" fill="#8c601a" stroke="#8c601a" stroke-width="0.4"/>
<polygon points="177.3,60.1 180.3,68.5 183.0,61.0 180.0,52.7" fill="#8c601a" stroke="#8c601a" stroke-width="0.4"/>
<polygon points="125.0,121.5 127.8,121.8 130.8,114.8 128.1,114.5" fill="#ec8050" stroke="#ec8050" stroke-width="0.4"/>
<polygon points="128.1,114.5 130.8,114.8 133.8,107.8 131.2,107.6" fill="#eb7d56" stroke="#eb7d56" stroke-width="0.4"/>
<polygon points="131.2,107.6 133.8,107.8 136.9,100.8 134.2,100.6" fill="#e87761" stroke="#e87761" stroke-width="0.4"/>
<polygon points="134.2,100.6 136.9,100.8 139.9,93.8 137.3,93.7" fill="#e6716c" stroke="#e6716c" stroke-width="0.4"/>
<polygon points="137.3,93.7 139.9,93.8 142.9,86.8 140.4,86.7" fill="#e36b76" stroke="#e36b76" stroke-width="0.4"/>
<polygon points="140.4,86.7 142.9,86.8 145.9,79.8 143.5,79.8" fill="#e16681" stroke="#e16681" stroke-width="0.4"/>
<polygon points="143.5,79.8 145.9,79.8 149.0,72.9 146.6,72.8" fill="#e06484" stroke="#e06484" stroke-width="0.4"/>
<polygon points="146.6,72.8 149.0,72.9 152.0,65.9 149.7,65.8" fill="#e06484" stroke="#e06484" stroke-width="0.4"/>
<polygon points="149.7,65.8 152.0,65.9 155.0,58.9 152.8,58.9" fill="#e06484" stroke="#e06484" stroke-width="0.4"/>
<polygon points="152.8,58.9 155.0,58.9 158.1,51.9 155.8,51.9" fill="#e06484" stroke="#e06484" stroke-width="0.4"/>
<polygon points="155.8,51.9 158.1,51.9 161.1,44.9 158.9,45.0" fill="#e06484" stroke="#e06484" stroke-width="0.4"/>
<polygon points="158.9,45.0 161.1,44.9 164.1,37.9 162.0,38.0" fill="#dc6267" stroke="#dc6267" stroke-width="0.4"/>
<polygon points="127.8,121.8 135.0,122.5 137.9,115.4 130.8,114.8" fill="#e87648" stroke="#e87648" stroke-width="0.4"/>
<polygon points="130.8,114.8 137.9,115.4 140.8,108.4 133.8,107.8" fill="#e5714e" stroke="#e5714e" stroke-width="0.4"/>
<polygon points="133.8,107.8 140.8,108.4 143.6,101.3 136.9,100.8" fill="#e06958" stroke="#e06958" stroke-width="0.4"/>
<polygon points="136.9,100.8 143.6,101.3 146.5,94.2 139.9,93.8" fill="#db6062" stroke="#db6062" stroke-width="0.4"/>
<polygon points="139.9,93.8 146.5,94.2 149.4,87.1 142.9,86.8" fill="#d6576d" stroke="#d6576d" stroke-width="0.4"/>
<polygon points="142.9,86.8 149.4,87.1 152.2,80.1 145.9,79.8" fill="#d14e77" stroke="#d14e77" stroke-width="0.4"/>
<polygon points="145.9,79.8 152.2,80.1 155.1,73.0 149.0,72.9" fill="#d04c7a" stroke="#d04c7a" stroke-width="0.4"/>
<polygon points="149.0,72.9 155.1,73.0 158.0,65.9 152.0,65.9" fill="#d04c7a" stroke="#d04c7a" stroke-width="0.4"/>
<polygon points="152.0,65.9 158.0,65.9 160.9,58.9 155.0,58.9" fill="#d04c7a" stroke="#d04c7a" stroke-width="0.4"/>
<polygon points="155.0,58.9 160.9,58.9 163.8,51.8 158.1,51.9" fill="#d04c7a" stroke="#d04c7a" stroke-width="0.4"/>
<polygon points="158.1,51.9 163.8,51.8 166.6,44.7 161.1,44.9" fill="#d04c7a" stroke="#d04c7a" stroke-width="0.4"/>
<polygon points="161.1,44.9 166.6,44.7 169.5,37.6 164.1,37.9" fill="#d25461" stroke="#d25461" stroke-width="0.4"/>
<polygon points="135.0,122.5 139.4,122.9 142.2,115.8 137.9,115.4" fill="#ce6234" stroke="#ce6234" stroke-width="0.4"/>
<polygon points="137.9,115.4 142.2,115.8 145.0,108.7 140.8,108.4" fill="#cc5e39" stroke="#cc5e39" stroke-width="0.4"/>
<polygon points="140.8,108.4 145.0,108.7 147.8,101.6 143.6,101.3" fill="#c85743" stroke="#c85743" stroke-width="0.4"/>
<polygon points="143.6,101.3 147.8,101.6 150.5,94.5 146.5,94.2" fill="#c3504d" stroke="#c3504d" stroke-width="0.4"/>
<polygon points="146.5,94.2 150.5,94.5 153.3,87.3 149.4,87.1" fill="#bf4957" stroke="#bf4957" stroke-width="0.4"/>
<polygon points="149.4,87.1 153.3,87.3 156.1,80.2 152.2,80.1" fill="#bb4261" stroke="#bb4261" stroke-width="0.4"/>
<polygon points="152.2,80.1 156.1,80.2 158.9,73.1 155.1,73.0" fill="#ba4064" stroke="#ba4064" stroke-width="0.4"/>
<polygon points="155.1,73.0 158.9,73.1 161.7,66.0 158.0,65.9" fill="#ba4064" stroke="#ba4064" stroke-width="0.4"/>
<polygon points="158.0,65.9 161.7,66.0 164.4,58.9 160.9,58.9" fill="#ba4064" stroke="#ba4064" stroke-width="0.4"/>
<polygon points="160.9,58.9 164.4,58.9 167.2,51.7 163.8,51.8" fill="#ba4064" stroke="#ba4064" stroke-width="0.4"/>
<polygon points="163.8,51.8 167.2,51.7 170.0,44.6 166.6,44.7" fill="#ba4064" stroke="#ba4064" stroke-width="0.4"/>
<polygon points="166.6,44.7 170.0,44.6 172.8,37.5 169.5,37.6" fill="#c54d54" stroke="#c54d54" stroke-width="0.4"/>
<polygon points="139.4,122.9 145.0,123.5 147.7,116.3 142.2,115.8" fill="#b05424" stroke="#b05424" stroke-width="0.4"/>
<polygon points="142.2,115.8 147.7,116.3 150.3,109.1 145.0,108.7" fill="#ae5228" stroke="#ae5228" stroke-width="0.4"/>
<polygon points="145.0,108.7 150.3,109.1 153.0,102.0 147.8,101.6" fill="#ab4d2f" stroke="#ab4d2f" stroke-width="0.4"/>
<polygon points="147.8,101.6 153.0,102.0 155.7,94.8 150.5,94.5" fill="#a84836" stroke="#a84836" stroke-width="0.4"/>
<polygon points="150.5,94.5 155.7,94.8 158.3,87.6 153.3,87.3" fill="#a4443d" stroke="#a4443d" stroke-width="0.4"/>
<polygon points="153.3,87.3 158.3,87.6 161.0,80.4 156.1,80.2" fill="#a13f44" stroke="#a13f44" stroke-width="0.4"/>
<polygon points="156.1,80.2 161.0,80.4 163.7,73.2 158.9,73.1" fill="#a03e46" stroke="#a03e46" stroke-width="0.4"/>
<polygon points="158.9,73.1 163.7,73.2 166.3,66.0 161.7,66.0" fill="#a03e46" stroke="#a03e46" stroke-width="0.4"/>
<polygon points="161.7,66.0 166.3,66.0 169.0,58.8 164.4,58.9" fill="#a03e46" stroke="#a03e46" stroke-width="0.4"/>
<polygon points="164.4,58.9 169.0,58.8 171.7,51.7 167.2,51.7" fill="#a03e46" stroke="#a03e46" stroke-width="0.4"/>
<polygon points="167.2,51.7 171.7,51.7 174.3,44.5 170.0,44.6" fill="#a03e46" stroke="#a03e46" stroke-width="0.4"/>
<polygon points="170.0,44.6 174.3,44.5 177.0,37.3 172.8,37.5" fill="#b64c42" stroke="#b64c42" stroke-width="0.4"/>
<path d="M162.0,40.0 C163.0,36.0 165.5,35.1 169.5,35.4 C174.5,35.6 177.0,35.8 178.2,40.3 L175.0,40.3 L164.0,41.0 Z" fill="#c95a6a"/>
<polygon points="183.0,155.0 192.5,160.0 193.9,152.2 184.8,147.3" fill="#e2d122" stroke="#e2d122" stroke-width="0.4"/>
<polygon points="184.8,147.3 193.9,152.2 195.3,144.3 186.7,139.7" fill="#e0d022" stroke="#e0d022" stroke-width="0.4"/>
<polygon points="186.7,139.7 195.3,144.3 196.7,136.5 188.5,132.0" fill="#e0cf22" stroke="#e0cf22" stroke-width="0.4"/>
<polygon points="188.5,132.0 196.7,136.5 198.1,128.7 190.3,124.3" fill="#dece23" stroke="#dece23" stroke-width="0.4"/>
<polygon points="190.3,124.3 198.1,128.7 199.5,120.8 192.2,116.7" fill="#decd23" stroke="#decd23" stroke-width="0.4"/>
<polygon points="192.2,116.7 199.5,120.8 200.9,113.0 194.0,109.0" fill="#dccc23" stroke="#dccc23" stroke-width="0.4"/>
<polygon points="194.0,109.0 200.9,113.0 202.3,105.2 195.8,101.3" fill="#dcca23" stroke="#dcca23" stroke-width="0.4"/>
<polygon points="195.8,101.3 202.3,105.2 203.7,97.3 197.7,93.7" fill="#dac923" stroke="#dac923" stroke-width="0.4"/>
<polygon points="197.7,93.7 203.7,97.3 205.1,89.5 199.5,86.0" fill="#dac823" stroke="#dac823" stroke-width="0.4"/>
<polygon points="199.5,86.0 205.1,89.5 206.5,81.7 201.3,78.3" fill="#d8c724" stroke="#d8c724" stroke-width="0.4"/>
<polygon points="201.3,78.3 206.5,81.7 207.9,73.8 203.2,70.7" fill="#d8c624" stroke="#d8c624" stroke-width="0.4"/>
<polygon points="203.2,70.7 207.9,73.8 209.3,66.0 205.0,63.0" fill="#d6c524" stroke="#d6c524" stroke-width="0.4"/>
<polygon points="181.0,128.0 181.4,136.1 183.0,128.6 182.6,120.6" fill="#9f4f20" stroke="#9f4f20" stroke-width="0.4"/>
<polygon points="182.6,120.6 183.0,128.6 184.7,121.1 184.2,113.2" fill="#9c4c24" stroke="#9c4c24" stroke-width="0.4"/>
<polygon points="184.2,113.2 184.7,121.1 186.3,113.6 185.8,105.8" fill="#9a4927" stroke="#9a4927" stroke-width="0.4"/>
<polygon points="185.8,105.8 186.3,113.6 187.9,106.1 187.3,98.3" fill="#98472b" stroke="#98472b" stroke-width="0.4"/>
<polygon points="187.3,98.3 187.9,106.1 189.6,98.6 188.9,90.9" fill="#96442e" stroke="#96442e" stroke-width="0.4"/>
<polygon points="188.9,90.9 189.6,98.6 191.2,91.2 190.5,83.5" fill="#934132" stroke="#934132" stroke-width="0.4"/>
<polygon points="190.5,83.5 191.2,91.2 192.8,83.7 192.1,76.1" fill="#924034" stroke="#924034" stroke-width="0.4"/>
<polygon points="192.1,76.1 192.8,83.7 194.5,76.2 193.7,68.7" fill="#924034" stroke="#924034" stroke-width="0.4"/>
<polygon points="193.7,68.7 194.5,76.2 196.1,68.7 195.2,61.2" fill="#924034" stroke="#924034" stroke-width="0.4"/>
<polygon points="195.2,61.2 196.1,68.7 197.7,61.2 196.8,53.8" fill="#924034" stroke="#924034" stroke-width="0.4"/>
<polygon points="196.8,53.8 197.7,61.2 199.4,53.7 198.4,46.4" fill="#924034" stroke="#924034" stroke-width="0.4"/>
<polygon points="198.4,46.4 199.4,53.7 201.0,46.2 200.0,39.0" fill="#924034" stroke="#924034" stroke-width="0.4"/>
<polygon points="181.4,136.1 182.0,145.6 183.7,138.0 183.0,128.6" fill="#8b5716" stroke="#8b5716" stroke-width="0.4"/>
<polygon points="183.0,128.6 183.7,138.0 185.4,130.4 184.7,121.1" fill="#8a5518" stroke="#8a5518" stroke-width="0.4"/>
<polygon points="184.7,121.1 185.4,130.4 187.1,122.8 186.3,113.6" fill="#885318" stroke="#885318" stroke-width="0.4"/>
<polygon points="186.3,113.6 187.1,122.8 188.8,115.2 187.9,106.1" fill="#86511a" stroke="#86511a" stroke-width="0.4"/>
<polygon points="187.9,106.1 188.8,115.2 190.5,107.7 189.6,98.6" fill="#844f1a" stroke="#844f1a" stroke-width="0.4"/>
<polygon points="189.6,98.6 190.5,107.7 192.2,100.1 191.2,91.2" fill="#834d1c" stroke="#834d1c" stroke-width="0.4"/>
<polygon points="191.2,91.2 192.2,100.1 194.0,92.5 192.8,83.7" fill="#824c1c" stroke="#824c1c" stroke-width="0.4"/>
<polygon points="192.8,83.7 194.0,92.5 195.7,84.9 194.5,76.2" fill="#824c1c" stroke="#824c1c" stroke-width="0.4"/>
<polygon points="194.5,76.2 195.7,84.9 197.4,77.3 196.1,68.7" fill="#824c1c" stroke="#824c1c" stroke-width="0.4"/>
<polygon points="196.1,68.7 197.4,77.3 199.1,69.8 197.7,61.2" fill="#824c1c" stroke="#824c1c" stroke-width="0.4"/>
<polygon points="197.7,61.2 199.1,69.8 200.8,62.2 199.4,53.7" fill="#824c1c" stroke="#824c1c" stroke-width="0.4"/>
<polygon points="199.4,53.7 200.8,62.2 202.5,54.6 201.0,46.2" fill="#824c1c" stroke="#824c1c" stroke-width="0.4"/>
<polygon points="182.0,145.6 183.0,155.0 184.8,147.3 183.7,138.0" fill="#b2941f" stroke="#b2941f" stroke-width="0.4"/>
<polygon points="183.7,138.0 184.8,147.3 186.7,139.7 185.4,130.4" fill="#ac8820" stroke="#ac8820" stroke-width="0.4"/>
<polygon points="185.4,130.4 186.7,139.7 188.5,132.0 187.1,122.8" fill="#a87d22" stroke="#a87d22" stroke-width="0.4"/>
<polygon points="187.1,122.8 188.5,132.0 190.3,124.3 188.8,115.2" fill="#a27124" stroke="#a27124" stroke-width="0.4"/>
<polygon points="188.8,115.2 190.3,124.3 192.2,116.7 190.5,107.7" fill="#9e6626" stroke="#9e6626" stroke-width="0.4"/>
<polygon points="190.5,107.7 192.2,116.7 194.0,109.0 192.2,100.1" fill="#985a27" stroke="#985a27" stroke-width="0.4"/>
<polygon points="192.2,100.1 194.0,109.0 195.8,101.3 194.0,92.5" fill="#965428" stroke="#965428" stroke-width="0.4"/>
<polygon points="194.0,92.5 195.8,101.3 197.7,93.7 195.7,84.9" fill="#965428" stroke="#965428" stroke-width="0.4"/>
<polygon points="195.7,84.9 197.7,93.7 199.5,86.0 197.4,77.3" fill="#965428" stroke="#965428" stroke-width="0.4"/>
<polygon points="197.4,77.3 199.5,86.0 201.3,78.3 199.1,69.8" fill="#965428" stroke="#965428" stroke-width="0.4"/>
<polygon points="199.1,69.8 201.3,78.3 203.2,70.7 200.8,62.2" fill="#965428" stroke="#965428" stroke-width="0.4"/>
<polygon points="200.8,62.2 203.2,70.7 205.0,63.0 202.5,54.6" fill="#965428" stroke="#965428" stroke-width="0.4"/>
<polygon points="158.0,126.5 161.2,126.7 163.4,119.5 160.3,119.3" fill="#ec8050" stroke="#ec8050" stroke-width="0.4"/>
<polygon points="160.3,119.3 163.4,119.5 165.7,112.3 162.7,112.2" fill="#eb7d56" stroke="#eb7d56" stroke-width="0.4"/>
<polygon points="162.7,112.2 165.7,112.3 167.9,105.1 165.0,105.0" fill="#e87761" stroke="#e87761" stroke-width="0.4"/>
<polygon points="165.0,105.0 167.9,105.1 170.1,97.9 167.3,97.8" fill="#e6716c" stroke="#e6716c" stroke-width="0.4"/>
<polygon points="167.3,97.8 170.1,97.9 172.4,90.7 169.7,90.7" fill="#e36b76" stroke="#e36b76" stroke-width="0.4"/>
<polygon points="169.7,90.7 172.4,90.7 174.6,83.5 172.0,83.5" fill="#e16681" stroke="#e16681" stroke-width="0.4"/>
<polygon points="172.0,83.5 174.6,83.5 176.8,76.3 174.3,76.3" fill="#e06484" stroke="#e06484" stroke-width="0.4"/>
<polygon points="174.3,76.3 176.8,76.3 179.0,69.1 176.7,69.2" fill="#e06484" stroke="#e06484" stroke-width="0.4"/>
<polygon points="176.7,69.2 179.0,69.1 181.3,61.9 179.0,62.0" fill="#e06484" stroke="#e06484" stroke-width="0.4"/>
<polygon points="179.0,62.0 181.3,61.9 183.5,54.7 181.3,54.8" fill="#e06484" stroke="#e06484" stroke-width="0.4"/>
<polygon points="181.3,54.8 183.5,54.7 185.7,47.5 183.7,47.7" fill="#e06484" stroke="#e06484" stroke-width="0.4"/>
<polygon points="183.7,47.7 185.7,47.5 188.0,40.3 186.0,40.5" fill="#dc6267" stroke="#dc6267" stroke-width="0.4"/>
<polygon points="161.2,126.7 169.5,127.2 171.5,120.0 163.4,119.5" fill="#e87648" stroke="#e87648" stroke-width="0.4"/>
<polygon points="163.4,119.5 171.5,120.0 173.4,112.7 165.7,112.3" fill="#e5714e" stroke="#e5714e" stroke-width="0.4"/>
<polygon points="165.7,112.3 173.4,112.7 175.4,105.4 167.9,105.1" fill="#e06958" stroke="#e06958" stroke-width="0.4"/>
<polygon points="167.9,105.1 175.4,105.4 177.3,98.1 170.1,97.9" fill="#db6062" stroke="#db6062" stroke-width="0.4"/>
<polygon points="170.1,97.9 177.3,98.1 179.3,90.8 172.4,90.7" fill="#d6576d" stroke="#d6576d" stroke-width="0.4"/>
<polygon points="172.4,90.7 179.3,90.8 181.2,83.5 174.6,83.5" fill="#d14e77" stroke="#d14e77" stroke-width="0.4"/>
<polygon points="174.6,83.5 181.2,83.5 183.2,76.2 176.8,76.3" fill="#d04c7a" stroke="#d04c7a" stroke-width="0.4"/>
<polygon points="176.8,76.3 183.2,76.2 185.2,68.9 179.0,69.1" fill="#d04c7a" stroke="#d04c7a" stroke-width="0.4"/>
<polygon points="179.0,69.1 185.2,68.9 187.1,61.6 181.3,61.9" fill="#d04c7a" stroke="#d04c7a" stroke-width="0.4"/>
<polygon points="181.3,61.9 187.1,61.6 189.1,54.3 183.5,54.7" fill="#d04c7a" stroke="#d04c7a" stroke-width="0.4"/>
<polygon points="183.5,54.7 189.1,54.3 191.0,47.0 185.7,47.5" fill="#d04c7a" stroke="#d04c7a" stroke-width="0.4"/>
<polygon points="185.7,47.5 191.0,47.0 193.0,39.8 188.0,40.3" fill="#d25461" stroke="#d25461" stroke-width="0.4"/>
<polygon points="169.5,127.2 174.6,127.6 176.4,120.2 171.5,120.0" fill="#ce6234" stroke="#ce6234" stroke-width="0.4"/>
<polygon points="171.5,120.0 176.4,120.2 178.1,112.9 173.4,112.7" fill="#cc5e39" stroke="#cc5e39" stroke-width="0.4"/>
<polygon points="173.4,112.7 178.1,112.9 179.9,105.5 175.4,105.4" fill="#c85743" stroke="#c85743" stroke-width="0.4"/>
<polygon points="175.4,105.4 179.9,105.5 181.7,98.2 177.3,98.1" fill="#c3504d" stroke="#c3504d" stroke-width="0.4"/>
<polygon points="177.3,98.1 181.7,98.2 183.5,90.8 179.3,90.8" fill="#bf4957" stroke="#bf4957" stroke-width="0.4"/>
<polygon points="179.3,90.8 183.5,90.8 185.3,83.5 181.2,83.5" fill="#bb4261" stroke="#bb4261" stroke-width="0.4"/>
<polygon points="181.2,83.5 185.3,83.5 187.1,76.2 183.2,76.2" fill="#ba4064" stroke="#ba4064" stroke-width="0.4"/>
<polygon points="183.2,76.2 187.1,76.2 188.9,68.8 185.2,68.9" fill="#ba4064" stroke="#ba4064" stroke-width="0.4"/>
<polygon points="185.2,68.9 188.9,68.8 190.7,61.5 187.1,61.6" fill="#ba4064" stroke="#ba4064" stroke-width="0.4"/>
<polygon points="187.1,61.6 190.7,61.5 192.5,54.1 189.1,54.3" fill="#ba4064" stroke="#ba4064" stroke-width="0.4"/>
<polygon points="189.1,54.3 192.5,54.1 194.3,46.8 191.0,47.0" fill="#ba4064" stroke="#ba4064" stroke-width="0.4"/>
<polygon points="191.0,47.0 194.3,46.8 196.1,39.4 193.0,39.8" fill="#c54d54" stroke="#c54d54" stroke-width="0.4"/>
<polygon points="174.6,127.6 181.0,128.0 182.6,120.6 176.4,120.2" fill="#b05424" stroke="#b05424" stroke-width="0.4"/>
<polygon points="176.4,120.2 182.6,120.6 184.2,113.2 178.1,112.9" fill="#ae5228" stroke="#ae5228" stroke-width="0.4"/>
<polygon points="178.1,112.9 184.2,113.2 185.8,105.8 179.9,105.5" fill="#ab4d2f" stroke="#ab4d2f" stroke-width="0.4"/>
<polygon points="179.9,105.5 185.8,105.8 187.3,98.3 181.7,98.2" fill="#a84836" stroke="#a84836" stroke-width="0.4"/>
<polygon points="181.7,98.2 187.3,98.3 188.9,90.9 183.5,90.8" fill="#a4443d" stroke="#a4443d" stroke-width="0.4"/>
<polygon points="183.5,90.8 188.9,90.9 190.5,83.5 185.3,83.5" fill="#a13f44" stroke="#a13f44" stroke-width="0.4"/>
<polygon points="185.3,83.5 190.5,83.5 192.1,76.1 187.1,76.2" fill="#a03e46" stroke="#a03e46" stroke-width="0.4"/>
<polygon points="187.1,76.2 192.1,76.1 193.7,68.7 188.9,68.8" fill="#a03e46" stroke="#a03e46" stroke-width="0.4"/>
<polygon points="188.9,68.8 193.7,68.7 195.2,61.2 190.7,61.5" fill="#a03e46" stroke="#a03e46" stroke-width="0.4"/>
<polygon points="190.7,61.5 195.2,61.2 196.8,53.8 192.5,54.1" fill="#a03e46" stroke="#a03e46" stroke-width="0.4"/>
<polygon points="192.5,54.1 196.8,53.8 198.4,46.4 194.3,46.8" fill="#a03e46" stroke="#a03e46" stroke-width="0.4"/>
<polygon points="194.3,46.8 198.4,46.4 200.0,39.0 196.1,39.4" fill="#b64c42" stroke="#b64c42" stroke-width="0.4"/>
<path d="M186.0,42.5 C187.0,38.5 189.0,37.2 193.0,37.5 C198.0,37.8 200.0,37.5 201.2,42.0 L198.0,42.0 L188.0,43.5 Z" fill="#c95a6a"/>
<polygon points="219.0,159.0 225.0,164.0 225.8,155.9 219.8,151.2" fill="#e2d122" stroke="#e2d122" stroke-width="0.4"/>
<polygon points="219.8,151.2 225.8,155.9 226.6,147.8 220.5,143.3" fill="#e0d022" stroke="#e0d022" stroke-width="0.4"/>
<polygon points="220.5,143.3 226.6,147.8 227.4,139.8 221.2,135.5" fill="#e0cf22" stroke="#e0cf22" stroke-width="0.4"/>
<polygon points="221.2,135.5 227.4,139.8 228.2,131.7 222.0,127.7" fill="#dece23" stroke="#dece23" stroke-width="0.4"/>
<polygon points="222.0,127.7 228.2,131.7 229.0,123.6 222.8,119.8" fill="#decd23" stroke="#decd23" stroke-width="0.4"/>
<polygon points="222.8,119.8 229.0,123.6 229.8,115.5 223.5,112.0" fill="#dccc23" stroke="#dccc23" stroke-width="0.4"/>
<polygon points="223.5,112.0 229.8,115.5 230.5,107.4 224.2,104.2" fill="#dcca23" stroke="#dcca23" stroke-width="0.4"/>
<polygon points="224.2,104.2 230.5,107.4 231.3,99.3 225.0,96.3" fill="#dac923" stroke="#dac923" stroke-width="0.4"/>
<polygon points="225.0,96.3 231.3,99.3 232.1,91.2 225.8,88.5" fill="#dac823" stroke="#dac823" stroke-width="0.4"/>
<polygon points="225.8,88.5 232.1,91.2 232.9,83.2 226.5,80.7" fill="#d8c724" stroke="#d8c724" stroke-width="0.4"/>
<polygon points="226.5,80.7 232.9,83.2 233.7,75.1 227.2,72.8" fill="#d8c624" stroke="#d8c624" stroke-width="0.4"/>
<polygon points="227.2,72.8 233.7,75.1 234.5,67.0 228.0,65.0" fill="#d6c524" stroke="#d6c524" stroke-width="0.4"/>
<polygon points="218.0,132.5 218.2,140.4 218.7,132.7 218.4,124.8" fill="#9f4f20" stroke="#9f4f20" stroke-width="0.4"/>
<polygon points="218.4,124.8 218.7,132.7 219.2,125.0 218.8,117.2" fill="#9c4c24" stroke="#9c4c24" stroke-width="0.4"/>
<polygon points="218.8,117.2 219.2,125.0 219.7,117.3 219.2,109.5" fill="#9a4927" stroke="#9a4927" stroke-width="0.4"/>
<polygon points="219.2,109.5 219.7,117.3 220.1,109.6 219.7,101.8" fill="#98472b" stroke="#98472b" stroke-width="0.4"/>
<polygon points="219.7,101.8 220.1,109.6 220.6,101.9 220.1,94.2" fill="#96442e" stroke="#96442e" stroke-width="0.4"/>
<polygon points="220.1,94.2 220.6,101.9 221.1,94.2 220.5,86.5" fill="#934132" stroke="#934132" stroke-width="0.4"/>
<polygon points="220.5,86.5 221.1,94.2 221.6,86.4 220.9,78.8" fill="#924034" stroke="#924034" stroke-width="0.4"/>
<polygon points="220.9,78.8 221.6,86.4 222.1,78.7 221.3,71.2" fill="#924034" stroke="#924034" stroke-width="0.4"/>
<polygon points="221.3,71.2 222.1,78.7 222.6,71.0 221.8,63.5" fill="#924034" stroke="#924034" stroke-width="0.4"/>
<polygon points="221.8,63.5 222.6,71.0 223.0,63.3 222.2,55.8" fill="#924034" stroke="#924034" stroke-width="0.4"/>
<polygon points="222.2,55.8 223.0,63.3 223.5,55.6 222.6,48.2" fill="#924034" stroke="#924034" stroke-width="0.4"/>
<polygon points="222.6,48.2 223.5,55.6 224.0,47.9 223.0,40.5" fill="#924034" stroke="#924034" stroke-width="0.4"/>
<polygon points="218.2,140.4 218.5,149.7 219.1,141.9 218.7,132.7" fill="#8b5716" stroke="#8b5716" stroke-width="0.4"/>
<polygon points="218.7,132.7 219.1,141.9 219.7,134.2 219.2,125.0" fill="#8a5518" stroke="#8a5518" stroke-width="0.4"/>
<polygon points="219.2,125.0 219.7,134.2 220.2,126.4 219.7,117.3" fill="#885318" stroke="#885318" stroke-width="0.4"/>
<polygon points="219.7,117.3 220.2,126.4 220.8,118.6 220.1,109.6" fill="#86511a" stroke="#86511a" stroke-width="0.4"/>
<polygon points="220.1,109.6 220.8,118.6 221.4,110.8 220.6,101.9" fill="#844f1a" stroke="#844f1a" stroke-width="0.4"/>
<polygon points="220.6,101.9 221.4,110.8 222.0,103.1 221.1,94.2" fill="#834d1c" stroke="#834d1c" stroke-width="0.4"/>
<polygon points="221.1,94.2 222.0,103.1 222.6,95.3 221.6,86.4" fill="#824c1c" stroke="#824c1c" stroke-width="0.4"/>
<polygon points="221.6,86.4 222.6,95.3 223.2,87.5 222.1,78.7" fill="#824c1c" stroke="#824c1c" stroke-width="0.4"/>
<polygon points="222.1,78.7 223.2,87.5 223.8,79.8 222.6,71.0" fill="#824c1c" stroke="#824c1c" stroke-width="0.4"/>
<polygon points="222.6,71.0 223.8,79.8 224.3,72.0 223.0,63.3" fill="#824c1c" stroke="#824c1c" stroke-width="0.4"/>
<polygon points="223.0,63.3 224.3,72.0 224.9,64.2 223.5,55.6" fill="#824c1c" stroke="#824c1c" stroke-width="0.4"/>
<polygon points="223.5,55.6 224.9,64.2 225.5,56.4 224.0,47.9" fill="#824c1c" stroke="#824c1c" stroke-width="0.4"/>
<polygon points="218.5,149.7 219.0,159.0 219.8,151.2 219.1,141.9" fill="#b2941f" stroke="#b2941f" stroke-width="0.4"/>
<polygon points="219.1,141.9 219.8,151.2 220.5,143.3 219.7,134.2" fill="#ac8820" stroke="#ac8820" stroke-width="0.4"/>
<polygon points="219.7,134.2 220.5,143.3 221.2,135.5 220.2,126.4" fill="#a87d22" stroke="#a87d22" stroke-width="0.4"/>
<polygon points="220.2,126.4 221.2,135.5 222.0,127.7 220.8,118.6" fill="#a27124" stroke="#a27124" stroke-width="0.4"/>
<polygon points="220.8,118.6 222.0,127.7 222.8,119.8 221.4,110.8" fill="#9e6626" stroke="#9e6626" stroke-width="0.4"/>
<polygon points="221.4,110.8 222.8,119.8 223.5,112.0 222.0,103.1" fill="#985a27" stroke="#985a27" stroke-width="0.4"/>
<polygon points="222.0,103.1 223.5,112.0 224.2,104.2 222.6,95.3" fill="#965428" stroke="#965428" stroke-width="0.4"/>
<polygon points="222.6,95.3 224.2,104.2 225.0,96.3 223.2,87.5" fill="#965428" stroke="#965428" stroke-width="0.4"/>
<polygon points="223.2,87.5 225.0,96.3 225.8,88.5 223.8,79.8" fill="#965428" stroke="#965428" stroke-width="0.4"/>
<polygon points="223.8,79.8 225.8,88.5 226.5,80.7 224.3,72.0" fill="#965428" stroke="#965428" stroke-width="0.4"/>
<polygon points="224.3,72.0 226.5,80.7 227.2,72.8 224.9,64.2" fill="#965428" stroke="#965428" stroke-width="0.4"/>
<polygon points="224.9,64.2 227.2,72.8 228.0,65.0 225.5,56.4" fill="#965428" stroke="#965428" stroke-width="0.4"/>
<polygon points="192.0,131.0 195.6,131.2 196.9,123.9 193.4,123.8" fill="#ec8050" stroke="#ec8050" stroke-width="0.4"/>
<polygon points="193.4,123.8 196.9,123.9 198.2,116.6 194.8,116.5" fill="#eb7d56" stroke="#eb7d56" stroke-width="0.4"/>
<polygon points="194.8,116.5 198.2,116.6 199.5,109.3 196.2,109.2" fill="#e87761" stroke="#e87761" stroke-width="0.4"/>
<polygon points="196.2,109.2 199.5,109.3 200.7,102.0 197.7,102.0" fill="#e6716c" stroke="#e6716c" stroke-width="0.4"/>
<polygon points="197.7,102.0 200.7,102.0 202.0,94.7 199.1,94.8" fill="#e36b76" stroke="#e36b76" stroke-width="0.4"/>
<polygon points="199.1,94.8 202.0,94.7 203.3,87.4 200.5,87.5" fill="#e16681" stroke="#e16681" stroke-width="0.4"/>
<polygon points="200.5,87.5 203.3,87.4 204.6,80.1 201.9,80.2" fill="#e06484" stroke="#e06484" stroke-width="0.4"/>
<polygon points="201.9,80.2 204.6,80.1 205.9,72.7 203.3,73.0" fill="#e06484" stroke="#e06484" stroke-width="0.4"/>
<polygon points="203.3,73.0 205.9,72.7 207.1,65.4 204.8,65.8" fill="#e06484" stroke="#e06484" stroke-width="0.4"/>
<polygon points="204.8,65.8 207.1,65.4 208.4,58.1 206.2,58.5" fill="#e06484" stroke="#e06484" stroke-width="0.4"/>
<polygon points="206.2,58.5 208.4,58.1 209.7,50.8 207.6,51.2" fill="#e06484" stroke="#e06484" stroke-width="0.4"/>
<polygon points="207.6,51.2 209.7,50.8 211.0,43.5 209.0,44.0" fill="#dc6267" stroke="#dc6267" stroke-width="0.4"/>
<polygon points="195.6,131.2 205.0,131.8 205.9,124.3 196.9,123.9" fill="#e87648" stroke="#e87648" stroke-width="0.4"/>
<polygon points="196.9,123.9 205.9,124.3 206.8,116.8 198.2,116.6" fill="#e5714e" stroke="#e5714e" stroke-width="0.4"/>
<polygon points="198.2,116.6 206.8,116.8 207.8,109.4 199.5,109.3" fill="#e06958" stroke="#e06958" stroke-width="0.4"/>
<polygon points="199.5,109.3 207.8,109.4 208.7,101.9 200.7,102.0" fill="#db6062" stroke="#db6062" stroke-width="0.4"/>
<polygon points="200.7,102.0 208.7,101.9 209.6,94.5 202.0,94.7" fill="#d6576d" stroke="#d6576d" stroke-width="0.4"/>
<polygon points="202.0,94.7 209.6,94.5 210.5,87.0 203.3,87.4" fill="#d14e77" stroke="#d14e77" stroke-width="0.4"/>
<polygon points="203.3,87.4 210.5,87.0 211.4,79.5 204.6,80.1" fill="#d04c7a" stroke="#d04c7a" stroke-width="0.4"/>
<polygon points="204.6,80.1 211.4,79.5 212.3,72.1 205.9,72.7" fill="#d04c7a" stroke="#d04c7a" stroke-width="0.4"/>
<polygon points="205.9,72.7 212.3,72.1 213.2,64.6 207.1,65.4" fill="#d04c7a" stroke="#d04c7a" stroke-width="0.4"/>
<polygon points="207.1,65.4 213.2,64.6 214.2,57.2 208.4,58.1" fill="#d04c7a" stroke="#d04c7a" stroke-width="0.4"/>
<polygon points="208.4,58.1 214.2,57.2 215.1,49.7 209.7,50.8" fill="#d04c7a" stroke="#d04c7a" stroke-width="0.4"/>
<polygon points="209.7,50.8 215.1,49.7 216.0,42.2 211.0,43.5" fill="#d25461" stroke="#d25461" stroke-width="0.4"/>
<polygon points="205.0,131.8 210.7,132.1 211.4,124.5 205.9,124.3" fill="#ce6234" stroke="#ce6234" stroke-width="0.4"/>
<polygon points="205.9,124.3 211.4,124.5 212.1,117.0 206.8,116.8" fill="#cc5e39" stroke="#cc5e39" stroke-width="0.4"/>
<polygon points="206.8,116.8 212.1,117.0 212.8,109.4 207.8,109.4" fill="#c85743" stroke="#c85743" stroke-width="0.4"/>
<polygon points="207.8,109.4 212.8,109.4 213.5,101.9 208.7,101.9" fill="#c3504d" stroke="#c3504d" stroke-width="0.4"/>
<polygon points="208.7,101.9 213.5,101.9 214.2,94.3 209.6,94.5" fill="#bf4957" stroke="#bf4957" stroke-width="0.4"/>
<polygon points="209.6,94.5 214.2,94.3 214.9,86.8 210.5,87.0" fill="#bb4261" stroke="#bb4261" stroke-width="0.4"/>
<polygon points="210.5,87.0 214.9,86.8 215.6,79.2 211.4,79.5" fill="#ba4064" stroke="#ba4064" stroke-width="0.4"/>
<polygon points="211.4,79.5 215.6,79.2 216.3,71.7 212.3,72.1" fill="#ba4064" stroke="#ba4064" stroke-width="0.4"/>
<polygon points="212.3,72.1 216.3,71.7 217.0,64.1 213.2,64.6" fill="#ba4064" stroke="#ba4064" stroke-width="0.4"/>
<polygon points="213.2,64.6 217.0,64.1 217.7,56.6 214.2,57.2" fill="#ba4064" stroke="#ba4064" stroke-width="0.4"/>
<polygon points="214.2,57.2 217.7,56.6 218.4,49.0 215.1,49.7" fill="#ba4064" stroke="#ba4064" stroke-width="0.4"/>
<polygon points="215.1,49.7 218.4,49.0 219.1,41.5 216.0,42.2" fill="#c54d54" stroke="#c54d54" stroke-width="0.4"/>
<polygon points="210.7,132.1 218.0,132.5 218.4,124.8 211.4,124.5" fill="#b05424" stroke="#b05424" stroke-width="0.4"/>
<polygon points="211.4,124.5 218.4,124.8 218.8,117.2 212.1,117.0" fill="#ae5228" stroke="#ae5228" stroke-width="0.4"/>
<polygon points="212.1,117.0 218.8,117.2 219.2,109.5 212.8,109.4" fill="#ab4d2f" stroke="#ab4d2f" stroke-width="0.4"/>
<polygon points="212.8,109.4 219.2,109.5 219.7,101.8 213.5,101.9" fill="#a84836" stroke="#a84836" stroke-width="0.4"/>
<polygon points="213.5,101.9 219.7,101.8 220.1,94.2 214.2,94.3" fill="#a4443d" stroke="#a4443d" stroke-width="0.4"/>
<polygon points="214.2,94.3 220.1,94.2 220.5,86.5 214.9,86.8" fill="#a13f44" stroke="#a13f44" stroke-width="0.4"/>
<polygon points="214.9,86.8 220.5,86.5 220.9,78.8 215.6,79.2" fill="#a03e46" stroke="#a03e46" stroke-width="0.4"/>
<polygon points="215.6,79.2 220.9,78.8 221.3,71.2 216.3,71.7" fill="#a03e46" stroke="#a03e46" stroke-width="0.4"/>
<polygon points="216.3,71.7 221.3,71.2 221.8,63.5 217.0,64.1" fill="#a03e46" stroke="#a03e46" stroke-width="0.4"/>
<polygon points="217.0,64.1 221.8,63.5 222.2,55.8 217.7,56.6" fill="#a03e46" stroke="#a03e46" stroke-width="0.4"/>
<polygon points="217.7,56.6 222.2,55.8 222.6,48.2 218.4,49.0" fill="#a03e46" stroke="#a03e46" stroke-width="0.4"/>
<polygon points="218.4,49.0 222.6,48.2 223.0,40.5 219.1,41.5" fill="#b64c42" stroke="#b64c42" stroke-width="0.4"/>
<path d="M209.0,46.0 C210.0,42.0 212.0,39.8 216.0,40.0 C221.0,40.2 223.0,39.0 224.2,43.5 L221.0,43.5 L211.0,47.0 Z" fill="#c95a6a"/>
<polygon points="253.0,134.0 253.2,142.7 253.0,134.9 252.8,126.3" fill="#9f4f20" stroke="#9f4f20" stroke-width="0.4"/>
<polygon points="252.8,126.3 253.0,134.9 252.8,127.2 252.6,118.7" fill="#9c4c24" stroke="#9c4c24" stroke-width="0.4"/>
<polygon points="252.6,118.7 252.8,127.2 252.6,119.4 252.4,111.0" fill="#9a4927" stroke="#9a4927" stroke-width="0.4"/>
<polygon points="252.4,111.0 252.6,119.4 252.4,111.6 252.2,103.3" fill="#98472b" stroke="#98472b" stroke-width="0.4"/>
<polygon points="252.2,103.3 252.4,111.6 252.2,103.9 252.0,95.7" fill="#96442e" stroke="#96442e" stroke-width="0.4"/>
<polygon points="252.0,95.7 252.2,103.9 252.0,96.1 251.8,88.0" fill="#934132" stroke="#934132" stroke-width="0.4"/>
<polygon points="251.8,88.0 252.0,96.1 251.8,88.3 251.5,80.3" fill="#924034" stroke="#924034" stroke-width="0.4"/>
<polygon points="251.5,80.3 251.8,88.3 251.6,80.6 251.3,72.7" fill="#924034" stroke="#924034" stroke-width="0.4"/>
<polygon points="251.3,72.7 251.6,80.6 251.4,72.8 251.1,65.0" fill="#924034" stroke="#924034" stroke-width="0.4"/>
<polygon points="251.1,65.0 251.4,72.8 251.2,65.0 250.9,57.3" fill="#924034" stroke="#924034" stroke-width="0.4"/>
<polygon points="250.9,57.3 251.2,65.0 251.0,57.3 250.7,49.7" fill="#924034" stroke="#924034" stroke-width="0.4"/>
<polygon points="250.7,49.7 251.0,57.3 250.8,49.5 250.5,42.0" fill="#924034" stroke="#924034" stroke-width="0.4"/>
<polygon points="253.2,142.7 253.5,152.8 253.3,145.0 253.0,134.9" fill="#8b5716" stroke="#8b5716" stroke-width="0.4"/>
<polygon points="253.0,134.9 253.3,145.0 253.1,137.1 252.8,127.2" fill="#8a5518" stroke="#8a5518" stroke-width="0.4"/>
<polygon points="252.8,127.2 253.1,137.1 252.9,129.2 252.6,119.4" fill="#885318" stroke="#885318" stroke-width="0.4"/>
<polygon points="252.6,119.4 252.9,129.2 252.8,121.3 252.4,111.6" fill="#86511a" stroke="#86511a" stroke-width="0.4"/>
<polygon points="252.4,111.6 252.8,121.3 252.6,113.4 252.2,103.9" fill="#844f1a" stroke="#844f1a" stroke-width="0.4"/>
<polygon points="252.2,103.9 252.6,113.4 252.4,105.5 252.0,96.1" fill="#834d1c" stroke="#834d1c" stroke-width="0.4"/>
<polygon points="252.0,96.1 252.4,105.5 252.2,97.7 251.8,88.3" fill="#824c1c" stroke="#824c1c" stroke-width="0.4"/>
<polygon points="251.8,88.3 252.2,97.7 252.0,89.8 251.6,80.6" fill="#824c1c" stroke="#824c1c" stroke-width="0.4"/>
<polygon points="251.6,80.6 252.0,89.8 251.8,81.9 251.4,72.8" fill="#824c1c" stroke="#824c1c" stroke-width="0.4"/>
<polygon points="251.4,72.8 251.8,81.9 251.6,74.0 251.2,65.0" fill="#824c1c" stroke="#824c1c" stroke-width="0.4"/>
<polygon points="251.2,65.0 251.6,74.0 251.4,66.1 251.0,57.3" fill="#824c1c" stroke="#824c1c" stroke-width="0.4"/>
<polygon points="251.0,57.3 251.4,66.1 251.2,58.2 250.8,49.5" fill="#824c1c" stroke="#824c1c" stroke-width="0.4"/>
<polygon points="253.5,152.8 254.0,163.0 253.8,155.0 253.3,145.0" fill="#bc5e2a" stroke="#bc5e2a" stroke-width="0.4"/>
<polygon points="253.3,145.0 253.8,155.0 253.7,147.0 253.1,137.1" fill="#b95a2d" stroke="#b95a2d" stroke-width="0.4"/>
<polygon points="253.1,137.1 253.7,147.0 253.5,139.0 252.9,129.2" fill="#b65530" stroke="#b65530" stroke-width="0.4"/>
<polygon points="252.9,129.2 253.5,139.0 253.3,131.0 252.8,121.3" fill="#b25134" stroke="#b25134" stroke-width="0.4"/>
<polygon points="252.8,121.3 253.3,131.0 253.2,123.0 252.6,113.4" fill="#af4c37" stroke="#af4c37" stroke-width="0.4"/>
<polygon points="252.6,113.4 253.2,123.0 253.0,115.0 252.4,105.5" fill="#ac483a" stroke="#ac483a" stroke-width="0.4"/>
<polygon points="252.4,105.5 253.0,115.0 252.8,107.0 252.2,97.7" fill="#aa463c" stroke="#aa463c" stroke-width="0.4"/>
<polygon points="252.2,97.7 252.8,107.0 252.7,99.0 252.0,89.8" fill="#aa463c" stroke="#aa463c" stroke-width="0.4"/>
<polygon points="252.0,89.8 252.7,99.0 252.5,91.0 251.8,81.9" fill="#aa463c" stroke="#aa463c" stroke-width="0.4"/>
<polygon points="251.8,81.9 252.5,91.0 252.3,83.0 251.6,74.0" fill="#aa463c" stroke="#aa463c" stroke-width="0.4"/>
<polygon points="251.6,74.0 252.3,83.0 252.2,75.0 251.4,66.1" fill="#aa463c" stroke="#aa463c" stroke-width="0.4"/>
<polygon points="251.4,66.1 252.2,75.0 252.0,67.0 251.2,58.2" fill="#aa463c" stroke="#aa463c" stroke-width="0.4"/>
<polygon points="225.0,135.0 228.9,134.9 229.6,127.3 225.8,127.5" fill="#ec8050" stroke="#ec8050" stroke-width="0.4"/>
<polygon points="225.8,127.5 229.6,127.3 230.2,119.8 226.6,120.0" fill="#eb7d56" stroke="#eb7d56" stroke-width="0.4"/>
<polygon points="226.6,120.0 230.2,119.8 230.9,112.3 227.4,112.5" fill="#e87761" stroke="#e87761" stroke-width="0.4"/>
<polygon points="227.4,112.5 230.9,112.3 231.5,104.8 228.2,105.0" fill="#e6716c" stroke="#e6716c" stroke-width="0.4"/>
<polygon points="228.2,105.0 231.5,104.8 232.2,97.2 229.0,97.5" fill="#e36b76" stroke="#e36b76" stroke-width="0.4"/>
<polygon points="229.0,97.5 232.2,97.2 232.8,89.7 229.8,90.0" fill="#e16681" stroke="#e16681" stroke-width="0.4"/>
<polygon points="229.8,90.0 232.8,89.7 233.5,82.2 230.5,82.5" fill="#e06484" stroke="#e06484" stroke-width="0.4"/>
<polygon points="230.5,82.5 233.5,82.2 234.1,74.7 231.3,75.0" fill="#e06484" stroke="#e06484" stroke-width="0.4"/>
<polygon points="231.3,75.0 234.1,74.7 234.8,67.2 232.1,67.5" fill="#e06484" stroke="#e06484" stroke-width="0.4"/>
<polygon points="232.1,67.5 234.8,67.2 235.4,59.6 232.9,60.0" fill="#e06484" stroke="#e06484" stroke-width="0.4"/>
<polygon points="232.9,60.0 235.4,59.6 236.1,52.1 233.7,52.5" fill="#e06484" stroke="#e06484" stroke-width="0.4"/>
<polygon points="233.7,52.5 236.1,52.1 236.7,44.6 234.5,45.0" fill="#dc6267" stroke="#dc6267" stroke-width="0.4"/>
<polygon points="228.9,134.9 239.0,134.5 239.3,126.9 229.6,127.3" fill="#e87648" stroke="#e87648" stroke-width="0.4"/>
<polygon points="229.6,127.3 239.3,126.9 239.6,119.3 230.2,119.8" fill="#e5714e" stroke="#e5714e" stroke-width="0.4"/>
<polygon points="230.2,119.8 239.6,119.3 239.9,111.8 230.9,112.3" fill="#e06958" stroke="#e06958" stroke-width="0.4"/>
<polygon points="230.9,112.3 239.9,111.8 240.2,104.2 231.5,104.8" fill="#db6062" stroke="#db6062" stroke-width="0.4"/>
<polygon points="231.5,104.8 240.2,104.2 240.5,96.6 232.2,97.2" fill="#d6576d" stroke="#d6576d" stroke-width="0.4"/>
<polygon points="232.2,97.2 240.5,96.6 240.8,89.0 232.8,89.7" fill="#d14e77" stroke="#d14e77" stroke-width="0.4"/>
<polygon points="232.8,89.7 240.8,89.0 241.0,81.4 233.5,82.2" fill="#d04c7a" stroke="#d04c7a" stroke-width="0.4"/>
<polygon points="233.5,82.2 241.0,81.4 241.3,73.8 234.1,74.7" fill="#d04c7a" stroke="#d04c7a" stroke-width="0.4"/>
<polygon points="234.1,74.7 241.3,73.8 241.6,66.2 234.8,67.2" fill="#d04c7a" stroke="#d04c7a" stroke-width="0.4"/>
<polygon points="234.8,67.2 241.6,66.2 241.9,58.7 235.4,59.6" fill="#d04c7a" stroke="#d04c7a" stroke-width="0.4"/>
<polygon points="235.4,59.6 241.9,58.7 242.2,51.1 236.1,52.1" fill="#d04c7a" stroke="#d04c7a" stroke-width="0.4"/>
<polygon points="236.1,52.1 242.2,51.1 242.5,43.5 236.7,44.6" fill="#d25461" stroke="#d25461" stroke-width="0.4"/>
<polygon points="239.0,134.5 245.2,134.3 245.2,126.7 239.3,126.9" fill="#ce6234" stroke="#ce6234" stroke-width="0.4"/>
<polygon points="239.3,126.9 245.2,126.7 245.3,119.0 239.6,119.3" fill="#cc5e39" stroke="#cc5e39" stroke-width="0.4"/>
<polygon points="239.6,119.3 245.3,119.0 245.4,111.4 239.9,111.8" fill="#c85743" stroke="#c85743" stroke-width="0.4"/>
<polygon points="239.9,111.8 245.4,111.4 245.4,103.8 240.2,104.2" fill="#c3504d" stroke="#c3504d" stroke-width="0.4"/>
<polygon points="240.2,104.2 245.4,103.8 245.5,96.2 240.5,96.6" fill="#bf4957" stroke="#bf4957" stroke-width="0.4"/>
<polygon points="240.5,96.6 245.5,96.2 245.6,88.6 240.8,89.0" fill="#bb4261" stroke="#bb4261" stroke-width="0.4"/>
<polygon points="240.8,89.0 245.6,88.6 245.7,80.9 241.0,81.4" fill="#ba4064" stroke="#ba4064" stroke-width="0.4"/>
<polygon points="241.0,81.4 245.7,80.9 245.7,73.3 241.3,73.8" fill="#ba4064" stroke="#ba4064" stroke-width="0.4"/>
<polygon points="241.3,73.8 245.7,73.3 245.8,65.7 241.6,66.2" fill="#ba4064" stroke="#ba4064" stroke-width="0.4"/>
<polygon points="241.6,66.2 245.8,65.7 245.9,58.1 241.9,58.7" fill="#ba4064" stroke="#ba4064" stroke-width="0.4"/>
<polygon points="241.9,58.7 245.9,58.1 245.9,50.5 242.2,51.1" fill="#ba4064" stroke="#ba4064" stroke-width="0.4"/>
<polygon points="242.2,51.1 245.9,50.5 246.0,42.8 242.5,43.5" fill="#c54d54" stroke="#c54d54" stroke-width="0.4"/>
<polygon points="245.2,134.3 253.0,134.0 252.8,126.3 245.2,126.7" fill="#b05424" stroke="#b05424" stroke-width="0.4"/>
<polygon points="245.2,126.7 252.8,126.3 252.6,118.7 245.3,119.0" fill="#ae5228" stroke="#ae5228" stroke-width="0.4"/>
<polygon points="245.3,119.0 252.6,118.7 252.4,111.0 245.4,111.4" fill="#ab4d2f" stroke="#ab4d2f" stroke-width="0.4"/>
<polygon points="245.4,111.4 252.4,111.0 252.2,103.3 245.4,103.8" fill="#a84836" stroke="#a84836" stroke-width="0.4"/>
<polygon points="245.4,103.8 252.2,103.3 252.0,95.7 245.5,96.2" fill="#a4443d" stroke="#a4443d" stroke-width="0.4"/>
<polygon points="245.5,96.2 252.0,95.7 251.8,88.0 245.6,88.6" fill="#a13f44" stroke="#a13f44" stroke-width="0.4"/>
<polygon points="245.6,88.6 251.8,88.0 251.5,80.3 245.7,80.9" fill="#a03e46" stroke="#a03e46" stroke-width="0.4"/>
<polygon points="245.7,80.9 251.5,80.3 251.3,72.7 245.7,73.3" fill="#a03e46" stroke="#a03e46" stroke-width="0.4"/>
<polygon points="245.7,73.3 251.3,72.7 251.1,65.0 245.8,65.7" fill="#a03e46" stroke="#a03e46" stroke-width="0.4"/>
<polygon points="245.8,65.7 251.1,65.0 250.9,57.3 245.9,58.1" fill="#a03e46" stroke="#a03e46" stroke-width="0.4"/>
<polygon points="245.9,58.1 250.9,57.3 250.7,49.7 245.9,50.5" fill="#a03e46" stroke="#a03e46" stroke-width="0.4"/>
<polygon points="245.9,50.5 250.7,49.7 250.5,42.0 246.0,42.8" fill="#b64c42" stroke="#b64c42" stroke-width="0.4"/>
<path d="M234.5,47.0 C235.5,43.0 238.5,41.0 242.5,41.3 C247.5,41.5 250.5,40.5 251.7,45.0 L248.5,45.0 L236.5,48.0 Z" fill="#c95a6a"/>
</g>
<polygon points="131.8,36.5 138.7,37.0 133.0,47.0 132.5,41.0" fill="#fff"/>
<polygon points="154.8,37.0 161.7,38.5 151.4,62.0 155.5,56.0" fill="#fff"/>
<polygon points="177.8,38.8 185.7,41.0 179.0,62.0 178.5,56.0" fill="#fff"/>
<polygon points="200.8,40.5 208.7,44.5 205.1,64.0 201.5,58.0" fill="#fff"/>
<polygon points="223.8,42.0 234.2,45.5 232.3,66.0 224.5,60.0" fill="#fff"/>
<polygon points="74.5,109.8 84.0,114.5 84.0,121.5 70,113.8" fill="#b8683a"/>
<path d="M62.5,141.5 L59.5,114.5 C60.0,111.3 64,110.8 70,110.8 C76,110.8 81.0,114.0 81.5,116.5 C83.0,130.5 87.5,136.5 88.0,144.5 Z" fill="#3d3d3d"/>
<polygon points="106.5,116.6 116.0,120.5 116.0,127.5 100,120.6" fill="#b8683a"/>
<path d="M92.5,145.0 L92.0,121.3 C92.5,118.1 94,117.6 100,117.6 C106,117.6 113.0,120.0 113.5,122.5 C115.0,135.25 117.5,140.0 118.0,148.0 Z" fill="#3d3d3d"/>
<polygon points="139.2,119.6 148.7,123.0 148.7,130.0 132,123.6" fill="#b8683a"/>
<path d="M124.3,147.4 L125.0,124.0 C125.5,121.1 126,120.6 132,120.6 C138,120.6 145.7,122.5 146.2,125.0 C147.7,138.4 151.9,143.8 152.4,151.8 Z" fill="#3d3d3d"/>
<polygon points="173.5,122.7 183.0,126.5 183.0,133.5 168.7,126.7" fill="#b8683a"/>
<path d="M156.9,152.4 L158.1,129.0 C158.6,124.2 162.7,123.7 168.7,123.7 C174.7,123.7 180.0,126.0 180.5,128.5 C182.0,142.25 183.2,148.0 183.7,156.0 Z" fill="#3d3d3d"/>
<polygon points="209.8,127.69999999999999 219.3,132.0 219.3,139.0 204,131.7" fill="#b8683a"/>
<path d="M192.0,156.8 L193.7,136.5 C194.2,129.2 198,128.7 204,128.7 C210,128.7 216.3,131.5 216.8,134.0 C218.3,146.5 218.2,151.0 218.7,159.0 Z" fill="#3d3d3d"/>
<polygon points="245.6,130.8 255.1,130.5 255.1,137.5 242,134.8" fill="#b8683a"/>
<path d="M225.5,160.0 L227.5,139.0 C228.0,132.3 236,131.8 242,131.8 C248,131.8 252.1,130.0 252.6,132.5 C254.1,148.05 253.2,155.6 253.7,163.6 Z" fill="#3d3d3d"/>
<g stroke="#5c5c5c" stroke-width="0.4" fill="none" opacity="0.7">
<line x1="61" y1="130.5" x2="254" y2="152.5"/>
<line x1="61" y1="119.0" x2="254" y2="141.0"/>
</g>
<line x1="60" y1="143" x2="254" y2="166" stroke="#9a9a9a" stroke-width="0.6"/>
<g stroke="#9a9a9a" stroke-width="0.5">
<line x1="60.0" y1="143.0" x2="59.2" y2="147.0"/>
<line x1="69.7" y1="144.2" x2="68.9" y2="146.7"/>
<line x1="79.4" y1="145.3" x2="78.6" y2="147.8"/>
<line x1="89.1" y1="146.4" x2="88.3" y2="148.9"/>
<line x1="98.8" y1="147.6" x2="98.0" y2="150.1"/>
<line x1="108.5" y1="148.8" x2="107.7" y2="152.8"/>
<line x1="118.2" y1="149.9" x2="117.4" y2="152.4"/>
<line x1="127.9" y1="151.1" x2="127.1" y2="153.6"/>
<line x1="137.6" y1="152.2" x2="136.8" y2="154.7"/>
<line x1="147.3" y1="153.3" x2="146.5" y2="155.8"/>
<line x1="157.0" y1="154.5" x2="156.2" y2="158.5"/>
<line x1="166.7" y1="155.7" x2="165.9" y2="158.2"/>
<line x1="176.4" y1="156.8" x2="175.6" y2="159.3"/>
<line x1="186.1" y1="157.9" x2="185.3" y2="160.4"/>
<line x1="195.8" y1="159.1" x2="195.0" y2="161.6"/>
<line x1="205.5" y1="160.2" x2="204.7" y2="164.2"/>
<line x1="215.2" y1="161.4" x2="214.4" y2="163.9"/>
<line x1="224.9" y1="162.6" x2="224.1" y2="165.1"/>
<line x1="234.6" y1="163.7" x2="233.8" y2="166.2"/>
<line x1="244.3" y1="164.8" x2="243.5" y2="167.3"/>
<line x1="254.0" y1="166.0" x2="253.2" y2="170.0"/>
</g>
<g stroke="#9a9a9a" stroke-width="0.5">
<line x1="49.0" y1="108.0" x2="55.0" y2="107.4"/>
<line x1="51.0" y1="121.5" x2="57.0" y2="120.9"/>
<line x1="53.0" y1="133.0" x2="59.0" y2="132.4"/>
<line x1="55.0" y1="144.5" x2="61.0" y2="143.9"/>
</g>
<g fill="#3a3a3a" font-size="7.8">
<text x="35.8" y="112.6" transform="rotate(-10 35.8 112.6)" textLength="11.8" lengthAdjust="spacingAndGlyphs">150</text>
<text x="38.5" y="125.2" transform="rotate(-10 38.5 125.2)" textLength="12" lengthAdjust="spacingAndGlyphs">100</text>
<text x="45.8" y="136.4" transform="rotate(-10 45.8 136.4)" textLength="8" lengthAdjust="spacingAndGlyphs">50</text>
<text x="53" y="145.8" transform="rotate(-10 53 145.8)">0</text>
<text x="57.5" y="153" transform="rotate(-60 57.5 153)" font-size="6.5">2</text>
<text x="100.5" y="158.6" transform="rotate(6 100.5 158.6)" font-size="7.4">1.5</text>
<text x="150.3" y="164.6" transform="rotate(6 150.3 164.6)" font-size="7.4">1</text>
<text x="196.4" y="171.5" transform="rotate(6 196.4 171.5)" font-size="7.4">0.5</text>
<text x="251.5" y="178.6" font-size="7.4">0</text>
<text x="261" y="166" transform="rotate(80 261 166)" font-size="6">2</text>
<text x="123" y="172.8" transform="rotate(8 123 172.8)" font-size="7.6" font-style="italic" textLength="52" lengthAdjust="spacingAndGlyphs">X-Distance (&#956;m)</text>
<text transform="translate(30.5,125.5) rotate(-103)" text-anchor="middle" font-size="7.8" textLength="35" lengthAdjust="spacingAndGlyphs">Height (nm)</text>
<text transform="translate(274.5,108.5) rotate(-90)" text-anchor="middle" font-size="5.6" font-style="italic" textLength="29" lengthAdjust="spacingAndGlyphs">Y-Distance (&#956;m)</text>
<text x="263.5" y="141" transform="rotate(-90 263.5 141)" font-size="5.5">1.5</text>
<text x="261.5" y="91" transform="rotate(-90 261.5 91)" font-size="4.8">1</text>
<text x="261" y="76" transform="rotate(-90 261 76)" font-size="4.6">0.5</text>
</g>
</g>
</svg></body></html>
